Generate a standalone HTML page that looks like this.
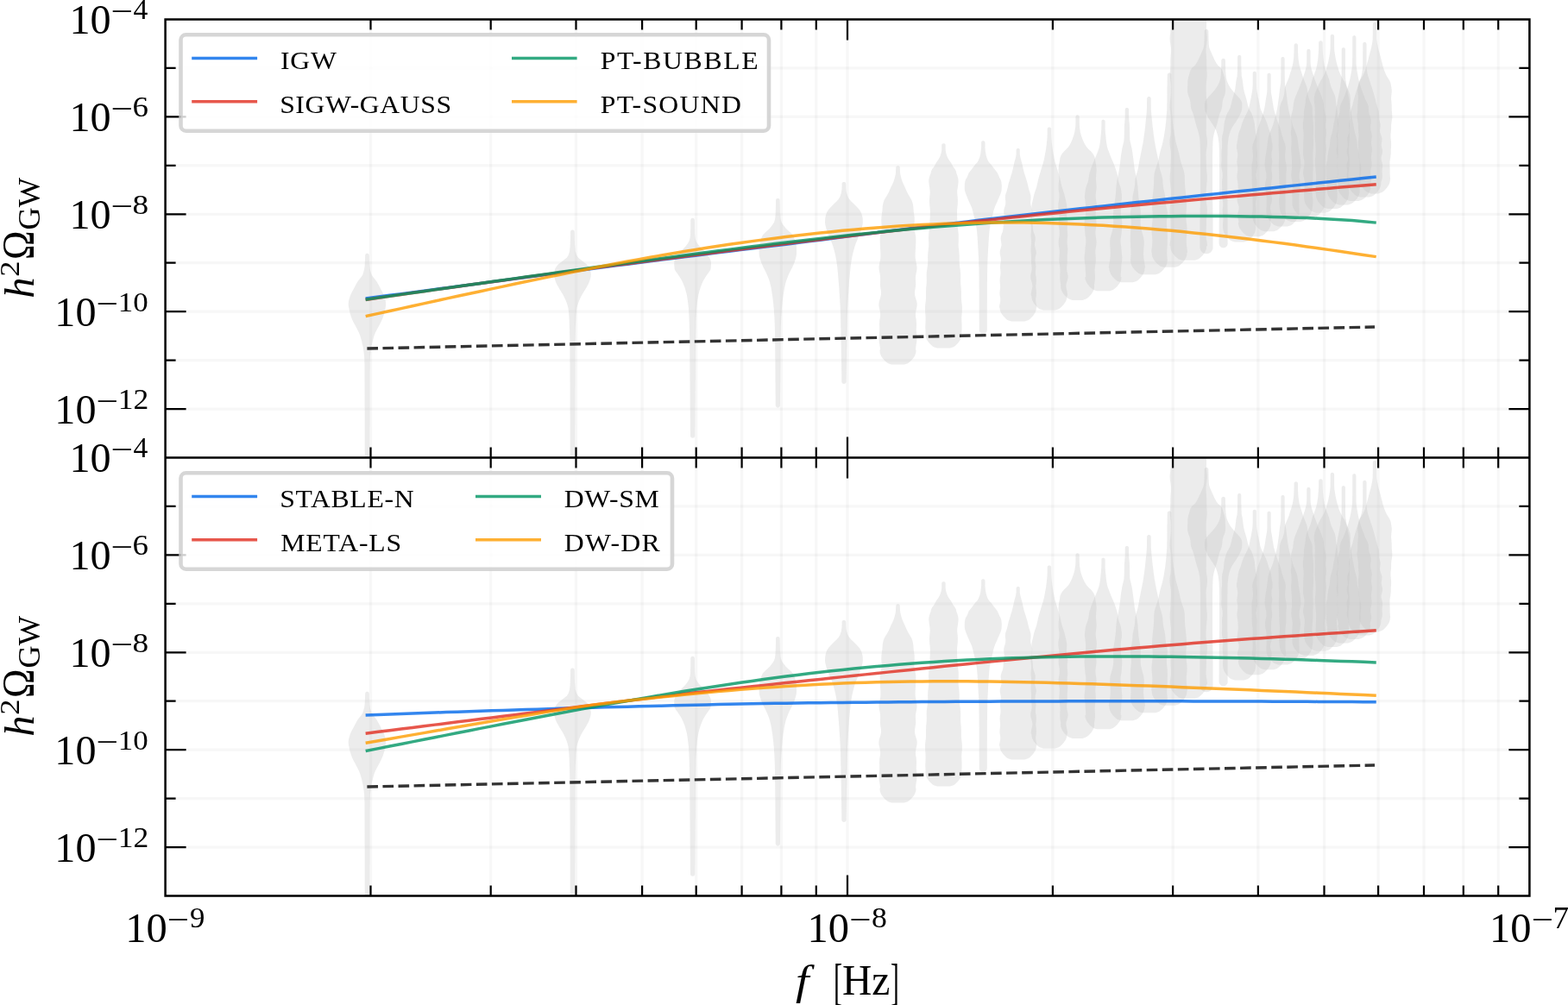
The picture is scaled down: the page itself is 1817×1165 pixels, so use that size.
<!DOCTYPE html>
<html lang="en"><head><meta charset="utf-8"><title>GWB spectra</title>
<style>html,body{margin:0;padding:0;background:#fff;overflow:hidden}svg{display:block}text{font-family:"Liberation Serif","DejaVu Serif",serif;fill:#000}</style></head><body>
<svg width="1817" height="1165" viewBox="0 0 1817 1165">
<rect width="1817" height="1165" fill="#fff"/>
<defs>
<clipPath id="clip0"><rect x="191.6" y="22.5" width="1580.8" height="508.0"/></clipPath>
<clipPath id="clip1"><rect x="191.6" y="530.5" width="1580.8" height="507.9"/></clipPath>
</defs>
<g id="panel0">
<path d="M429.5 22.5V530.5M568.7 22.5V530.5M667.5 22.5V530.5M744.1 22.5V530.5M806.7 22.5V530.5M859.6 22.5V530.5M905.4 22.5V530.5M945.8 22.5V530.5M982.0 22.5V530.5M1219.9 22.5V530.5M1359.1 22.5V530.5M1457.9 22.5V530.5M1534.5 22.5V530.5M1597.1 22.5V530.5M1650.0 22.5V530.5M1695.8 22.5V530.5M1736.2 22.5V530.5" stroke="#000" stroke-opacity="0.03" stroke-width="3.3" fill="none"/>
<path d="M191.6 78.9H1772.4M191.6 135.4H1772.4M191.6 191.8H1772.4M191.6 248.3H1772.4M191.6 304.7H1772.4M191.6 361.2H1772.4M191.6 417.6H1772.4M191.6 474.1H1772.4" stroke="#000" stroke-opacity="0.03" stroke-width="3.3" fill="none"/>
<g clip-path="url(#clip0)" fill="#c6c6c6" fill-opacity="0.33">
<path d="M425.5 293.7L424.9 293.8L424.3 294.0L423.9 294.4L423.5 294.8L423.3 295.4L423.2 296.0L423.1 298.5L423.0 301.0L422.9 303.5L422.8 306.0L422.6 308.5L422.3 311.0L421.8 313.5L421.1 316.0L420.2 318.5L418.7 321.0L416.6 323.5L414.7 326.0L413.2 328.5L411.9 331.0L410.6 333.5L409.3 336.0L407.9 338.5L406.6 341.0L405.6 343.5L404.9 346.0L404.2 348.5L403.8 351.0L403.8 353.5L404.1 356.0L404.6 358.5L405.1 361.0L405.7 363.5L406.5 366.0L407.4 368.5L408.4 371.0L409.6 373.5L411.0 376.0L412.3 378.5L413.6 381.0L414.9 383.5L416.1 386.0L417.1 388.5L417.9 391.0L418.6 393.5L419.3 396.0L419.8 398.5L420.4 401.0L420.9 403.5L421.2 406.0L421.6 408.5L421.9 411.0L422.1 413.5L422.2 416.0L422.3 418.5L422.4 421.0L422.5 423.5L422.5 426.0L422.5 428.5L422.5 431.0L422.5 433.5L422.5 436.0L422.5 438.5L422.5 441.0L422.6 443.5L422.6 446.0L422.6 448.5L422.6 451.0L422.6 453.5L422.6 456.0L422.6 458.5L422.6 461.0L422.6 463.5L422.6 466.0L422.6 468.5L422.6 471.0L422.7 473.5L422.7 476.0L422.7 478.5L422.7 481.0L422.7 483.5L422.7 486.0L422.7 488.5L422.7 491.0L422.7 493.5L422.7 496.0L422.7 498.5L422.7 501.0L422.7 503.5L422.7 506.0L422.7 508.5L422.7 511.0L422.7 513.5L422.7 516.0L422.7 518.5L422.7 521.0L422.7 523.5L422.8 526.0L422.8 528.5L422.8 531.0L422.8 533.5L422.8 536.0L422.8 538.5L422.8 541.0L422.8 543.5L422.8 546.0L422.8 548.5L422.8 551.0L422.8 553.5L422.8 556.0L422.8 558.5L422.8 561.0L422.8 563.5L422.8 566.0L422.8 568.5L422.8 571.0L422.8 573.5L422.8 576.0L422.8 578.5L422.8 581.0L422.8 583.5L422.8 586.0L422.8 588.5L422.8 591.0L422.8 593.5L422.8 596.0L422.8 598.5L422.8 601.0L422.8 603.5L422.8 606.0L422.8 608.5L422.8 611.0L422.8 613.5L422.8 616.0L422.8 618.5L422.8 621.0L422.9 623.5L422.9 626.0L422.9 628.5L422.9 631.0L422.9 633.5L422.9 636.0L422.9 638.5L422.9 640.5L422.9 640.7L422.9 640.9L423.0 641.1L423.0 641.3L423.1 641.6L423.2 641.8L423.4 642.0L423.5 642.2L423.8 642.4L424.0 642.6L424.4 642.9L425.5 643.1L425.5 643.1L426.5 642.9L426.9 642.6L427.2 642.4L427.4 642.2L427.6 642.0L427.7 641.8L427.8 641.6L427.9 641.3L428.0 641.1L428.0 640.9L428.1 640.7L428.1 640.5L428.1 638.5L428.1 636.0L428.1 633.5L428.1 631.0L428.1 628.5L428.1 626.0L428.1 623.5L428.1 621.0L428.1 618.5L428.1 616.0L428.1 613.5L428.1 611.0L428.1 608.5L428.1 606.0L428.1 603.5L428.1 601.0L428.1 598.5L428.1 596.0L428.1 593.5L428.1 591.0L428.1 588.5L428.1 586.0L428.1 583.5L428.2 581.0L428.2 578.5L428.2 576.0L428.2 573.5L428.2 571.0L428.2 568.5L428.2 566.0L428.2 563.5L428.2 561.0L428.2 558.5L428.2 556.0L428.2 553.5L428.2 551.0L428.2 548.5L428.2 546.0L428.2 543.5L428.2 541.0L428.2 538.5L428.2 536.0L428.2 533.5L428.2 531.0L428.2 528.5L428.2 526.0L428.2 523.5L428.2 521.0L428.2 518.5L428.2 516.0L428.2 513.5L428.2 511.0L428.2 508.5L428.2 506.0L428.2 503.5L428.2 501.0L428.2 498.5L428.2 496.0L428.3 493.5L428.3 491.0L428.3 488.5L428.3 486.0L428.3 483.5L428.3 481.0L428.3 478.5L428.3 476.0L428.3 473.5L428.3 471.0L428.3 468.5L428.3 466.0L428.3 463.5L428.3 461.0L428.3 458.5L428.4 456.0L428.4 453.5L428.4 451.0L428.4 448.5L428.4 446.0L428.4 443.5L428.4 441.0L428.4 438.5L428.4 436.0L428.4 433.5L428.4 431.0L428.5 428.5L428.5 426.0L428.5 423.5L428.5 421.0L428.6 418.5L428.8 416.0L428.9 413.5L429.1 411.0L429.4 408.5L429.7 406.0L430.1 403.5L430.6 401.0L431.1 398.5L431.7 396.0L432.3 393.5L433.0 391.0L433.8 388.5L434.8 386.0L436.0 383.5L437.4 381.0L438.7 378.5L440.0 376.0L441.3 373.5L442.5 371.0L443.5 368.5L444.4 366.0L445.2 363.5L445.9 361.0L446.4 358.5L446.8 356.0L447.1 353.5L447.1 351.0L446.7 348.5L446.1 346.0L445.3 343.5L444.4 341.0L443.1 338.5L441.7 336.0L440.4 333.5L439.1 331.0L437.7 328.5L436.3 326.0L434.4 323.5L432.3 321.0L430.7 318.5L429.8 316.0L429.1 313.5L428.7 311.0L428.4 308.5L428.2 306.0L428.1 303.5L427.9 301.0L427.9 298.5L427.8 296.0L427.7 295.4L427.5 294.8L427.1 294.4L426.6 294.0L426.1 293.8L425.5 293.7Z"/>
<path d="M663.4 266.4L662.8 266.5L662.3 266.7L661.8 267.1L661.4 267.5L661.2 268.1L661.1 268.7L661.1 271.2L661.0 273.7L661.0 276.2L660.9 278.7L660.8 281.2L660.7 283.7L660.6 286.2L660.3 288.7L660.0 291.2L659.4 293.7L658.4 296.2L656.8 298.7L653.6 301.2L650.4 303.7L647.2 306.2L644.9 308.7L643.4 311.2L642.6 313.7L642.2 316.2L642.0 318.7L642.3 321.2L643.0 323.7L643.8 326.2L644.8 328.7L646.2 331.2L647.6 333.7L649.0 336.2L650.6 338.7L652.2 341.2L653.5 343.7L654.7 346.2L655.8 348.7L656.8 351.2L657.5 353.7L658.2 356.2L658.7 358.7L659.0 361.2L659.2 363.7L659.4 366.2L659.5 368.7L659.7 371.2L659.8 373.7L659.8 376.2L659.9 378.7L660.0 381.2L660.1 383.7L660.1 386.2L660.2 388.7L660.2 391.2L660.3 393.7L660.3 396.2L660.3 398.7L660.3 401.2L660.4 403.7L660.4 406.2L660.4 408.7L660.4 411.2L660.4 413.7L660.4 416.2L660.4 418.7L660.5 421.2L660.5 423.7L660.5 426.2L660.5 428.7L660.5 431.2L660.5 433.7L660.5 436.2L660.5 438.7L660.5 441.2L660.6 443.7L660.6 446.2L660.6 448.7L660.6 451.2L660.6 453.7L660.6 456.2L660.6 458.7L660.6 461.2L660.6 463.7L660.6 466.2L660.6 468.7L660.6 471.2L660.6 473.7L660.6 476.2L660.6 478.7L660.7 481.2L660.7 483.7L660.7 486.2L660.7 488.7L660.7 491.2L660.7 493.7L660.7 496.2L660.7 498.7L660.7 501.2L660.7 503.7L660.7 506.2L660.7 508.7L660.7 511.2L660.7 513.7L660.7 516.2L660.7 518.7L660.7 521.2L660.7 523.7L660.7 526.2L660.7 528.7L660.8 531.2L660.8 533.7L660.8 536.2L660.8 538.7L660.8 541.2L660.8 543.7L660.8 546.2L660.8 548.7L660.8 551.2L660.8 553.7L660.8 555.1L660.8 555.4L660.8 555.6L660.9 555.8L661.0 556.0L661.0 556.2L661.2 556.4L661.3 556.7L661.5 556.9L661.7 557.1L662.0 557.3L662.4 557.5L663.4 557.7L663.4 557.7L664.5 557.5L664.8 557.3L665.1 557.1L665.3 556.9L665.5 556.7L665.7 556.4L665.8 556.2L665.9 556.0L665.9 555.8L666.0 555.6L666.0 555.4L666.0 555.1L666.0 553.7L666.0 551.2L666.0 548.7L666.0 546.2L666.0 543.7L666.0 541.2L666.1 538.7L666.1 536.2L666.1 533.7L666.1 531.2L666.1 528.7L666.1 526.2L666.1 523.7L666.1 521.2L666.1 518.7L666.1 516.2L666.1 513.7L666.1 511.2L666.1 508.7L666.1 506.2L666.1 503.7L666.1 501.2L666.1 498.7L666.1 496.2L666.1 493.7L666.2 491.2L666.2 488.7L666.2 486.2L666.2 483.7L666.2 481.2L666.2 478.7L666.2 476.2L666.2 473.7L666.2 471.2L666.2 468.7L666.2 466.2L666.2 463.7L666.2 461.2L666.2 458.7L666.2 456.2L666.2 453.7L666.2 451.2L666.3 448.7L666.3 446.2L666.3 443.7L666.3 441.2L666.3 438.7L666.3 436.2L666.3 433.7L666.3 431.2L666.3 428.7L666.3 426.2L666.4 423.7L666.4 421.2L666.4 418.7L666.4 416.2L666.4 413.7L666.4 411.2L666.4 408.7L666.4 406.2L666.5 403.7L666.5 401.2L666.5 398.7L666.5 396.2L666.5 393.7L666.6 391.2L666.6 388.7L666.7 386.2L666.8 383.7L666.8 381.2L666.9 378.7L667.0 376.2L667.1 373.7L667.2 371.2L667.3 368.7L667.4 366.2L667.6 363.7L667.8 361.2L668.1 358.7L668.6 356.2L669.3 353.7L670.1 351.2L671.0 348.7L672.1 346.2L673.3 343.7L674.7 341.2L676.2 338.7L677.8 336.2L679.3 333.7L680.7 331.2L682.0 328.7L683.0 326.2L683.8 323.7L684.5 321.2L684.8 318.7L684.6 316.2L684.2 313.7L683.4 311.2L681.9 308.7L679.7 306.2L676.4 303.7L673.2 301.2L670.1 298.7L668.5 296.2L667.5 293.7L666.8 291.2L666.5 288.7L666.3 286.2L666.1 283.7L666.0 281.2L665.9 278.7L665.9 276.2L665.8 273.7L665.8 271.2L665.7 268.7L665.6 268.1L665.4 267.5L665.0 267.1L664.6 266.7L664.0 266.5L663.4 266.4Z"/>
<path d="M802.6 252.8L802.0 252.9L801.4 253.1L801.0 253.5L800.6 253.9L800.4 254.5L800.3 255.1L800.3 257.6L800.2 260.1L800.2 262.6L800.2 265.1L800.1 267.6L800.1 270.1L800.0 272.6L799.7 275.1L799.2 277.6L798.3 280.1L796.8 282.6L795.0 285.1L792.7 287.6L790.1 290.1L787.7 292.6L785.5 295.1L783.8 297.6L782.5 300.1L781.5 302.6L781.2 305.1L781.3 307.6L781.5 310.1L781.8 312.6L783.3 315.1L785.2 317.6L786.9 320.1L788.5 322.6L790.0 325.1L791.2 327.6L792.2 330.1L793.2 332.6L794.0 335.1L794.7 337.6L795.4 340.1L796.0 342.6L796.4 345.1L796.8 347.6L797.1 350.1L797.4 352.6L797.7 355.1L798.0 357.6L798.1 360.1L798.3 362.6L798.4 365.1L798.5 367.6L798.6 370.1L798.7 372.6L798.8 375.1L798.9 377.6L798.9 380.1L799.0 382.6L799.0 385.1L799.0 387.6L799.1 390.1L799.1 392.6L799.1 395.1L799.1 397.6L799.2 400.1L799.2 402.6L799.2 405.1L799.2 407.6L799.3 410.1L799.3 412.6L799.3 415.1L799.3 417.6L799.4 420.1L799.4 422.6L799.4 425.1L799.4 427.6L799.4 430.1L799.5 432.6L799.5 435.1L799.5 437.6L799.5 440.1L799.5 442.6L799.6 445.1L799.6 447.6L799.6 450.1L799.6 452.6L799.6 455.1L799.7 457.6L799.7 460.1L799.7 462.6L799.7 465.1L799.7 467.6L799.7 470.1L799.8 472.6L799.8 475.1L799.8 477.6L799.8 480.1L799.8 482.6L799.9 485.1L799.9 487.6L799.9 490.1L799.9 492.6L799.9 495.1L799.9 497.6L800.0 500.1L800.0 502.6L800.0 505.1L800.0 505.2L800.0 505.5L800.0 505.7L800.1 505.9L800.1 506.1L800.2 506.3L800.3 506.5L800.5 506.8L800.7 507.0L800.9 507.2L801.2 507.4L801.6 507.6L802.6 507.8L802.6 507.8L803.6 507.6L804.0 507.4L804.3 507.2L804.5 507.0L804.7 506.8L804.8 506.5L805.0 506.3L805.0 506.1L805.1 505.9L805.2 505.7L805.2 505.5L805.2 505.2L805.2 505.1L805.2 502.6L805.2 500.1L805.2 497.6L805.3 495.1L805.3 492.6L805.3 490.1L805.3 487.6L805.3 485.1L805.3 482.6L805.4 480.1L805.4 477.6L805.4 475.1L805.4 472.6L805.4 470.1L805.5 467.6L805.5 465.1L805.5 462.6L805.5 460.1L805.5 457.6L805.5 455.1L805.6 452.6L805.6 450.1L805.6 447.6L805.6 445.1L805.6 442.6L805.7 440.1L805.7 437.6L805.7 435.1L805.7 432.6L805.7 430.1L805.8 427.6L805.8 425.1L805.8 422.6L805.8 420.1L805.9 417.6L805.9 415.1L805.9 412.6L805.9 410.1L805.9 407.6L806.0 405.1L806.0 402.6L806.0 400.1L806.0 397.6L806.1 395.1L806.1 392.6L806.1 390.1L806.1 387.6L806.2 385.1L806.2 382.6L806.3 380.1L806.3 377.6L806.4 375.1L806.4 372.6L806.5 370.1L806.6 367.6L806.8 365.1L806.9 362.6L807.0 360.1L807.2 357.6L807.5 355.1L807.7 352.6L808.1 350.1L808.4 347.6L808.8 345.1L809.2 342.6L809.8 340.1L810.4 337.6L811.2 335.1L812.0 332.6L813.0 330.1L814.0 327.6L815.2 325.1L816.7 322.6L818.3 320.1L820.0 317.6L821.9 315.1L823.4 312.6L823.7 310.1L823.9 307.6L824.0 305.1L823.7 302.6L822.7 300.1L821.3 297.6L819.7 295.1L817.4 292.6L815.1 290.1L812.5 287.6L810.2 285.1L808.4 282.6L806.8 280.1L806.0 277.6L805.5 275.1L805.2 272.6L805.1 270.1L805.1 267.6L805.0 265.1L805.0 262.6L805.0 260.1L804.9 257.6L804.9 255.1L804.8 254.5L804.6 253.9L804.2 253.5L803.7 253.1L803.2 252.9L802.6 252.8Z"/>
<path d="M901.3 229.9L900.7 230.0L900.2 230.2L899.7 230.6L899.4 231.0L899.1 231.6L899.0 232.2L899.0 234.7L899.0 237.2L898.9 239.7L898.9 242.2L898.8 244.7L898.7 247.2L898.5 249.7L898.3 252.2L897.9 254.7L897.2 257.2L895.8 259.7L893.9 262.2L892.0 264.7L889.3 267.2L886.5 269.7L884.1 272.2L882.8 274.7L881.8 277.2L881.1 279.7L880.4 282.2L879.8 284.7L879.6 287.2L879.6 289.7L879.6 292.2L879.7 294.7L880.0 297.2L880.7 299.7L881.4 302.2L882.3 304.7L883.4 307.2L884.5 309.7L885.8 312.2L887.1 314.7L888.3 317.2L889.4 319.7L890.4 322.2L891.3 324.7L892.1 327.2L892.7 329.7L893.3 332.2L893.8 334.7L894.2 337.2L894.6 339.7L895.0 342.2L895.3 344.7L895.6 347.2L895.9 349.7L896.2 352.2L896.4 354.7L896.7 357.2L896.9 359.7L897.0 362.2L897.2 364.7L897.4 367.2L897.5 369.7L897.6 372.2L897.7 374.7L897.8 377.2L897.9 379.7L897.9 382.2L898.0 384.7L898.0 387.2L898.0 389.7L898.1 392.2L898.1 394.7L898.1 397.2L898.2 399.7L898.2 402.2L898.2 404.7L898.3 407.2L898.3 409.7L898.3 412.2L898.3 414.7L898.4 417.2L898.4 419.7L898.4 422.2L898.4 424.7L898.4 427.2L898.5 429.7L898.5 432.2L898.5 434.7L898.5 437.2L898.5 439.7L898.5 442.2L898.6 444.7L898.6 447.2L898.6 449.7L898.6 452.2L898.6 454.7L898.6 457.2L898.7 459.7L898.7 462.2L898.7 464.7L898.7 467.2L898.7 469.7L898.7 469.8L898.8 470.0L898.8 470.3L898.8 470.5L898.9 470.7L899.0 470.9L899.1 471.1L899.2 471.3L899.4 471.6L899.6 471.8L899.9 472.0L900.3 472.2L901.3 472.4L901.3 472.4L902.4 472.2L902.8 472.0L903.1 471.8L903.3 471.6L903.5 471.3L903.6 471.1L903.7 470.9L903.8 470.7L903.9 470.5L903.9 470.3L903.9 470.0L903.9 469.8L903.9 469.7L904.0 467.2L904.0 464.7L904.0 462.2L904.0 459.7L904.0 457.2L904.1 454.7L904.1 452.2L904.1 449.7L904.1 447.2L904.1 444.7L904.2 442.2L904.2 439.7L904.2 437.2L904.2 434.7L904.2 432.2L904.2 429.7L904.3 427.2L904.3 424.7L904.3 422.2L904.3 419.7L904.3 417.2L904.4 414.7L904.4 412.2L904.4 409.7L904.4 407.2L904.5 404.7L904.5 402.2L904.5 399.7L904.5 397.2L904.6 394.7L904.6 392.2L904.6 389.7L904.7 387.2L904.7 384.7L904.8 382.2L904.8 379.7L904.9 377.2L905.0 374.7L905.1 372.2L905.2 369.7L905.3 367.2L905.5 364.7L905.7 362.2L905.8 359.7L906.0 357.2L906.3 354.7L906.5 352.2L906.8 349.7L907.1 347.2L907.4 344.7L907.7 342.2L908.1 339.7L908.5 337.2L908.9 334.7L909.4 332.2L910.0 329.7L910.6 327.2L911.4 324.7L912.3 322.2L913.3 319.7L914.4 317.2L915.6 314.7L916.9 312.2L918.2 309.7L919.3 307.2L920.4 304.7L921.3 302.2L922.0 299.7L922.6 297.2L923.0 294.7L923.0 292.2L923.0 289.7L923.0 287.2L922.9 284.7L922.3 282.2L921.6 279.7L920.9 277.2L919.9 274.7L918.6 272.2L916.2 269.7L913.3 267.2L910.7 264.7L908.8 262.2L906.9 259.7L905.5 257.2L904.8 254.7L904.4 252.2L904.2 249.7L904.0 247.2L903.9 244.7L903.8 242.2L903.8 239.7L903.7 237.2L903.7 234.7L903.6 232.2L903.6 231.6L903.3 231.0L903.0 230.6L902.5 230.2L901.9 230.0L901.3 229.9Z"/>
<path d="M977.9 210.9L977.3 211.0L976.8 211.2L976.3 211.6L976.0 212.0L975.7 212.6L975.6 213.2L975.6 215.7L975.5 218.2L975.3 220.7L974.9 223.2L974.2 225.7L973.3 228.2L971.8 230.7L969.7 233.2L967.0 235.7L964.5 238.2L962.1 240.7L959.9 243.2L958.3 245.7L957.4 248.2L956.7 250.7L956.2 253.2L956.1 255.7L956.0 258.2L956.4 260.7L957.0 263.2L957.7 265.7L958.5 268.2L959.4 270.7L960.3 273.2L961.4 275.7L962.5 278.2L963.6 280.7L964.5 283.2L965.4 285.7L966.1 288.2L966.8 290.7L967.5 293.2L968.0 295.7L968.5 298.2L969.0 300.7L969.4 303.2L969.7 305.7L970.1 308.2L970.4 310.7L970.6 313.2L970.9 315.7L971.1 318.2L971.3 320.7L971.5 323.2L971.7 325.7L971.9 328.2L972.1 330.7L972.3 333.2L972.5 335.7L972.6 338.2L972.8 340.7L972.9 343.2L973.1 345.7L973.3 348.2L973.4 350.7L973.6 353.2L973.7 355.7L973.8 358.2L973.9 360.7L974.0 363.2L974.1 365.7L974.1 368.2L974.2 370.7L974.2 373.2L974.3 375.7L974.3 378.2L974.4 380.7L974.4 383.2L974.5 385.7L974.5 388.2L974.5 390.7L974.6 393.2L974.6 395.7L974.7 398.2L974.7 400.7L974.8 403.2L974.8 405.7L974.8 408.2L974.9 410.7L974.9 413.2L975.0 415.7L975.0 418.2L975.0 420.7L975.1 423.2L975.1 425.7L975.1 428.2L975.2 430.7L975.2 433.2L975.3 435.7L975.3 438.2L975.3 440.7L975.3 442.4L975.4 442.6L975.4 442.8L975.4 443.0L975.5 443.2L975.6 443.4L975.7 443.7L975.8 443.9L976.0 444.1L976.2 444.3L976.5 444.5L976.9 444.7L977.9 445.0L977.9 445.0L979.0 444.7L979.4 444.5L979.7 444.3L979.9 444.1L980.1 443.9L980.2 443.7L980.3 443.4L980.4 443.2L980.5 443.0L980.5 442.8L980.5 442.6L980.5 442.4L980.5 440.7L980.6 438.2L980.6 435.7L980.7 433.2L980.7 430.7L980.7 428.2L980.8 425.7L980.8 423.2L980.9 420.7L980.9 418.2L980.9 415.7L981.0 413.2L981.0 410.7L981.0 408.2L981.1 405.7L981.1 403.2L981.2 400.7L981.2 398.2L981.3 395.7L981.3 393.2L981.3 390.7L981.4 388.2L981.4 385.7L981.5 383.2L981.5 380.7L981.6 378.2L981.6 375.7L981.7 373.2L981.7 370.7L981.8 368.2L981.8 365.7L981.9 363.2L982.0 360.7L982.0 358.2L982.2 355.7L982.3 353.2L982.5 350.7L982.6 348.2L982.8 345.7L982.9 343.2L983.1 340.7L983.3 338.2L983.4 335.7L983.6 333.2L983.8 330.7L983.9 328.2L984.1 325.7L984.3 323.2L984.6 320.7L984.8 318.2L985.0 315.7L985.3 313.2L985.5 310.7L985.8 308.2L986.1 305.7L986.5 303.2L986.9 300.7L987.3 298.2L987.9 295.7L988.4 293.2L989.1 290.7L989.8 288.2L990.5 285.7L991.4 283.2L992.3 280.7L993.4 278.2L994.5 275.7L995.6 273.2L996.5 270.7L997.4 268.2L998.2 265.7L998.8 263.2L999.5 260.7L999.8 258.2L999.8 255.7L999.7 253.2L999.2 250.7L998.5 248.2L997.5 245.7L996.0 243.2L993.8 240.7L991.4 238.2L988.8 235.7L986.2 233.2L984.1 230.7L982.5 228.2L981.7 225.7L981.0 223.2L980.5 220.7L980.3 218.2L980.3 215.7L980.2 213.2L980.2 212.6L979.9 212.0L979.6 211.6L979.1 211.2L978.5 211.0L977.9 210.9Z"/>
<path d="M1040.5 192.2L1039.9 192.3L1039.4 192.5L1038.9 192.9L1038.5 193.3L1038.3 193.9L1038.2 194.5L1038.1 197.0L1038.0 199.5L1037.8 202.0L1037.2 204.5L1036.6 207.0L1035.8 209.5L1034.8 212.0L1033.7 214.5L1032.4 217.0L1031.3 219.5L1030.3 222.0L1029.0 224.5L1027.6 227.0L1026.0 229.5L1024.6 232.0L1023.7 234.5L1023.1 237.0L1022.7 239.5L1022.6 242.0L1022.4 244.5L1022.0 247.0L1021.7 249.5L1021.4 252.0L1021.3 254.5L1021.3 257.0L1021.5 259.5L1021.7 262.0L1021.5 264.5L1021.2 267.0L1020.7 269.5L1020.2 272.0L1019.9 274.5L1019.7 277.0L1019.7 279.5L1019.8 282.0L1019.9 284.5L1020.0 287.0L1020.2 289.5L1020.3 292.0L1020.4 294.5L1020.4 297.0L1020.3 299.5L1019.9 302.0L1019.3 304.5L1018.8 307.0L1018.5 309.5L1018.6 312.0L1019.0 314.5L1019.5 317.0L1019.9 319.5L1020.1 322.0L1020.1 324.5L1020.0 327.0L1019.9 329.5L1020.1 332.0L1020.4 334.5L1020.9 337.0L1021.1 339.5L1020.9 342.0L1020.3 344.5L1019.5 347.0L1018.8 349.5L1018.4 352.0L1018.4 354.5L1018.9 357.0L1019.5 359.5L1020.0 362.0L1020.1 364.5L1020.0 367.0L1019.6 369.5L1019.2 372.0L1019.1 374.5L1019.1 377.0L1019.2 379.5L1019.2 382.0L1019.1 384.5L1018.9 387.0L1018.7 389.5L1018.5 392.0L1018.6 394.5L1018.9 397.0L1019.3 399.5L1019.7 402.0L1020.0 404.5L1019.5 406.5L1019.6 407.8L1019.8 409.2L1020.2 410.5L1020.7 411.8L1021.4 413.2L1022.3 414.5L1023.3 415.8L1024.4 417.2L1025.7 418.5L1027.2 419.8L1029.1 421.2L1033.1 422.5L1047.9 422.5L1052.0 421.2L1053.9 419.8L1055.3 418.5L1056.6 417.2L1057.8 415.8L1058.8 414.5L1059.6 413.2L1060.3 411.8L1060.8 410.5L1061.2 409.2L1061.5 407.8L1061.5 406.5L1061.1 404.5L1061.3 402.0L1061.7 399.5L1062.1 397.0L1062.4 394.5L1062.5 392.0L1062.4 389.5L1062.2 387.0L1061.9 384.5L1061.8 382.0L1061.9 379.5L1062.0 377.0L1062.0 374.5L1061.8 372.0L1061.5 369.5L1061.1 367.0L1060.9 364.5L1061.1 362.0L1061.6 359.5L1062.2 357.0L1062.6 354.5L1062.7 352.0L1062.3 349.5L1061.5 347.0L1060.7 344.5L1060.1 342.0L1060.0 339.5L1060.2 337.0L1060.6 334.5L1061.0 332.0L1061.2 329.5L1061.1 327.0L1061.0 324.5L1060.9 322.0L1061.1 319.5L1061.6 317.0L1062.1 314.5L1062.5 312.0L1062.5 309.5L1062.2 307.0L1061.7 304.5L1061.2 302.0L1060.8 299.5L1060.6 297.0L1060.6 294.5L1060.7 292.0L1060.9 289.5L1061.0 287.0L1061.1 284.5L1061.3 282.0L1061.3 279.5L1061.3 277.0L1061.2 274.5L1060.8 272.0L1060.3 269.5L1059.9 267.0L1059.5 264.5L1059.4 262.0L1059.5 259.5L1059.7 257.0L1059.8 254.5L1059.7 252.0L1059.4 249.5L1059.0 247.0L1058.7 244.5L1058.5 242.0L1058.3 239.5L1057.9 237.0L1057.3 234.5L1056.4 232.0L1055.0 229.5L1053.5 227.0L1052.0 224.5L1050.8 222.0L1049.7 219.5L1048.6 217.0L1047.4 214.5L1046.3 212.0L1045.3 209.5L1044.5 207.0L1043.9 204.5L1043.3 202.0L1043.0 199.5L1042.9 197.0L1042.8 194.5L1042.7 193.9L1042.5 193.3L1042.2 192.9L1041.7 192.5L1041.1 192.3L1040.5 192.2Z"/>
<path d="M1093.4 166.2L1092.9 166.3L1092.3 166.5L1091.9 166.8L1091.5 167.3L1091.3 167.8L1091.2 168.4L1091.2 170.9L1091.2 173.4L1090.9 175.9L1090.3 178.4L1089.5 180.9L1088.3 183.4L1086.7 185.9L1084.9 188.4L1083.6 190.9L1082.2 193.4L1080.2 195.9L1079.0 198.4L1078.5 200.9L1077.6 203.4L1076.8 205.9L1076.3 208.4L1076.3 210.9L1076.6 213.4L1076.9 215.9L1077.3 218.4L1077.6 220.9L1077.7 223.4L1077.5 225.9L1077.2 228.4L1077.0 230.9L1076.9 233.4L1077.1 235.9L1077.3 238.4L1077.6 240.9L1077.8 243.4L1077.9 245.9L1077.8 248.4L1077.8 250.9L1077.6 253.4L1077.5 255.9L1077.4 258.4L1077.3 260.9L1077.1 263.4L1076.8 265.9L1076.5 268.4L1076.2 270.9L1076.1 273.4L1076.0 275.9L1076.1 278.4L1076.2 280.9L1076.3 283.4L1076.2 285.9L1075.9 288.4L1075.6 290.9L1075.3 293.4L1075.2 295.9L1075.1 298.4L1075.2 300.9L1075.2 303.4L1075.1 305.9L1074.8 308.4L1074.5 310.9L1074.1 313.4L1073.8 315.9L1073.7 318.4L1073.7 320.9L1073.8 323.4L1073.8 325.9L1073.7 328.4L1073.5 330.9L1073.2 333.4L1073.1 335.9L1073.0 338.4L1073.0 340.9L1073.0 343.4L1073.0 345.9L1072.8 348.4L1072.5 350.9L1072.2 353.4L1072.0 355.9L1072.0 358.4L1072.1 360.9L1072.3 363.4L1072.5 365.9L1072.6 368.4L1072.6 370.9L1072.5 373.4L1072.4 375.9L1072.3 378.4L1072.3 380.9L1072.5 383.4L1072.6 385.9L1072.4 387.5L1072.5 388.9L1072.7 390.2L1073.1 391.5L1073.7 392.9L1074.4 394.2L1075.2 395.5L1076.2 396.9L1077.3 398.2L1078.6 399.5L1080.1 400.9L1082.0 402.2L1086.0 403.5L1100.8 403.5L1104.9 402.2L1106.8 400.9L1108.3 399.5L1109.6 398.2L1110.7 396.9L1111.7 395.5L1112.5 394.2L1113.2 392.9L1113.8 391.5L1114.1 390.2L1114.4 388.9L1114.4 387.5L1114.3 385.9L1114.4 383.4L1114.6 380.9L1114.6 378.4L1114.5 375.9L1114.4 373.4L1114.3 370.9L1114.2 368.4L1114.4 365.9L1114.6 363.4L1114.8 360.9L1114.9 358.4L1114.9 355.9L1114.7 353.4L1114.4 350.9L1114.1 348.4L1113.9 345.9L1113.9 343.4L1113.9 340.9L1113.9 338.4L1113.8 335.9L1113.6 333.4L1113.4 330.9L1113.2 328.4L1113.1 325.9L1113.1 323.4L1113.2 320.9L1113.2 318.4L1113.0 315.9L1112.8 313.4L1112.4 310.9L1112.1 308.4L1111.8 305.9L1111.7 303.4L1111.7 300.9L1111.7 298.4L1111.7 295.9L1111.5 293.4L1111.3 290.9L1111.0 288.4L1110.7 285.9L1110.6 283.4L1110.7 280.9L1110.8 278.4L1110.8 275.9L1110.8 273.4L1110.7 270.9L1110.4 268.4L1110.1 265.9L1109.8 263.4L1109.6 260.9L1109.5 258.4L1109.4 255.9L1109.2 253.4L1109.1 250.9L1109.1 248.4L1109.0 245.9L1109.1 243.4L1109.3 240.9L1109.6 238.4L1109.8 235.9L1109.9 233.4L1109.9 230.9L1109.7 228.4L1109.4 225.9L1109.2 223.4L1109.2 220.9L1109.6 218.4L1110.0 215.9L1110.3 213.4L1110.6 210.9L1110.5 208.4L1110.1 205.9L1109.3 203.4L1108.4 200.9L1107.9 198.4L1106.6 195.9L1104.7 193.4L1103.3 190.9L1102.0 188.4L1100.1 185.9L1098.5 183.4L1097.4 180.9L1096.6 178.4L1096.0 175.9L1095.7 173.4L1095.6 170.9L1095.6 168.4L1095.6 167.8L1095.3 167.3L1095.0 166.8L1094.5 166.5L1094.0 166.3L1093.4 166.2Z"/>
<path d="M1139.3 163.2L1138.7 163.3L1138.2 163.5L1137.7 163.8L1137.4 164.3L1137.2 164.8L1137.1 165.4L1137.1 167.9L1137.1 170.4L1136.9 172.9L1136.6 175.4L1136.3 177.9L1135.8 180.4L1135.0 182.9L1134.0 185.4L1132.7 187.9L1130.3 190.4L1128.4 192.9L1126.6 195.4L1124.6 197.9L1122.6 200.4L1121.6 202.9L1120.6 205.4L1119.1 207.9L1118.3 210.4L1117.9 212.9L1117.8 215.4L1117.8 217.9L1117.9 220.4L1118.6 222.9L1119.5 225.4L1120.5 227.9L1121.5 230.4L1122.6 232.9L1123.7 235.4L1124.9 237.9L1126.0 240.4L1126.8 242.9L1127.4 245.4L1128.0 247.9L1128.6 250.4L1129.2 252.9L1129.8 255.4L1130.4 257.9L1130.9 260.4L1131.3 262.9L1131.8 265.4L1132.1 267.9L1132.3 270.4L1132.5 272.9L1132.7 275.4L1132.8 277.9L1133.0 280.4L1133.1 282.9L1133.3 285.4L1133.4 287.9L1133.6 290.4L1133.7 292.9L1133.8 295.4L1134.0 297.9L1134.1 300.4L1134.2 302.9L1134.2 305.4L1134.3 307.9L1134.4 310.4L1134.5 312.9L1134.5 315.4L1134.5 317.9L1134.6 320.4L1134.6 322.9L1134.6 325.4L1134.6 327.9L1134.6 330.4L1134.6 332.9L1134.7 335.4L1134.7 337.9L1134.7 340.4L1134.7 342.9L1134.7 345.4L1134.7 347.9L1134.7 350.4L1134.7 352.9L1134.7 355.4L1134.7 357.9L1134.7 360.4L1134.7 362.9L1134.7 365.4L1134.7 367.9L1134.7 370.4L1134.8 372.9L1134.8 375.4L1134.8 377.9L1134.8 380.4L1134.8 382.6L1134.8 383.0L1134.8 383.4L1134.9 383.7L1135.0 384.1L1135.2 384.5L1135.4 384.9L1135.6 385.2L1135.9 385.6L1136.3 386.0L1136.8 386.4L1137.5 386.7L1139.3 387.1L1139.3 387.1L1141.1 386.7L1141.8 386.4L1142.3 386.0L1142.6 385.6L1142.9 385.2L1143.2 384.9L1143.4 384.5L1143.5 384.1L1143.6 383.7L1143.7 383.4L1143.8 383.0L1143.8 382.6L1143.8 380.4L1143.8 377.9L1143.8 375.4L1143.8 372.9L1143.8 370.4L1143.8 367.9L1143.8 365.4L1143.8 362.9L1143.8 360.4L1143.8 357.9L1143.8 355.4L1143.8 352.9L1143.9 350.4L1143.9 347.9L1143.9 345.4L1143.9 342.9L1143.9 340.4L1143.9 337.9L1143.9 335.4L1143.9 332.9L1143.9 330.4L1143.9 327.9L1144.0 325.4L1144.0 322.9L1144.0 320.4L1144.0 317.9L1144.1 315.4L1144.1 312.9L1144.2 310.4L1144.2 307.9L1144.3 305.4L1144.4 302.9L1144.5 300.4L1144.6 297.9L1144.7 295.4L1144.9 292.9L1145.0 290.4L1145.1 287.9L1145.3 285.4L1145.4 282.9L1145.6 280.4L1145.7 277.9L1145.9 275.4L1146.1 272.9L1146.3 270.4L1146.5 267.9L1146.8 265.4L1147.2 262.9L1147.7 260.4L1148.2 257.9L1148.7 255.4L1149.4 252.9L1150.0 250.4L1150.6 247.9L1151.1 245.4L1151.8 242.9L1152.6 240.4L1153.6 237.9L1154.8 235.4L1155.9 232.9L1157.0 230.4L1158.1 227.9L1159.1 225.4L1160.0 222.9L1160.6 220.4L1160.7 217.9L1160.8 215.4L1160.6 212.9L1160.3 210.4L1159.4 207.9L1158.0 205.4L1157.0 202.9L1155.9 200.4L1154.0 197.9L1152.0 195.4L1150.2 192.9L1148.3 190.4L1145.9 187.9L1144.5 185.4L1143.6 182.9L1142.8 180.4L1142.3 177.9L1141.9 175.4L1141.6 172.9L1141.5 170.4L1141.5 167.9L1141.5 165.4L1141.4 164.8L1141.2 164.3L1140.8 163.8L1140.4 163.5L1139.8 163.3L1139.3 163.2Z"/>
<path d="M1179.7 172.0L1179.2 172.1L1178.7 172.3L1178.2 172.6L1177.9 173.1L1177.7 173.6L1177.6 174.1L1177.6 176.6L1177.6 179.1L1177.2 181.6L1176.6 184.1L1175.9 186.6L1175.2 189.1L1174.7 191.6L1174.1 194.1L1173.6 196.6L1172.9 199.1L1172.2 201.6L1171.4 204.1L1170.7 206.6L1169.9 209.1L1169.1 211.6L1168.4 214.1L1167.9 216.6L1167.3 219.1L1166.6 221.6L1165.7 224.1L1165.0 226.6L1164.8 229.1L1165.0 231.6L1165.3 234.1L1165.2 236.6L1164.6 239.1L1163.8 241.6L1163.2 244.1L1163.2 246.6L1163.5 249.1L1163.7 251.6L1163.7 254.1L1163.3 256.6L1162.9 259.1L1162.7 261.6L1162.6 264.1L1162.3 266.6L1161.7 269.1L1160.7 271.6L1159.9 274.1L1159.6 276.6L1159.9 279.1L1160.3 281.6L1160.5 284.1L1160.0 286.6L1159.3 289.1L1158.7 291.6L1158.7 294.1L1159.2 296.6L1159.7 299.1L1159.9 301.6L1159.6 304.1L1159.2 306.6L1158.9 309.1L1159.1 311.6L1159.4 314.1L1159.5 316.6L1159.3 319.1L1158.9 321.6L1158.6 324.1L1158.6 326.6L1158.9 329.1L1159.1 331.6L1159.1 334.1L1158.7 336.6L1158.5 339.1L1158.5 341.6L1158.9 344.1L1159.2 346.6L1159.2 349.1L1158.8 351.6L1158.2 354.1L1157.9 356.6L1158.5 356.6L1158.6 357.9L1158.8 359.3L1159.2 360.6L1159.7 361.9L1160.4 363.3L1161.3 364.6L1162.3 365.9L1163.4 367.3L1164.7 368.6L1166.1 369.9L1168.1 371.3L1172.1 372.6L1187.3 372.6L1191.3 371.3L1193.3 369.9L1194.7 368.6L1196.0 367.3L1197.2 365.9L1198.2 364.6L1199.0 363.3L1199.7 361.9L1200.2 360.6L1200.6 359.3L1200.8 357.9L1200.9 356.6L1201.6 356.6L1201.2 354.1L1200.6 351.6L1200.2 349.1L1200.2 346.6L1200.5 344.1L1200.9 341.6L1200.9 339.1L1200.7 336.6L1200.4 334.1L1200.3 331.6L1200.5 329.1L1200.8 326.6L1200.8 324.1L1200.6 321.6L1200.1 319.1L1199.9 316.6L1200.0 314.1L1200.3 311.6L1200.5 309.1L1200.2 306.6L1199.8 304.1L1199.5 301.6L1199.7 299.1L1200.2 296.6L1200.7 294.1L1200.7 291.6L1200.1 289.1L1199.4 286.6L1199.0 284.1L1199.1 281.6L1199.5 279.1L1199.8 276.6L1199.5 274.1L1198.7 271.6L1197.7 269.1L1197.1 266.6L1196.9 264.1L1196.7 261.6L1196.5 259.1L1196.1 256.6L1195.7 254.1L1195.7 251.6L1195.9 249.1L1196.2 246.6L1196.2 244.1L1195.6 241.6L1194.8 239.1L1194.2 236.6L1194.1 234.1L1194.4 231.6L1194.6 229.1L1194.4 226.6L1193.7 224.1L1192.9 221.6L1192.1 219.1L1191.5 216.6L1191.0 214.1L1190.3 211.6L1189.6 209.1L1188.8 206.6L1188.0 204.1L1187.2 201.6L1186.5 199.1L1185.9 196.6L1185.3 194.1L1184.8 191.6L1184.2 189.1L1183.5 186.6L1182.8 184.1L1182.2 181.6L1181.8 179.1L1181.8 176.6L1181.8 174.1L1181.7 173.6L1181.5 173.1L1181.2 172.6L1180.8 172.3L1180.3 172.1L1179.7 172.0Z"/>
<path d="M1215.9 147.4L1215.3 147.5L1214.8 147.7L1214.3 148.0L1214.0 148.5L1213.8 149.0L1213.7 149.6L1213.7 152.1L1213.7 154.6L1213.6 157.1L1213.5 159.6L1213.3 162.1L1213.0 164.6L1212.8 167.1L1212.5 169.6L1212.2 172.1L1211.8 174.6L1211.3 177.1L1210.9 179.6L1210.4 182.1L1209.9 184.6L1209.3 187.1L1208.7 189.6L1207.9 192.1L1207.1 194.6L1206.3 197.1L1205.6 199.6L1204.8 202.1L1204.1 204.6L1203.4 207.1L1202.8 209.6L1202.3 212.1L1201.7 214.6L1201.1 217.1L1200.3 219.6L1199.4 222.1L1198.6 224.6L1197.9 227.1L1197.4 229.6L1196.8 232.1L1196.2 234.6L1195.7 237.1L1195.4 239.6L1195.5 242.1L1195.8 244.6L1195.9 247.1L1195.6 249.6L1195.1 252.1L1194.6 254.6L1194.5 257.1L1194.6 259.6L1194.9 262.1L1195.1 264.6L1195.0 267.1L1194.8 269.6L1194.6 272.1L1194.7 274.6L1194.9 277.1L1195.1 279.6L1195.1 282.1L1194.9 284.6L1194.6 287.1L1194.5 289.6L1194.6 292.1L1194.9 294.6L1195.0 297.1L1195.0 299.6L1194.9 302.1L1195.0 304.6L1195.3 307.1L1195.5 309.6L1195.6 312.1L1195.3 314.6L1194.7 317.1L1194.2 319.6L1194.2 322.1L1194.8 324.6L1195.6 327.1L1196.2 329.6L1196.4 332.1L1196.0 334.6L1195.4 337.1L1194.9 339.6L1194.7 342.1L1195.4 343.6L1195.5 345.0L1195.7 346.3L1196.1 347.6L1196.6 349.0L1197.3 350.3L1198.1 351.6L1199.1 353.0L1200.3 354.3L1201.6 355.6L1203.0 357.0L1204.9 358.3L1209.0 359.6L1222.8 359.6L1226.8 358.3L1228.7 357.0L1230.2 355.6L1231.5 354.3L1232.6 353.0L1233.6 351.6L1234.5 350.3L1235.2 349.0L1235.7 347.6L1236.1 346.3L1236.3 345.0L1236.4 343.6L1237.1 342.1L1236.8 339.6L1236.3 337.1L1235.7 334.6L1235.4 332.1L1235.5 329.6L1236.2 327.1L1237.0 324.6L1237.5 322.1L1237.5 319.6L1237.1 317.1L1236.5 314.6L1236.2 312.1L1236.2 309.6L1236.5 307.1L1236.7 304.6L1236.8 302.1L1236.8 299.6L1236.7 297.1L1236.9 294.6L1237.1 292.1L1237.3 289.6L1237.2 287.1L1236.9 284.6L1236.6 282.1L1236.6 279.6L1236.8 277.1L1237.1 274.6L1237.2 272.1L1237.0 269.6L1236.8 267.1L1236.7 264.6L1236.8 262.1L1237.1 259.6L1237.3 257.1L1237.1 254.6L1236.6 252.1L1236.1 249.6L1235.9 247.1L1236.0 244.6L1236.2 242.1L1236.3 239.6L1236.1 237.1L1235.5 234.6L1235.0 232.1L1234.4 229.6L1233.8 227.1L1233.2 224.6L1232.3 222.1L1231.5 219.6L1230.7 217.1L1230.0 214.6L1229.4 212.1L1228.9 209.6L1228.4 207.1L1227.7 204.6L1226.9 202.1L1226.1 199.6L1225.4 197.1L1224.7 194.6L1223.8 192.1L1223.1 189.6L1222.4 187.1L1221.9 184.6L1221.3 182.1L1220.9 179.6L1220.4 177.1L1220.0 174.6L1219.6 172.1L1219.3 169.6L1219.0 167.1L1218.7 164.6L1218.5 162.1L1218.3 159.6L1218.2 157.1L1218.1 154.6L1218.1 152.1L1218.1 149.6L1218.0 149.0L1217.8 148.5L1217.4 148.0L1217.0 147.7L1216.4 147.5L1215.9 147.4Z"/>
<path d="M1248.6 133.3L1248.0 133.4L1247.5 133.6L1247.0 133.9L1246.7 134.4L1246.5 134.9L1246.4 135.5L1246.4 138.0L1246.4 140.5L1246.4 143.0L1246.3 145.5L1246.1 148.0L1245.7 150.5L1245.3 153.0L1244.7 155.5L1243.9 158.0L1243.0 160.5L1242.1 163.0L1240.9 165.5L1239.6 168.0L1238.0 170.5L1235.6 173.0L1233.0 175.5L1230.9 178.0L1229.4 180.5L1228.4 183.0L1228.1 185.5L1227.7 188.0L1227.2 190.5L1226.8 193.0L1226.6 195.5L1226.5 198.0L1226.7 200.5L1227.0 203.0L1227.2 205.5L1227.2 208.0L1227.0 210.5L1226.7 213.0L1226.6 215.5L1226.6 218.0L1226.8 220.5L1227.2 223.0L1227.5 225.5L1227.5 228.0L1227.3 230.5L1226.9 233.0L1226.5 235.5L1226.3 238.0L1226.4 240.5L1226.7 243.0L1227.2 245.5L1227.5 248.0L1227.5 250.5L1227.3 253.0L1226.9 255.5L1226.7 258.0L1226.7 260.5L1226.9 263.0L1227.4 265.5L1227.7 268.0L1227.8 270.5L1227.6 273.0L1227.2 275.5L1226.8 278.0L1226.6 280.5L1226.7 283.0L1227.1 285.5L1227.5 288.0L1227.8 290.5L1227.9 293.0L1227.7 295.5L1227.5 298.0L1227.3 300.5L1227.4 303.0L1227.7 305.5L1228.1 308.0L1228.4 310.5L1228.5 313.0L1228.5 315.5L1228.3 318.0L1228.2 320.5L1228.3 323.0L1228.5 325.5L1228.9 328.0L1229.2 330.5L1229.1 331.9L1229.2 333.2L1229.4 334.6L1229.8 335.9L1230.3 337.2L1231.0 338.6L1231.8 339.9L1232.8 341.2L1234.0 342.6L1235.3 343.9L1236.7 345.2L1238.7 346.6L1242.7 347.9L1254.5 347.9L1258.5 346.6L1260.5 345.2L1261.9 343.9L1263.2 342.6L1264.4 341.2L1265.3 339.9L1266.2 338.6L1266.9 337.2L1267.4 335.9L1267.8 334.6L1268.0 333.2L1268.1 331.9L1268.0 330.5L1268.3 328.0L1268.7 325.5L1268.9 323.0L1269.0 320.5L1268.8 318.0L1268.7 315.5L1268.6 313.0L1268.8 310.5L1269.1 308.0L1269.5 305.5L1269.8 303.0L1269.8 300.5L1269.7 298.0L1269.5 295.5L1269.3 293.0L1269.4 290.5L1269.7 288.0L1270.1 285.5L1270.5 283.0L1270.6 280.5L1270.4 278.0L1270.0 275.5L1269.6 273.0L1269.4 270.5L1269.5 268.0L1269.8 265.5L1270.2 263.0L1270.5 260.5L1270.5 258.0L1270.3 255.5L1269.9 253.0L1269.7 250.5L1269.7 248.0L1270.0 245.5L1270.5 243.0L1270.8 240.5L1270.9 238.0L1270.7 235.5L1270.3 233.0L1269.9 230.5L1269.7 228.0L1269.7 225.5L1270.0 223.0L1270.4 220.5L1270.6 218.0L1270.6 215.5L1270.4 213.0L1270.2 210.5L1270.0 208.0L1270.0 205.5L1270.2 203.0L1270.4 200.5L1270.6 198.0L1270.6 195.5L1270.4 193.0L1270.0 190.5L1269.5 188.0L1269.1 185.5L1268.8 183.0L1267.8 180.5L1266.3 178.0L1264.2 175.5L1261.5 173.0L1259.2 170.5L1257.6 168.0L1256.3 165.5L1255.1 163.0L1254.1 160.5L1253.2 158.0L1252.5 155.5L1251.8 153.0L1251.5 150.5L1251.1 148.0L1250.9 145.5L1250.8 143.0L1250.8 140.5L1250.8 138.0L1250.8 135.5L1250.7 134.9L1250.5 134.4L1250.1 133.9L1249.7 133.6L1249.2 133.4L1248.6 133.3Z"/>
<path d="M1278.5 138.6L1277.9 138.7L1277.4 138.9L1277.0 139.2L1276.6 139.7L1276.4 140.2L1276.4 140.7L1276.4 143.2L1276.4 145.7L1276.3 148.2L1276.2 150.7L1276.0 153.2L1275.8 155.7L1275.5 158.2L1275.3 160.7L1275.0 163.2L1274.7 165.7L1274.3 168.2L1273.8 170.7L1273.0 173.2L1272.1 175.7L1271.1 178.2L1270.1 180.7L1269.1 183.2L1268.0 185.7L1266.9 188.2L1265.9 190.7L1265.0 193.2L1264.1 195.7L1263.3 198.2L1262.5 200.7L1262.0 203.2L1261.7 205.7L1261.3 208.2L1260.7 210.7L1259.8 213.2L1258.9 215.7L1258.1 218.2L1257.7 220.7L1257.4 223.2L1257.1 225.7L1256.9 228.2L1257.1 230.7L1257.5 233.2L1257.9 235.7L1258.1 238.2L1258.1 240.7L1258.1 243.2L1258.0 245.7L1258.0 248.2L1257.8 250.7L1257.3 253.2L1256.8 255.7L1256.6 258.2L1256.6 260.7L1256.8 263.2L1257.0 265.7L1257.2 268.2L1257.4 270.7L1257.7 273.2L1258.2 275.7L1258.4 278.2L1258.4 280.7L1258.1 283.2L1257.7 285.7L1257.5 288.2L1257.4 290.7L1257.1 293.2L1256.8 295.7L1256.6 298.2L1256.6 300.7L1256.9 303.2L1257.3 305.7L1257.6 308.2L1257.7 310.7L1257.8 313.2L1258.0 315.7L1258.2 318.2L1258.2 320.7L1257.5 321.2L1257.5 322.5L1257.8 323.9L1258.1 325.2L1258.7 326.5L1259.4 327.9L1260.2 329.2L1261.2 330.5L1262.4 331.9L1263.6 333.2L1265.1 334.5L1267.0 335.9L1271.1 337.2L1285.9 337.2L1289.9 335.9L1291.8 334.5L1293.3 333.2L1294.6 331.9L1295.7 330.5L1296.7 329.2L1297.6 327.9L1298.2 326.5L1298.8 325.2L1299.2 323.9L1299.4 322.5L1299.5 321.2L1298.7 320.7L1298.7 318.2L1298.9 315.7L1299.1 313.2L1299.2 310.7L1299.3 308.2L1299.6 305.7L1300.0 303.2L1300.3 300.7L1300.4 298.2L1300.1 295.7L1299.8 293.2L1299.6 290.7L1299.4 288.2L1299.2 285.7L1298.8 283.2L1298.5 280.7L1298.5 278.2L1298.8 275.7L1299.2 273.2L1299.6 270.7L1299.8 268.2L1299.9 265.7L1300.1 263.2L1300.3 260.7L1300.3 258.2L1300.1 255.7L1299.6 253.2L1299.2 250.7L1298.9 248.2L1298.9 245.7L1298.9 243.2L1298.8 240.7L1298.8 238.2L1299.0 235.7L1299.4 233.2L1299.9 230.7L1300.0 228.2L1299.9 225.7L1299.5 223.2L1299.2 220.7L1298.8 218.2L1298.0 215.7L1297.1 213.2L1296.3 210.7L1295.6 208.2L1295.3 205.7L1294.9 203.2L1294.4 200.7L1293.6 198.2L1292.8 195.7L1291.9 193.2L1291.0 190.7L1290.0 188.2L1288.9 185.7L1287.8 183.2L1286.8 180.7L1285.8 178.2L1284.9 175.7L1283.9 173.2L1283.1 170.7L1282.6 168.2L1282.2 165.7L1281.9 163.2L1281.6 160.7L1281.4 158.2L1281.1 155.7L1280.9 153.2L1280.7 150.7L1280.6 148.2L1280.6 145.7L1280.6 143.2L1280.6 140.7L1280.5 140.2L1280.3 139.7L1279.9 139.2L1279.5 138.9L1279.0 138.7L1278.5 138.6Z"/>
<path d="M1305.9 125.0L1305.4 125.1L1304.8 125.3L1304.4 125.6L1304.0 126.1L1303.8 126.6L1303.7 127.2L1303.7 129.7L1303.7 132.2L1303.7 134.7L1303.6 137.2L1303.4 139.7L1303.2 142.2L1303.0 144.7L1302.9 147.2L1302.9 149.7L1302.8 152.2L1302.8 154.7L1302.7 157.2L1302.7 159.7L1302.5 162.2L1302.1 164.7L1301.5 167.2L1300.9 169.7L1300.3 172.2L1299.9 174.7L1299.5 177.2L1299.1 179.7L1298.8 182.2L1298.5 184.7L1298.2 187.2L1297.9 189.7L1297.6 192.2L1297.2 194.7L1296.8 197.2L1296.4 199.7L1295.9 202.2L1295.3 204.7L1294.8 207.2L1294.4 209.7L1294.0 212.2L1293.7 214.7L1293.4 217.2L1293.2 219.7L1293.1 222.2L1292.9 224.7L1292.7 227.2L1292.4 229.7L1292.0 232.2L1291.6 234.7L1291.2 237.2L1290.8 239.7L1290.4 242.2L1290.2 244.7L1290.1 247.2L1290.1 249.7L1290.1 252.2L1290.2 254.7L1290.3 257.2L1290.2 259.7L1290.0 262.2L1289.6 264.7L1289.0 267.2L1288.3 269.7L1287.6 272.2L1286.9 274.7L1286.4 277.2L1286.2 279.7L1286.2 282.2L1286.3 284.7L1286.5 287.2L1286.7 289.7L1286.8 292.2L1286.8 294.7L1286.7 297.2L1286.4 299.7L1286.1 302.2L1285.6 304.7L1285.2 307.2L1284.8 309.7L1285.4 311.3L1285.5 312.7L1285.7 314.0L1286.1 315.3L1286.7 316.7L1287.3 318.0L1288.2 319.3L1289.2 320.7L1290.3 322.0L1291.6 323.3L1293.1 324.7L1295.0 326.0L1299.0 327.3L1312.8 327.3L1316.9 326.0L1318.8 324.7L1320.3 323.3L1321.5 322.0L1322.7 320.7L1323.7 319.3L1324.5 318.0L1325.2 316.7L1325.8 315.3L1326.1 314.0L1326.4 312.7L1326.4 311.3L1327.0 309.7L1326.7 307.2L1326.3 304.7L1325.8 302.2L1325.4 299.7L1325.2 297.2L1325.0 294.7L1325.1 292.2L1325.2 289.7L1325.4 287.2L1325.6 284.7L1325.7 282.2L1325.7 279.7L1325.4 277.2L1325.0 274.7L1324.3 272.2L1323.6 269.7L1322.9 267.2L1322.3 264.7L1321.9 262.2L1321.7 259.7L1321.6 257.2L1321.7 254.7L1321.7 252.2L1321.8 249.7L1321.8 247.2L1321.7 244.7L1321.5 242.2L1321.1 239.7L1320.7 237.2L1320.2 234.7L1319.8 232.2L1319.5 229.7L1319.2 227.2L1319.0 224.7L1318.8 222.2L1318.6 219.7L1318.5 217.2L1318.2 214.7L1317.9 212.2L1317.5 209.7L1317.0 207.2L1316.5 204.7L1316.0 202.2L1315.5 199.7L1315.0 197.2L1314.6 194.7L1314.3 192.2L1314.0 189.7L1313.7 187.2L1313.4 184.7L1313.0 182.2L1312.7 179.7L1312.4 177.2L1312.0 174.7L1311.6 172.2L1311.0 169.7L1310.4 167.2L1309.8 164.7L1309.3 162.2L1309.2 159.7L1309.1 157.2L1309.1 154.7L1309.1 152.2L1309.0 149.7L1309.0 147.2L1308.9 144.7L1308.7 142.2L1308.4 139.7L1308.2 137.2L1308.1 134.7L1308.1 132.2L1308.1 129.7L1308.1 127.2L1308.1 126.6L1307.8 126.1L1307.5 125.6L1307.0 125.3L1306.5 125.1L1305.9 125.0Z"/>
<path d="M1331.4 112.0L1330.8 112.1L1330.2 112.3L1329.8 112.7L1329.4 113.2L1329.2 113.7L1329.1 114.3L1329.1 116.8L1329.0 119.3L1329.0 121.8L1329.0 124.3L1328.9 126.8L1328.8 129.3L1328.6 131.8L1328.4 134.3L1328.1 136.8L1327.8 139.3L1327.6 141.8L1327.3 144.3L1327.1 146.8L1326.8 149.3L1326.5 151.8L1326.2 154.3L1325.8 156.8L1325.5 159.3L1325.1 161.8L1324.7 164.3L1324.3 166.8L1323.8 169.3L1323.3 171.8L1322.8 174.3L1322.3 176.8L1321.8 179.3L1321.3 181.8L1320.8 184.3L1320.3 186.8L1319.9 189.3L1319.5 191.8L1319.0 194.3L1318.5 196.8L1317.8 199.3L1317.0 201.8L1316.3 204.3L1315.7 206.8L1315.4 209.3L1315.2 211.8L1315.0 214.3L1314.8 216.8L1314.3 219.3L1313.8 221.8L1313.2 224.3L1312.7 226.8L1312.5 229.3L1312.3 231.8L1312.1 234.3L1311.7 236.8L1311.2 239.3L1310.7 241.8L1310.2 244.3L1309.9 246.8L1309.9 249.3L1310.2 251.8L1310.6 254.3L1310.8 256.8L1310.9 259.3L1310.7 261.8L1310.5 264.3L1310.2 266.8L1310.0 269.3L1309.9 271.8L1309.9 274.3L1309.9 276.8L1309.9 279.3L1310.0 281.8L1310.1 284.3L1310.2 286.8L1310.4 289.3L1310.5 291.8L1310.5 294.3L1310.4 296.8L1310.2 299.3L1309.9 301.8L1310.1 302.2L1310.2 303.5L1310.4 304.9L1310.8 306.2L1311.3 307.5L1312.0 308.9L1312.8 310.2L1313.8 311.5L1315.0 312.9L1316.3 314.2L1317.7 315.5L1319.6 316.9L1323.7 318.2L1339.1 318.2L1343.1 316.9L1345.0 315.5L1346.5 314.2L1347.8 312.9L1348.9 311.5L1349.9 310.2L1350.8 308.9L1351.5 307.5L1352.0 306.2L1352.4 304.9L1352.6 303.5L1352.7 302.2L1352.8 301.8L1352.6 299.3L1352.4 296.8L1352.2 294.3L1352.2 291.8L1352.4 289.3L1352.5 286.8L1352.7 284.3L1352.8 281.8L1352.8 279.3L1352.9 276.8L1352.9 274.3L1352.9 271.8L1352.8 269.3L1352.6 266.8L1352.3 264.3L1352.0 261.8L1351.9 259.3L1351.9 256.8L1352.2 254.3L1352.5 251.8L1352.8 249.3L1352.9 246.8L1352.6 244.3L1352.1 241.8L1351.5 239.3L1351.0 236.8L1350.7 234.3L1350.5 231.8L1350.3 229.3L1350.0 226.8L1349.6 224.3L1349.0 221.8L1348.4 219.3L1348.0 216.8L1347.7 214.3L1347.5 211.8L1347.4 209.3L1347.0 206.8L1346.5 204.3L1345.8 201.8L1345.0 199.3L1344.3 196.8L1343.7 194.3L1343.3 191.8L1342.8 189.3L1342.4 186.8L1342.0 184.3L1341.5 181.8L1341.0 179.3L1340.4 176.8L1339.9 174.3L1339.4 171.8L1338.9 169.3L1338.5 166.8L1338.0 164.3L1337.6 161.8L1337.3 159.3L1336.9 156.8L1336.6 154.3L1336.3 151.8L1336.0 149.3L1335.7 146.8L1335.4 144.3L1335.2 141.8L1334.9 139.3L1334.7 136.8L1334.4 134.3L1334.2 131.8L1334.0 129.3L1333.8 126.8L1333.8 124.3L1333.7 121.8L1333.7 119.3L1333.7 116.8L1333.7 114.3L1333.6 113.7L1333.4 113.2L1333.0 112.7L1332.5 112.3L1332.0 112.1L1331.4 112.0Z"/>
<path d="M1355.1 84.5L1354.5 84.6L1353.9 84.8L1353.4 85.2L1353.1 85.7L1352.8 86.2L1352.8 86.8L1352.7 89.3L1352.7 91.8L1352.6 94.3L1352.6 96.8L1352.6 99.3L1352.5 101.8L1352.5 104.3L1352.5 106.8L1352.5 109.3L1352.4 111.8L1352.4 114.3L1352.4 116.8L1352.4 119.3L1352.3 121.8L1352.3 124.3L1352.2 126.8L1352.1 129.3L1351.9 131.8L1351.7 134.3L1351.5 136.8L1351.3 139.3L1351.1 141.8L1350.8 144.3L1350.5 146.8L1350.2 149.3L1349.8 151.8L1349.4 154.3L1349.0 156.8L1348.6 159.3L1348.1 161.8L1347.6 164.3L1347.0 166.8L1346.3 169.3L1345.6 171.8L1344.9 174.3L1344.2 176.8L1343.7 179.3L1343.1 181.8L1342.6 184.3L1342.0 186.8L1341.3 189.3L1340.4 191.8L1339.6 194.3L1338.8 196.8L1338.1 199.3L1337.6 201.8L1337.3 204.3L1337.2 206.8L1337.2 209.3L1337.1 211.8L1337.0 214.3L1336.8 216.8L1336.6 219.3L1336.3 221.8L1336.0 224.3L1335.8 226.8L1335.5 229.3L1335.3 231.8L1335.2 234.3L1335.1 236.8L1335.1 239.3L1335.2 241.8L1335.4 244.3L1335.6 246.8L1335.7 249.3L1335.7 251.8L1335.6 254.3L1335.4 256.8L1335.1 259.3L1334.8 261.8L1334.6 264.3L1334.5 266.8L1334.6 269.3L1334.8 271.8L1335.1 274.3L1335.3 276.8L1335.4 279.3L1335.3 281.8L1335.1 284.3L1334.8 286.8L1334.5 289.3L1334.3 291.8L1334.8 293.7L1334.8 295.1L1335.1 296.4L1335.4 297.7L1336.0 299.1L1336.7 300.4L1337.5 301.7L1338.5 303.1L1339.6 304.4L1340.9 305.7L1342.4 307.1L1344.3 308.4L1348.4 309.7L1361.8 309.7L1365.8 308.4L1367.7 307.1L1369.2 305.7L1370.5 304.4L1371.6 303.1L1372.6 301.7L1373.4 300.4L1374.1 299.1L1374.7 297.7L1375.1 296.4L1375.3 295.1L1375.4 293.7L1375.9 291.8L1375.7 289.3L1375.3 286.8L1375.0 284.3L1374.8 281.8L1374.7 279.3L1374.8 276.8L1375.0 274.3L1375.3 271.8L1375.5 269.3L1375.6 266.8L1375.5 264.3L1375.3 261.8L1375.0 259.3L1374.7 256.8L1374.5 254.3L1374.4 251.8L1374.4 249.3L1374.5 246.8L1374.7 244.3L1374.9 241.8L1375.0 239.3L1375.0 236.8L1374.9 234.3L1374.8 231.8L1374.6 229.3L1374.3 226.8L1374.1 224.3L1373.8 221.8L1373.5 219.3L1373.3 216.8L1373.1 214.3L1373.0 211.8L1372.9 209.3L1372.9 206.8L1372.8 204.3L1372.5 201.8L1372.0 199.3L1371.4 196.8L1370.5 194.3L1369.7 191.8L1368.8 189.3L1368.1 186.8L1367.5 184.3L1367.0 181.8L1366.5 179.3L1365.9 176.8L1365.2 174.3L1364.5 171.8L1363.8 169.3L1363.1 166.8L1362.5 164.3L1362.0 161.8L1361.6 159.3L1361.1 156.8L1360.7 154.3L1360.3 151.8L1359.9 149.3L1359.6 146.8L1359.3 144.3L1359.0 141.8L1358.8 139.3L1358.6 136.8L1358.4 134.3L1358.2 131.8L1358.0 129.3L1357.9 126.8L1357.8 124.3L1357.8 121.8L1357.8 119.3L1357.7 116.8L1357.7 114.3L1357.7 111.8L1357.7 109.3L1357.6 106.8L1357.6 104.3L1357.6 101.8L1357.5 99.3L1357.5 96.8L1357.5 94.3L1357.4 91.8L1357.4 89.3L1357.4 86.8L1357.3 86.2L1357.1 85.7L1356.7 85.2L1356.2 84.8L1355.7 84.6L1355.1 84.5Z"/>
<path d="M1377.2 -40.3L1376.6 -40.2L1376.1 -40.0L1375.6 -39.6L1375.2 -39.1L1375.0 -38.6L1374.9 -38.0L1367.8 -35.5L1360.3 -33.0L1356.2 -30.5L1356.3 -28.0L1356.5 -25.5L1356.6 -23.0L1356.7 -20.5L1356.7 -18.0L1356.6 -15.5L1356.5 -13.0L1356.3 -10.5L1356.2 -8.0L1356.2 -5.5L1356.1 -3.0L1356.0 -0.5L1355.9 2.0L1355.9 4.5L1356.1 7.0L1356.3 9.5L1356.5 12.0L1356.6 14.5L1356.7 17.0L1356.6 19.5L1356.5 22.0L1356.4 24.5L1356.4 27.0L1356.5 29.5L1356.5 32.0L1356.4 34.5L1356.3 37.0L1356.0 39.5L1355.7 42.0L1355.6 44.5L1355.7 47.0L1356.0 49.5L1356.4 52.0L1356.7 54.5L1356.9 57.0L1356.9 59.5L1356.8 62.0L1356.6 64.5L1356.4 67.0L1356.3 69.5L1356.3 72.0L1356.3 74.5L1356.2 77.0L1356.1 79.5L1355.9 82.0L1355.8 84.5L1355.8 87.0L1355.9 89.5L1356.1 92.0L1356.4 94.5L1356.7 97.0L1356.8 99.5L1356.9 102.0L1356.8 104.5L1356.8 107.0L1356.7 109.5L1356.5 112.0L1356.3 114.5L1356.0 117.0L1355.8 119.5L1355.6 122.0L1355.6 124.5L1355.8 127.0L1356.1 129.5L1356.3 132.0L1356.6 134.5L1356.7 137.0L1356.7 139.5L1356.6 142.0L1356.6 144.5L1356.7 147.0L1356.7 149.5L1356.7 152.0L1356.6 154.5L1356.3 157.0L1355.9 159.5L1355.6 162.0L1355.4 164.5L1355.5 167.0L1355.8 169.5L1356.2 172.0L1356.6 174.5L1356.8 177.0L1356.9 179.5L1356.9 182.0L1356.7 184.5L1356.6 187.0L1356.6 189.5L1356.5 192.0L1356.5 194.5L1356.3 197.0L1356.1 199.5L1355.8 202.0L1355.7 204.5L1355.6 207.0L1355.8 209.5L1356.0 212.0L1356.2 214.5L1356.5 217.0L1356.7 219.5L1356.8 222.0L1356.9 224.5L1356.9 227.0L1356.9 229.5L1356.8 232.0L1356.5 234.5L1356.2 237.0L1355.8 239.5L1355.6 242.0L1355.6 244.5L1355.7 247.0L1355.9 249.5L1356.2 252.0L1356.4 254.5L1356.5 257.0L1356.5 259.5L1356.5 262.0L1356.6 264.5L1356.7 267.0L1356.9 269.5L1356.9 272.0L1356.8 274.5L1356.5 277.0L1356.1 279.5L1355.7 282.0L1355.5 284.5L1356.3 285.8L1356.4 287.1L1356.6 288.4L1357.0 289.8L1357.5 291.1L1358.2 292.4L1359.1 293.8L1360.1 295.1L1361.2 296.4L1362.5 297.8L1364.0 299.1L1365.9 300.4L1369.9 301.8L1384.5 301.8L1388.5 300.4L1390.5 299.1L1391.9 297.8L1393.2 296.4L1394.4 295.1L1395.4 293.8L1396.2 292.4L1396.9 291.1L1397.4 289.8L1397.8 288.4L1398.0 287.1L1398.1 285.8L1399.0 284.5L1398.7 282.0L1398.4 279.5L1397.9 277.0L1397.6 274.5L1397.5 272.0L1397.6 269.5L1397.7 267.0L1397.8 264.5L1397.9 262.0L1397.9 259.5L1397.9 257.0L1398.0 254.5L1398.2 252.0L1398.5 249.5L1398.7 247.0L1398.9 244.5L1398.8 242.0L1398.6 239.5L1398.3 237.0L1397.9 234.5L1397.7 232.0L1397.5 229.5L1397.5 227.0L1397.5 224.5L1397.6 222.0L1397.8 219.5L1397.9 217.0L1398.2 214.5L1398.4 212.0L1398.7 209.5L1398.8 207.0L1398.8 204.5L1398.6 202.0L1398.4 199.5L1398.1 197.0L1398.0 194.5L1397.9 192.0L1397.8 189.5L1397.8 187.0L1397.7 184.5L1397.6 182.0L1397.5 179.5L1397.6 177.0L1397.9 174.5L1398.3 172.0L1398.7 169.5L1398.9 167.0L1399.0 164.5L1398.8 162.0L1398.5 159.5L1398.1 157.0L1397.8 154.5L1397.7 152.0L1397.7 149.5L1397.8 147.0L1397.8 144.5L1397.8 142.0L1397.8 139.5L1397.8 137.0L1397.9 134.5L1398.1 132.0L1398.4 129.5L1398.6 127.0L1398.8 124.5L1398.8 122.0L1398.6 119.5L1398.4 117.0L1398.1 114.5L1397.9 112.0L1397.8 109.5L1397.7 107.0L1397.6 104.5L1397.6 102.0L1397.6 99.5L1397.8 97.0L1398.0 94.5L1398.3 92.0L1398.5 89.5L1398.7 87.0L1398.6 84.5L1398.5 82.0L1398.3 79.5L1398.2 77.0L1398.1 74.5L1398.1 72.0L1398.1 69.5L1398.0 67.0L1397.8 64.5L1397.6 62.0L1397.5 59.5L1397.5 57.0L1397.7 54.5L1398.1 52.0L1398.4 49.5L1398.7 47.0L1398.8 44.5L1398.7 42.0L1398.4 39.5L1398.2 37.0L1398.0 34.5L1397.9 32.0L1398.0 29.5L1398.0 27.0L1398.0 24.5L1397.9 22.0L1397.8 19.5L1397.7 17.0L1397.8 14.5L1397.9 12.0L1398.2 9.5L1398.4 7.0L1398.5 4.5L1398.5 2.0L1398.5 -0.5L1398.4 -3.0L1398.3 -5.5L1398.2 -8.0L1398.1 -10.5L1398.0 -13.0L1397.8 -15.5L1397.7 -18.0L1397.7 -20.5L1397.8 -23.0L1398.0 -25.5L1398.2 -28.0L1398.2 -30.5L1394.1 -33.0L1386.6 -35.5L1379.5 -38.0L1379.4 -38.6L1379.2 -39.1L1378.8 -39.6L1378.4 -40.0L1377.8 -40.2L1377.2 -40.3Z"/>
<path d="M1398.0 34.0L1397.4 34.1L1396.9 34.3L1396.4 34.7L1396.0 35.1L1395.8 35.7L1395.7 36.3L1395.7 38.8L1395.6 41.3L1395.6 43.8L1395.5 46.3L1395.4 48.8L1395.3 51.3L1395.0 53.8L1394.4 56.3L1393.4 58.8L1392.3 61.3L1391.1 63.8L1390.0 66.3L1388.9 68.8L1387.6 71.3L1386.2 73.8L1384.3 76.3L1381.3 78.8L1379.7 81.3L1378.8 83.8L1378.1 86.3L1377.3 88.8L1376.7 91.3L1376.4 93.8L1376.2 96.3L1376.2 98.8L1376.1 101.3L1376.0 103.8L1376.1 106.3L1376.5 108.8L1377.3 111.3L1378.2 113.8L1379.0 116.3L1379.5 118.8L1379.7 121.3L1379.9 123.8L1380.4 126.3L1381.3 128.8L1382.3 131.3L1383.2 133.8L1384.0 136.3L1384.5 138.8L1385.1 141.3L1385.8 143.8L1386.5 146.3L1387.3 148.8L1388.1 151.3L1388.8 153.8L1389.4 156.3L1390.0 158.8L1390.4 161.3L1390.5 163.8L1390.6 166.3L1390.7 168.8L1390.8 171.3L1390.9 173.8L1390.9 176.3L1391.0 178.8L1391.0 181.3L1391.0 183.8L1391.0 186.3L1391.0 188.8L1391.0 191.3L1391.0 193.8L1391.0 196.3L1391.0 198.8L1391.0 201.3L1391.0 203.8L1391.0 206.3L1391.0 208.8L1391.0 211.3L1391.0 213.8L1391.0 216.3L1391.0 218.8L1391.0 221.3L1391.0 223.8L1391.0 226.3L1391.0 228.8L1390.9 231.3L1390.9 233.8L1390.8 236.3L1390.8 238.8L1390.7 241.3L1390.7 243.8L1390.7 246.3L1390.6 248.8L1390.6 251.3L1390.6 253.8L1390.5 256.3L1390.5 258.8L1390.5 261.3L1390.5 263.8L1390.5 266.3L1390.5 268.8L1390.5 271.3L1390.5 273.8L1390.5 276.3L1390.5 278.8L1390.5 281.3L1390.5 283.8L1390.5 286.3L1390.5 286.8L1390.5 287.4L1390.6 288.1L1390.8 288.7L1391.0 289.3L1391.2 289.9L1391.5 290.6L1391.9 291.2L1392.4 291.8L1393.1 292.4L1393.9 293.1L1395.0 293.7L1398.0 294.3L1398.0 294.3L1401.0 293.7L1402.2 293.1L1403.0 292.4L1403.6 291.8L1404.1 291.2L1404.5 290.6L1404.8 289.9L1405.1 289.3L1405.3 288.7L1405.4 288.1L1405.5 287.4L1405.5 286.8L1405.5 286.3L1405.5 283.8L1405.5 281.3L1405.5 278.8L1405.5 276.3L1405.5 273.8L1405.5 271.3L1405.5 268.8L1405.5 266.3L1405.5 263.8L1405.5 261.3L1405.5 258.8L1405.5 256.3L1405.5 253.8L1405.5 251.3L1405.4 248.8L1405.4 246.3L1405.3 243.8L1405.3 241.3L1405.3 238.8L1405.2 236.3L1405.2 233.8L1405.1 231.3L1405.1 228.8L1405.1 226.3L1405.0 223.8L1405.0 221.3L1405.0 218.8L1405.0 216.3L1405.0 213.8L1405.0 211.3L1405.0 208.8L1405.0 206.3L1405.0 203.8L1405.0 201.3L1405.0 198.8L1405.0 196.3L1405.0 193.8L1405.0 191.3L1405.0 188.8L1405.0 186.3L1405.0 183.8L1405.0 181.3L1405.1 178.8L1405.1 176.3L1405.2 173.8L1405.2 171.3L1405.3 168.8L1405.4 166.3L1405.5 163.8L1405.7 161.3L1406.0 158.8L1406.6 156.3L1407.2 153.8L1407.9 151.3L1408.7 148.8L1409.5 146.3L1410.3 143.8L1411.0 141.3L1411.5 138.8L1412.1 136.3L1412.8 133.8L1413.7 131.3L1414.7 128.8L1415.6 126.3L1416.1 123.8L1416.4 121.3L1416.5 118.8L1417.0 116.3L1417.8 113.8L1418.8 111.3L1419.6 108.8L1420.0 106.3L1420.1 103.8L1420.0 101.3L1419.9 98.8L1419.8 96.3L1419.7 93.8L1419.3 91.3L1418.7 88.8L1418.0 86.3L1417.2 83.8L1416.4 81.3L1414.8 78.8L1411.8 76.3L1409.8 73.8L1408.4 71.3L1407.1 68.8L1406.0 66.3L1404.9 63.8L1403.8 61.3L1402.6 58.8L1401.6 56.3L1401.0 53.8L1400.8 51.3L1400.7 48.8L1400.6 46.3L1400.5 43.8L1400.4 41.3L1400.4 38.8L1400.3 36.3L1400.2 35.7L1400.0 35.1L1399.7 34.7L1399.2 34.3L1398.6 34.1L1398.0 34.0Z"/>
<path d="M1417.6 67.8L1417.0 67.9L1416.5 68.1L1416.0 68.5L1415.7 69.0L1415.4 69.5L1415.3 70.1L1415.3 72.6L1415.3 75.1L1415.2 77.6L1415.1 80.1L1415.0 82.6L1414.9 85.1L1414.7 87.6L1414.4 90.1L1413.9 92.6L1413.0 95.1L1411.9 97.6L1410.6 100.1L1409.0 102.6L1407.0 105.1L1404.9 107.6L1402.6 110.1L1400.2 112.6L1398.2 115.1L1396.6 117.6L1396.1 120.1L1396.0 122.6L1396.0 125.1L1396.2 127.6L1397.1 130.1L1398.2 132.6L1399.4 135.1L1400.8 137.6L1402.4 140.1L1404.0 142.6L1405.7 145.1L1407.4 147.6L1408.7 150.1L1409.7 152.6L1410.5 155.1L1411.2 157.6L1411.7 160.1L1412.0 162.6L1412.3 165.1L1412.6 167.6L1412.7 170.1L1412.8 172.6L1412.9 175.1L1412.9 177.6L1412.9 180.1L1413.0 182.6L1413.0 185.1L1413.0 187.6L1413.0 190.1L1413.0 192.6L1413.0 195.1L1413.0 197.6L1413.0 200.1L1413.0 202.6L1413.0 205.1L1413.0 207.6L1413.0 210.1L1413.0 212.6L1413.0 215.1L1413.0 217.6L1413.0 220.1L1413.0 222.6L1412.9 225.1L1412.9 227.6L1412.9 230.1L1412.9 232.6L1412.9 235.1L1412.9 237.6L1412.8 240.1L1412.8 242.6L1412.8 245.1L1412.8 247.6L1412.8 250.1L1412.8 252.6L1412.8 255.1L1412.7 257.6L1412.7 260.1L1412.7 262.6L1412.7 265.1L1412.7 267.6L1412.7 270.1L1412.7 272.6L1412.6 275.1L1412.6 277.6L1412.6 280.1L1412.6 282.3L1412.7 282.7L1412.7 283.1L1412.8 283.5L1412.9 283.9L1413.1 284.4L1413.3 284.8L1413.6 285.2L1413.9 285.6L1414.3 286.0L1414.9 286.4L1415.6 286.9L1417.6 287.3L1417.6 287.3L1419.6 286.9L1420.4 286.4L1421.0 286.0L1421.4 285.6L1421.7 285.2L1422.0 284.8L1422.2 284.4L1422.4 283.9L1422.5 283.5L1422.6 283.1L1422.6 282.7L1422.6 282.3L1422.6 280.1L1422.6 277.6L1422.6 275.1L1422.6 272.6L1422.6 270.1L1422.6 267.6L1422.6 265.1L1422.6 262.6L1422.6 260.1L1422.6 257.6L1422.5 255.1L1422.5 252.6L1422.5 250.1L1422.5 247.6L1422.5 245.1L1422.5 242.6L1422.4 240.1L1422.4 237.6L1422.4 235.1L1422.4 232.6L1422.4 230.1L1422.4 227.6L1422.4 225.1L1422.3 222.6L1422.3 220.1L1422.3 217.6L1422.3 215.1L1422.3 212.6L1422.3 210.1L1422.3 207.6L1422.3 205.1L1422.2 202.6L1422.2 200.1L1422.2 197.6L1422.3 195.1L1422.3 192.6L1422.3 190.1L1422.3 187.6L1422.3 185.1L1422.3 182.6L1422.4 180.1L1422.4 177.6L1422.4 175.1L1422.5 172.6L1422.6 170.1L1422.7 167.6L1423.0 165.1L1423.3 162.6L1423.6 160.1L1424.1 157.6L1424.8 155.1L1425.6 152.6L1426.6 150.1L1427.9 147.6L1429.6 145.1L1431.3 142.6L1432.9 140.1L1434.5 137.6L1435.9 135.1L1437.1 132.6L1438.2 130.1L1439.0 127.6L1439.3 125.1L1439.3 122.6L1439.2 120.1L1438.7 117.6L1437.1 115.1L1435.1 112.6L1432.7 110.1L1430.4 107.6L1428.2 105.1L1426.3 102.6L1424.7 100.1L1423.4 97.6L1422.3 95.1L1421.4 92.6L1420.9 90.1L1420.6 87.6L1420.4 85.1L1420.2 82.6L1420.1 80.1L1420.1 77.6L1420.0 75.1L1420.0 72.6L1419.9 70.1L1419.9 69.5L1419.6 69.0L1419.3 68.5L1418.8 68.1L1418.2 67.9L1417.6 67.8Z"/>
<path d="M1436.2 63.8L1435.7 63.9L1435.2 64.1L1434.7 64.4L1434.4 64.8L1434.2 65.4L1434.1 65.9L1434.1 68.4L1434.1 70.9L1434.1 73.4L1434.1 75.9L1434.0 78.4L1434.0 80.9L1433.9 83.4L1433.7 85.9L1433.6 88.4L1433.0 90.9L1432.5 93.4L1432.2 95.9L1431.9 98.4L1431.6 100.9L1431.3 103.4L1430.7 105.9L1430.0 108.4L1429.3 110.9L1428.5 113.4L1427.8 115.9L1427.2 118.4L1426.7 120.9L1426.0 123.4L1425.2 125.9L1423.8 128.4L1422.2 130.9L1421.2 133.4L1420.4 135.9L1419.7 138.4L1419.0 140.9L1418.6 143.4L1418.3 145.9L1418.1 148.4L1417.9 150.9L1417.4 153.4L1416.7 155.9L1416.2 158.4L1416.0 160.9L1416.0 163.4L1416.1 165.9L1416.1 168.4L1416.0 170.9L1415.7 173.4L1415.5 175.9L1415.4 178.4L1415.4 180.9L1415.5 183.4L1415.5 185.9L1415.3 188.4L1415.2 190.9L1415.3 193.4L1415.7 195.9L1416.3 198.4L1416.7 200.9L1416.8 203.4L1416.6 205.9L1416.2 208.4L1416.0 210.9L1416.0 213.4L1416.1 215.9L1416.2 218.4L1416.1 220.9L1416.0 223.4L1415.9 225.9L1416.1 228.4L1416.6 230.9L1417.0 233.4L1417.3 235.9L1417.2 238.4L1416.9 240.9L1416.7 243.4L1416.8 245.9L1417.0 248.4L1417.3 250.9L1417.5 253.4L1417.4 255.9L1417.1 258.4L1417.0 260.9L1417.1 263.4L1417.3 264.6L1417.4 266.0L1417.6 267.3L1418.0 268.6L1418.5 270.0L1419.2 271.3L1420.1 272.6L1421.0 274.0L1422.2 275.3L1423.5 276.6L1424.9 278.0L1426.9 279.3L1430.9 280.6L1441.5 280.6L1445.5 279.3L1447.5 278.0L1448.9 276.6L1450.2 275.3L1451.4 274.0L1452.4 272.6L1453.2 271.3L1453.9 270.0L1454.4 268.6L1454.8 267.3L1455.0 266.0L1455.1 264.6L1455.3 263.4L1455.4 260.9L1455.3 258.4L1455.0 255.9L1454.9 253.4L1455.1 250.9L1455.4 248.4L1455.6 245.9L1455.7 243.4L1455.5 240.9L1455.2 238.4L1455.1 235.9L1455.4 233.4L1455.8 230.9L1456.3 228.4L1456.5 225.9L1456.4 223.4L1456.3 220.9L1456.2 218.4L1456.3 215.9L1456.4 213.4L1456.4 210.9L1456.2 208.4L1455.8 205.9L1455.6 203.4L1455.7 200.9L1456.1 198.4L1456.7 195.9L1457.1 193.4L1457.2 190.9L1457.1 188.4L1456.9 185.9L1456.9 183.4L1457.0 180.9L1457.0 178.4L1457.0 175.9L1456.7 173.4L1456.4 170.9L1456.3 168.4L1456.3 165.9L1456.5 163.4L1456.5 160.9L1456.2 158.4L1455.7 155.9L1455.0 153.4L1454.6 150.9L1454.3 148.4L1454.1 145.9L1453.9 143.4L1453.4 140.9L1452.7 138.4L1452.0 135.9L1451.2 133.4L1450.2 130.9L1448.6 128.4L1447.2 125.9L1446.4 123.4L1445.7 120.9L1445.2 118.4L1444.6 115.9L1443.9 113.4L1443.2 110.9L1442.4 108.4L1441.7 105.9L1441.2 103.4L1440.8 100.9L1440.5 98.4L1440.2 95.9L1439.9 93.4L1439.5 90.9L1438.8 88.4L1438.7 85.9L1438.6 83.4L1438.5 80.9L1438.4 78.4L1438.3 75.9L1438.3 73.4L1438.3 70.9L1438.3 68.4L1438.3 65.9L1438.2 65.4L1438.0 64.8L1437.7 64.4L1437.3 64.1L1436.7 63.9L1436.2 63.8Z"/>
<path d="M1453.8 82.7L1453.3 82.8L1452.8 83.0L1452.3 83.3L1452.0 83.8L1451.8 84.3L1451.7 84.8L1451.7 87.3L1451.7 89.8L1451.7 92.3L1451.7 94.8L1451.7 97.3L1451.6 99.8L1451.5 102.3L1451.2 104.8L1450.8 107.3L1450.3 109.8L1449.9 112.3L1449.4 114.8L1448.8 117.3L1448.3 119.8L1447.8 122.3L1447.3 124.8L1446.6 127.3L1445.4 129.8L1444.2 132.3L1443.0 134.8L1441.7 137.3L1440.5 139.8L1439.6 142.3L1438.8 144.8L1438.1 147.3L1437.2 149.8L1436.2 152.3L1435.3 154.8L1434.8 157.3L1434.5 159.8L1434.1 162.3L1433.7 164.8L1433.2 167.3L1432.9 169.8L1433.1 172.3L1433.6 174.8L1434.1 177.3L1434.3 179.8L1434.0 182.3L1433.6 184.8L1433.3 187.3L1433.5 189.8L1434.0 192.3L1434.3 194.8L1434.2 197.3L1433.9 199.8L1433.5 202.3L1433.4 204.8L1433.6 207.3L1434.1 209.8L1434.4 212.3L1434.6 214.8L1434.6 217.3L1434.7 219.8L1434.6 222.3L1434.4 224.8L1434.0 227.3L1433.7 229.8L1433.6 232.3L1434.1 234.8L1434.9 237.3L1435.6 239.8L1435.6 242.3L1435.1 244.8L1434.3 247.3L1433.9 249.8L1434.2 252.3L1435.0 254.8L1435.6 257.3L1434.9 258.3L1435.0 259.6L1435.2 261.0L1435.6 262.3L1436.1 263.6L1436.8 265.0L1437.7 266.3L1438.7 267.6L1439.8 269.0L1441.1 270.3L1442.5 271.6L1444.5 273.0L1448.5 274.3L1459.1 274.3L1463.1 273.0L1465.1 271.6L1466.5 270.3L1467.8 269.0L1469.0 267.6L1470.0 266.3L1470.8 265.0L1471.5 263.6L1472.0 262.3L1472.4 261.0L1472.6 259.6L1472.7 258.3L1472.0 257.3L1472.6 254.8L1473.4 252.3L1473.7 249.8L1473.3 247.3L1472.5 244.8L1472.0 242.3L1472.1 239.8L1472.7 237.3L1473.5 234.8L1474.0 232.3L1474.0 229.8L1473.6 227.3L1473.2 224.8L1473.0 222.3L1472.9 219.8L1473.0 217.3L1473.1 214.8L1473.2 212.3L1473.6 209.8L1474.0 207.3L1474.2 204.8L1474.1 202.3L1473.8 199.8L1473.4 197.3L1473.3 194.8L1473.6 192.3L1474.1 189.8L1474.3 187.3L1474.1 184.8L1473.6 182.3L1473.3 179.8L1473.5 177.3L1474.0 174.8L1474.6 172.3L1474.7 169.8L1474.4 167.3L1473.9 164.8L1473.5 162.3L1473.2 159.8L1472.9 157.3L1472.3 154.8L1471.4 152.3L1470.4 149.8L1469.6 147.3L1468.8 144.8L1468.0 142.3L1467.1 139.8L1465.9 137.3L1464.6 134.8L1463.4 132.3L1462.2 129.8L1461.1 127.3L1460.3 124.8L1459.9 122.3L1459.3 119.8L1458.8 117.3L1458.3 114.8L1457.7 112.3L1457.3 109.8L1456.8 107.3L1456.4 104.8L1456.1 102.3L1456.0 99.8L1456.0 97.3L1455.9 94.8L1455.9 92.3L1455.9 89.8L1455.9 87.3L1455.9 84.8L1455.8 84.3L1455.6 83.8L1455.3 83.3L1454.9 83.0L1454.4 82.8L1453.8 82.7Z"/>
<path d="M1470.6 84.7L1470.0 84.8L1469.5 85.0L1469.1 85.3L1468.7 85.8L1468.5 86.3L1468.5 86.8L1468.5 89.3L1468.5 91.8L1468.5 94.3L1468.4 96.8L1468.4 99.3L1468.4 101.8L1468.4 104.3L1468.2 106.8L1467.9 109.3L1467.5 111.8L1467.0 114.3L1466.6 116.8L1466.3 119.3L1465.9 121.8L1465.4 124.3L1464.9 126.8L1464.3 129.3L1463.5 131.8L1462.8 134.3L1462.0 136.8L1461.2 139.3L1460.2 141.8L1459.3 144.3L1458.3 146.8L1457.4 149.3L1456.7 151.8L1456.1 154.3L1455.5 156.8L1454.8 159.3L1453.9 161.8L1452.9 164.3L1452.0 166.8L1451.4 169.3L1451.2 171.8L1451.4 174.3L1451.7 176.8L1452.0 179.3L1452.0 181.8L1451.8 184.3L1451.4 186.8L1450.9 189.3L1450.5 191.8L1450.3 194.3L1450.4 196.8L1450.5 199.3L1450.6 201.8L1450.7 204.3L1450.7 206.8L1450.6 209.3L1450.7 211.8L1450.8 214.3L1451.1 216.8L1451.4 219.3L1451.6 221.8L1451.7 224.3L1451.6 226.8L1451.5 229.3L1451.4 231.8L1451.4 234.3L1451.5 236.8L1451.6 239.3L1451.7 241.8L1451.5 244.3L1451.2 246.8L1450.9 249.3L1450.7 251.8L1451.7 252.3L1451.7 253.6L1452.0 255.0L1452.3 256.3L1452.9 257.6L1453.6 259.0L1454.4 260.3L1455.4 261.6L1456.5 263.0L1457.8 264.3L1459.3 265.6L1461.2 267.0L1465.3 268.3L1475.9 268.3L1479.9 267.0L1481.8 265.6L1483.3 264.3L1484.6 263.0L1485.7 261.6L1486.7 260.3L1487.5 259.0L1488.2 257.6L1488.8 256.3L1489.2 255.0L1489.4 253.6L1489.5 252.3L1490.4 251.8L1490.2 249.3L1489.9 246.8L1489.6 244.3L1489.5 241.8L1489.5 239.3L1489.6 236.8L1489.7 234.3L1489.7 231.8L1489.6 229.3L1489.5 226.8L1489.4 224.3L1489.5 221.8L1489.7 219.3L1490.0 216.8L1490.3 214.3L1490.4 211.8L1490.5 209.3L1490.4 206.8L1490.4 204.3L1490.5 201.8L1490.6 199.3L1490.8 196.8L1490.8 194.3L1490.6 191.8L1490.2 189.3L1489.7 186.8L1489.3 184.3L1489.1 181.8L1489.1 179.3L1489.4 176.8L1489.7 174.3L1489.9 171.8L1489.7 169.3L1489.1 166.8L1488.2 164.3L1487.2 161.8L1486.4 159.3L1485.6 156.8L1485.0 154.3L1484.4 151.8L1483.7 149.3L1482.8 146.8L1481.8 144.3L1480.9 141.8L1480.0 139.3L1479.1 136.8L1478.3 134.3L1477.6 131.8L1476.9 129.3L1476.2 126.8L1475.7 124.3L1475.3 121.8L1474.9 119.3L1474.5 116.8L1474.1 114.3L1473.7 111.8L1473.2 109.3L1472.9 106.8L1472.8 104.3L1472.7 101.8L1472.7 99.3L1472.7 96.8L1472.7 94.3L1472.7 91.8L1472.7 89.3L1472.7 86.8L1472.6 86.3L1472.4 85.8L1472.0 85.3L1471.6 85.0L1471.1 84.8L1470.6 84.7Z"/>
<path d="M1486.5 66.0L1486.0 66.1L1485.5 66.3L1485.0 66.6L1484.7 67.0L1484.5 67.6L1484.4 68.1L1484.4 70.6L1484.4 73.1L1484.4 75.6L1484.4 78.1L1484.4 80.6L1484.4 83.1L1484.4 85.6L1484.3 88.1L1484.3 90.6L1484.3 93.1L1484.2 95.6L1483.9 98.1L1483.5 100.6L1483.1 103.1L1482.8 105.6L1482.5 108.1L1482.2 110.6L1481.9 113.1L1481.6 115.6L1481.2 118.1L1480.9 120.6L1480.5 123.1L1480.1 125.6L1479.6 128.1L1479.1 130.6L1478.4 133.1L1477.7 135.6L1477.0 138.1L1476.4 140.6L1475.7 143.1L1474.9 145.6L1474.0 148.1L1473.0 150.6L1471.9 153.1L1470.9 155.6L1470.1 158.1L1469.5 160.6L1469.1 163.1L1468.9 165.6L1468.6 168.1L1468.2 170.6L1467.9 173.1L1467.4 175.6L1467.0 178.1L1466.6 180.6L1466.2 183.1L1465.9 185.6L1465.7 188.1L1465.6 190.6L1465.8 193.1L1466.2 195.6L1466.7 198.1L1467.3 200.6L1467.5 203.1L1467.5 205.6L1467.1 208.1L1466.5 210.6L1466.1 213.1L1466.0 215.6L1466.1 218.1L1466.5 220.6L1467.0 223.1L1467.4 225.6L1467.6 228.1L1467.7 230.6L1467.7 233.1L1467.7 235.6L1467.6 238.1L1467.6 240.6L1467.5 243.1L1467.3 245.6L1467.6 246.6L1467.7 247.9L1467.9 249.2L1468.3 250.6L1468.8 251.9L1469.5 253.2L1470.4 254.6L1471.4 255.9L1472.5 257.2L1473.8 258.6L1475.3 259.9L1477.2 261.2L1481.2 262.6L1491.8 262.6L1495.9 261.2L1497.8 259.9L1499.2 258.6L1500.5 257.2L1501.7 255.9L1502.7 254.6L1503.5 253.2L1504.2 251.9L1504.7 250.6L1505.1 249.2L1505.4 247.9L1505.4 246.6L1505.7 245.6L1505.6 243.1L1505.5 240.6L1505.4 238.1L1505.4 235.6L1505.4 233.1L1505.4 230.6L1505.4 228.1L1505.6 225.6L1506.0 223.1L1506.5 220.6L1506.9 218.1L1507.1 215.6L1506.9 213.1L1506.5 210.6L1506.0 208.1L1505.6 205.6L1505.5 203.1L1505.8 200.6L1506.3 198.1L1506.9 195.6L1507.3 193.1L1507.4 190.6L1507.3 188.1L1507.1 185.6L1506.8 183.1L1506.5 180.6L1506.1 178.1L1505.6 175.6L1505.2 173.1L1504.8 170.6L1504.5 168.1L1504.2 165.6L1503.9 163.1L1503.5 160.6L1502.9 158.1L1502.1 155.6L1501.1 153.1L1500.0 150.6L1499.0 148.1L1498.1 145.6L1497.4 143.1L1496.7 140.6L1496.0 138.1L1495.3 135.6L1494.6 133.1L1494.0 130.6L1493.4 128.1L1493.0 125.6L1492.5 123.1L1492.2 120.6L1491.8 118.1L1491.5 115.6L1491.2 113.1L1490.9 110.6L1490.6 108.1L1490.3 105.6L1489.9 103.1L1489.5 100.6L1489.1 98.1L1488.9 95.6L1488.8 93.1L1488.8 90.6L1488.7 88.1L1488.7 85.6L1488.7 83.1L1488.6 80.6L1488.6 78.1L1488.6 75.6L1488.6 73.1L1488.6 70.6L1488.6 68.1L1488.6 67.6L1488.3 67.0L1488.0 66.6L1487.6 66.3L1487.1 66.1L1486.5 66.0Z"/>
<path d="M1501.8 50.3L1501.2 50.4L1500.7 50.6L1500.2 50.9L1499.9 51.4L1499.7 51.9L1499.6 52.5L1499.6 55.0L1499.6 57.5L1499.5 60.0L1499.4 62.5L1499.3 65.0L1499.1 67.5L1498.8 70.0L1498.4 72.5L1498.0 75.0L1497.4 77.5L1496.7 80.0L1495.9 82.5L1495.0 85.0L1494.3 87.5L1493.5 90.0L1492.6 92.5L1491.5 95.0L1490.4 97.5L1489.5 100.0L1488.8 102.5L1488.5 105.0L1488.3 107.5L1487.9 110.0L1487.3 112.5L1486.5 115.0L1485.4 117.5L1484.3 120.0L1483.4 122.5L1482.9 125.0L1482.7 127.5L1482.7 130.0L1482.6 132.5L1482.5 135.0L1482.2 137.5L1482.0 140.0L1481.7 142.5L1481.5 145.0L1481.4 147.5L1481.5 150.0L1481.5 152.5L1481.6 155.0L1481.7 157.5L1481.6 160.0L1481.6 162.5L1481.6 165.0L1481.6 167.5L1481.7 170.0L1481.8 172.5L1482.0 175.0L1482.2 177.5L1482.2 180.0L1482.2 182.5L1482.1 185.0L1482.0 187.5L1481.9 190.0L1481.9 192.5L1482.0 195.0L1482.1 197.5L1482.2 200.0L1482.2 202.5L1482.3 205.0L1482.3 207.5L1482.4 210.0L1482.5 212.5L1482.7 215.0L1482.9 217.5L1483.0 220.0L1483.0 222.5L1482.9 225.0L1482.6 227.5L1482.4 230.0L1482.2 232.5L1482.2 235.0L1482.4 237.5L1482.7 240.0L1482.9 241.1L1483.0 242.4L1483.2 243.8L1483.6 245.1L1484.1 246.4L1484.8 247.8L1485.6 249.1L1486.6 250.4L1487.8 251.8L1489.1 253.1L1490.5 254.4L1492.5 255.8L1496.5 257.1L1507.1 257.1L1511.1 255.8L1513.0 254.4L1514.5 253.1L1515.8 251.8L1516.9 250.4L1517.9 249.1L1518.8 247.8L1519.5 246.4L1520.0 245.1L1520.4 243.8L1520.6 242.4L1520.7 241.1L1520.9 240.0L1521.2 237.5L1521.4 235.0L1521.4 232.5L1521.2 230.0L1520.9 227.5L1520.7 225.0L1520.6 222.5L1520.6 220.0L1520.7 217.5L1520.9 215.0L1521.1 212.5L1521.2 210.0L1521.3 207.5L1521.3 205.0L1521.3 202.5L1521.4 200.0L1521.5 197.5L1521.6 195.0L1521.6 192.5L1521.6 190.0L1521.6 187.5L1521.5 185.0L1521.4 182.5L1521.4 180.0L1521.4 177.5L1521.6 175.0L1521.7 172.5L1521.9 170.0L1522.0 167.5L1522.0 165.0L1522.0 162.5L1521.9 160.0L1521.9 157.5L1522.0 155.0L1522.0 152.5L1522.1 150.0L1522.1 147.5L1522.0 145.0L1521.8 142.5L1521.6 140.0L1521.4 137.5L1521.1 135.0L1520.9 132.5L1520.9 130.0L1520.8 127.5L1520.7 125.0L1520.2 122.5L1519.2 120.0L1518.1 117.5L1517.1 115.0L1516.3 112.5L1515.7 110.0L1515.3 107.5L1515.1 105.0L1514.8 102.5L1514.1 100.0L1513.1 97.5L1512.1 95.0L1511.0 92.5L1510.1 90.0L1509.3 87.5L1508.5 85.0L1507.7 82.5L1506.9 80.0L1506.2 77.5L1505.6 75.0L1505.2 72.5L1504.8 70.0L1504.5 67.5L1504.3 65.0L1504.2 62.5L1504.0 60.0L1504.0 57.5L1504.0 55.0L1504.0 52.5L1503.9 51.9L1503.7 51.4L1503.3 50.9L1502.9 50.6L1502.4 50.4L1501.8 50.3Z"/>
<path d="M1516.4 56.8L1515.9 56.9L1515.3 57.1L1514.9 57.4L1514.6 57.9L1514.4 58.4L1514.3 58.9L1514.3 61.4L1514.3 63.9L1514.3 66.4L1514.3 68.9L1514.2 71.4L1514.1 73.9L1513.8 76.4L1513.3 78.9L1512.7 81.4L1511.9 83.9L1511.1 86.4L1510.3 88.9L1509.5 91.4L1508.5 93.9L1507.5 96.4L1506.6 98.9L1505.5 101.4L1504.6 103.9L1503.5 106.4L1502.5 108.9L1501.5 111.4L1500.5 113.9L1499.7 116.4L1499.1 118.9L1498.8 121.4L1498.5 123.9L1498.2 126.4L1497.7 128.9L1496.9 131.4L1496.3 133.9L1496.0 136.4L1496.0 138.9L1496.3 141.4L1496.6 143.9L1496.6 146.4L1496.3 148.9L1496.0 151.4L1495.9 153.9L1496.0 156.4L1496.3 158.9L1496.6 161.4L1496.7 163.9L1496.5 166.4L1496.3 168.9L1496.1 171.4L1496.1 173.9L1496.3 176.4L1496.6 178.9L1496.8 181.4L1496.9 183.9L1497.0 186.4L1497.0 188.9L1497.0 191.4L1497.0 193.9L1496.9 196.4L1496.6 198.9L1496.3 201.4L1496.3 203.9L1496.5 206.4L1497.0 208.9L1497.5 211.4L1497.8 213.9L1497.8 216.4L1497.6 218.9L1497.3 221.4L1497.2 223.9L1497.3 226.4L1497.5 228.9L1497.5 231.4L1497.4 233.9L1497.5 235.9L1497.6 237.2L1497.8 238.5L1498.2 239.9L1498.7 241.2L1499.4 242.5L1500.2 243.9L1501.2 245.2L1502.4 246.5L1503.7 247.9L1505.1 249.2L1507.1 250.5L1511.1 251.9L1521.7 251.9L1525.7 250.5L1527.7 249.2L1529.1 247.9L1530.4 246.5L1531.6 245.2L1532.5 243.9L1533.4 242.5L1534.1 241.2L1534.6 239.9L1535.0 238.5L1535.2 237.2L1535.3 235.9L1535.4 233.9L1535.2 231.4L1535.3 228.9L1535.5 226.4L1535.6 223.9L1535.5 221.4L1535.2 218.9L1535.0 216.4L1534.9 213.9L1535.2 211.4L1535.8 208.9L1536.2 206.4L1536.5 203.9L1536.5 201.4L1536.2 198.9L1535.9 196.4L1535.8 193.9L1535.7 191.4L1535.8 188.9L1535.8 186.4L1535.9 183.9L1536.0 181.4L1536.2 178.9L1536.5 176.4L1536.7 173.9L1536.7 171.4L1536.5 168.9L1536.3 166.4L1536.1 163.9L1536.2 161.4L1536.5 158.9L1536.8 156.4L1536.9 153.9L1536.8 151.4L1536.5 148.9L1536.2 146.4L1536.2 143.9L1536.5 141.4L1536.8 138.9L1536.8 136.4L1536.5 133.9L1535.8 131.4L1535.1 128.9L1534.6 126.4L1534.3 123.9L1534.0 121.4L1533.7 118.9L1533.0 116.4L1532.2 113.9L1531.3 111.4L1530.3 108.9L1529.3 106.4L1528.2 103.9L1527.2 101.4L1526.2 98.9L1525.2 96.4L1524.3 93.9L1523.3 91.4L1522.5 88.9L1521.7 86.4L1520.9 83.9L1520.1 81.4L1519.5 78.9L1519.0 76.4L1518.7 73.9L1518.6 71.4L1518.5 68.9L1518.5 66.4L1518.5 63.9L1518.5 61.4L1518.5 58.9L1518.4 58.4L1518.2 57.9L1517.9 57.4L1517.4 57.1L1516.9 56.9L1516.4 56.8Z"/>
<path d="M1530.4 47.2L1529.8 47.3L1529.3 47.5L1528.8 47.9L1528.4 48.4L1528.2 48.9L1528.1 49.5L1528.1 52.0L1528.1 54.5L1528.1 57.0L1527.9 59.5L1527.8 62.0L1527.6 64.5L1527.4 67.0L1527.1 69.5L1526.7 72.0L1526.3 74.5L1525.8 77.0L1525.2 79.5L1524.4 82.0L1523.5 84.5L1522.6 87.0L1521.6 89.5L1520.7 92.0L1520.1 94.5L1519.4 97.0L1518.7 99.5L1517.8 102.0L1516.7 104.5L1515.5 107.0L1514.4 109.5L1513.6 112.0L1513.1 114.5L1512.9 117.0L1512.7 119.5L1512.3 122.0L1511.8 124.5L1511.3 127.0L1511.0 129.5L1510.9 132.0L1510.9 134.5L1510.7 137.0L1510.4 139.5L1510.0 142.0L1509.8 144.5L1509.8 147.0L1510.0 149.5L1510.3 152.0L1510.6 154.5L1510.7 157.0L1510.6 159.5L1510.4 162.0L1510.3 164.5L1510.3 167.0L1510.2 169.5L1510.2 172.0L1510.0 174.5L1510.0 177.0L1510.1 179.5L1510.4 182.0L1511.0 184.5L1511.4 187.0L1511.6 189.5L1511.4 192.0L1510.8 194.5L1510.3 197.0L1510.0 199.5L1510.1 202.0L1510.6 204.5L1511.2 207.0L1511.7 209.5L1511.9 212.0L1511.8 214.5L1511.6 217.0L1511.3 219.5L1511.2 222.0L1511.1 224.5L1511.1 227.0L1511.1 229.5L1511.5 230.8L1511.6 232.2L1511.8 233.5L1512.2 234.8L1512.7 236.2L1513.4 237.5L1514.3 238.8L1515.3 240.2L1516.4 241.5L1517.7 242.8L1519.1 244.2L1521.1 245.5L1525.1 246.8L1535.7 246.8L1539.7 245.5L1541.7 244.2L1543.1 242.8L1544.4 241.5L1545.6 240.2L1546.6 238.8L1547.4 237.5L1548.1 236.2L1548.6 234.8L1549.0 233.5L1549.2 232.2L1549.3 230.8L1549.7 229.5L1549.7 227.0L1549.7 224.5L1549.6 222.0L1549.5 219.5L1549.2 217.0L1549.0 214.5L1548.9 212.0L1549.1 209.5L1549.6 207.0L1550.2 204.5L1550.7 202.0L1550.8 199.5L1550.5 197.0L1550.0 194.5L1549.5 192.0L1549.2 189.5L1549.4 187.0L1549.9 184.5L1550.4 182.0L1550.7 179.5L1550.8 177.0L1550.8 174.5L1550.7 172.0L1550.6 169.5L1550.6 167.0L1550.5 164.5L1550.4 162.0L1550.2 159.5L1550.1 157.0L1550.2 154.5L1550.5 152.0L1550.8 149.5L1551.0 147.0L1551.0 144.5L1550.8 142.0L1550.4 139.5L1550.1 137.0L1550.0 134.5L1549.9 132.0L1549.8 129.5L1549.5 127.0L1549.1 124.5L1548.5 122.0L1548.1 119.5L1547.9 117.0L1547.7 114.5L1547.2 112.0L1546.4 109.5L1545.3 107.0L1544.1 104.5L1543.0 102.0L1542.1 99.5L1541.4 97.0L1540.7 94.5L1540.1 92.0L1539.2 89.5L1538.2 87.0L1537.3 84.5L1536.4 82.0L1535.6 79.5L1535.0 77.0L1534.5 74.5L1534.1 72.0L1533.7 69.5L1533.4 67.0L1533.2 64.5L1533.0 62.0L1532.9 59.5L1532.8 57.0L1532.7 54.5L1532.7 52.0L1532.7 49.5L1532.6 48.9L1532.4 48.4L1532.0 47.9L1531.6 47.5L1531.0 47.3L1530.4 47.2Z"/>
<path d="M1543.9 39.8L1543.3 39.9L1542.8 40.1L1542.3 40.4L1542.0 40.9L1541.7 41.4L1541.7 42.0L1541.7 44.5L1541.7 47.0L1541.7 49.5L1541.6 52.0L1541.6 54.5L1541.6 57.0L1541.3 59.5L1541.0 62.0L1540.6 64.5L1540.1 67.0L1539.6 69.5L1539.1 72.0L1538.4 74.5L1537.7 77.0L1537.0 79.5L1536.2 82.0L1535.3 84.5L1534.2 87.0L1532.9 89.5L1531.4 92.0L1529.8 94.5L1528.6 97.0L1527.5 99.5L1526.4 102.0L1525.3 104.5L1524.3 107.0L1523.5 109.5L1523.1 112.0L1522.8 114.5L1522.8 117.0L1523.1 119.5L1523.4 122.0L1523.7 124.5L1523.8 127.0L1523.9 129.5L1523.9 132.0L1523.8 134.5L1523.7 137.0L1523.7 139.5L1523.6 142.0L1523.6 144.5L1523.6 147.0L1523.6 149.5L1523.6 152.0L1523.6 154.5L1523.6 157.0L1523.7 159.5L1523.9 162.0L1524.1 164.5L1524.4 167.0L1524.6 169.5L1524.7 172.0L1524.7 174.5L1524.6 177.0L1524.4 179.5L1524.2 182.0L1524.0 184.5L1523.9 187.0L1523.9 189.5L1524.1 192.0L1524.3 194.5L1524.6 197.0L1524.8 199.5L1525.0 202.0L1525.1 204.5L1525.1 207.0L1525.1 209.5L1525.0 212.0L1524.9 214.5L1524.8 217.0L1524.8 219.5L1524.7 222.0L1524.7 224.5L1525.0 226.0L1525.0 227.3L1525.3 228.7L1525.7 230.0L1526.2 231.3L1526.9 232.7L1527.7 234.0L1528.7 235.3L1529.9 236.7L1531.2 238.0L1532.6 239.3L1534.5 240.7L1538.6 242.0L1549.2 242.0L1553.2 240.7L1555.1 239.3L1556.6 238.0L1557.9 236.7L1559.0 235.3L1560.0 234.0L1560.9 232.7L1561.5 231.3L1562.1 230.0L1562.5 228.7L1562.7 227.3L1562.8 226.0L1563.1 224.5L1563.0 222.0L1563.0 219.5L1562.9 217.0L1562.8 214.5L1562.8 212.0L1562.7 209.5L1562.6 207.0L1562.7 204.5L1562.8 202.0L1562.9 199.5L1563.2 197.0L1563.5 194.5L1563.7 192.0L1563.8 189.5L1563.9 187.0L1563.8 184.5L1563.6 182.0L1563.4 179.5L1563.2 177.0L1563.0 174.5L1563.1 172.0L1563.2 169.5L1563.4 167.0L1563.6 164.5L1563.8 162.0L1564.0 159.5L1564.1 157.0L1564.1 154.5L1564.1 152.0L1564.1 149.5L1564.1 147.0L1564.1 144.5L1564.1 142.0L1564.1 139.5L1564.0 137.0L1563.9 134.5L1563.9 132.0L1563.9 129.5L1563.9 127.0L1564.1 124.5L1564.4 122.0L1564.7 119.5L1564.9 117.0L1564.9 114.5L1564.7 112.0L1564.2 109.5L1563.4 107.0L1562.4 104.5L1561.3 102.0L1560.2 99.5L1559.1 97.0L1558.0 94.5L1556.3 92.0L1554.9 89.5L1553.6 87.0L1552.5 84.5L1551.5 82.0L1550.8 79.5L1550.0 77.0L1549.3 74.5L1548.7 72.0L1548.1 69.5L1547.6 67.0L1547.2 64.5L1546.8 62.0L1546.4 59.5L1546.2 57.0L1546.1 54.5L1546.1 52.0L1546.1 49.5L1546.1 47.0L1546.1 44.5L1546.1 42.0L1546.0 41.4L1545.8 40.9L1545.4 40.4L1545.0 40.1L1544.4 39.9L1543.9 39.8Z"/>
<path d="M1556.8 55.1L1556.3 55.2L1555.8 55.4L1555.3 55.7L1555.0 56.1L1554.8 56.7L1554.7 57.2L1554.7 59.7L1554.7 62.2L1554.7 64.7L1554.7 67.2L1554.7 69.7L1554.7 72.2L1554.7 74.7L1554.7 77.2L1554.7 79.7L1554.6 82.2L1554.6 84.7L1554.6 87.2L1554.5 89.7L1554.3 92.2L1553.9 94.7L1553.5 97.2L1553.2 99.7L1552.8 102.2L1552.4 104.7L1551.9 107.2L1551.4 109.7L1550.9 112.2L1550.4 114.7L1549.9 117.2L1549.5 119.7L1549.1 122.2L1548.7 124.7L1548.3 127.2L1547.9 129.7L1547.5 132.2L1547.2 134.7L1546.8 137.2L1546.3 139.7L1545.8 142.2L1545.3 144.7L1544.9 147.2L1544.5 149.7L1544.0 152.2L1543.4 154.7L1542.6 157.2L1542.0 159.7L1541.5 162.2L1541.2 164.7L1541.0 167.2L1540.7 169.7L1540.1 172.2L1539.6 174.7L1539.1 177.2L1538.7 179.7L1538.5 182.2L1538.2 184.7L1537.8 187.2L1537.1 189.7L1536.6 192.2L1536.3 194.7L1536.4 197.2L1536.7 199.7L1537.0 202.2L1537.1 204.7L1537.0 207.2L1536.9 209.7L1537.1 212.2L1537.5 214.7L1537.9 217.2L1538.1 219.7L1537.9 221.4L1538.0 222.7L1538.2 224.0L1538.6 225.4L1539.1 226.7L1539.8 228.0L1540.7 229.4L1541.7 230.7L1542.8 232.0L1544.1 233.4L1545.6 234.7L1547.5 236.0L1551.5 237.4L1562.1 237.4L1566.2 236.0L1568.1 234.7L1569.5 233.4L1570.8 232.0L1572.0 230.7L1573.0 229.4L1573.8 228.0L1574.5 226.7L1575.0 225.4L1575.4 224.0L1575.7 222.7L1575.7 221.4L1575.5 219.7L1575.8 217.2L1576.2 214.7L1576.6 212.2L1576.7 209.7L1576.7 207.2L1576.6 204.7L1576.7 202.2L1577.0 199.7L1577.3 197.2L1577.4 194.7L1577.1 192.2L1576.5 189.7L1575.9 187.2L1575.4 184.7L1575.1 182.2L1574.9 179.7L1574.6 177.2L1574.1 174.7L1573.5 172.2L1573.0 169.7L1572.7 167.2L1572.5 164.7L1572.2 162.2L1571.7 159.7L1571.0 157.2L1570.3 154.7L1569.7 152.2L1569.2 149.7L1568.8 147.2L1568.3 144.7L1567.8 142.2L1567.3 139.7L1566.9 137.2L1566.5 134.7L1566.1 132.2L1565.8 129.7L1565.4 127.2L1565.0 124.7L1564.6 122.2L1564.1 119.7L1563.7 117.2L1563.3 114.7L1562.8 112.2L1562.2 109.7L1561.7 107.2L1561.3 104.7L1560.9 102.2L1560.5 99.7L1560.1 97.2L1559.8 94.7L1559.3 92.2L1559.1 89.7L1559.1 87.2L1559.0 84.7L1559.0 82.2L1559.0 79.7L1559.0 77.2L1559.0 74.7L1558.9 72.2L1558.9 69.7L1558.9 67.2L1558.9 64.7L1558.9 62.2L1558.9 59.7L1558.9 57.2L1558.9 56.7L1558.6 56.1L1558.3 55.7L1557.9 55.4L1557.4 55.2L1556.8 55.1Z"/>
<path d="M1569.3 41.1L1568.8 41.2L1568.3 41.4L1567.8 41.7L1567.5 42.1L1567.3 42.7L1567.2 43.2L1567.2 45.7L1567.2 48.2L1567.2 50.7L1567.2 53.2L1567.2 55.7L1567.2 58.2L1567.2 60.7L1567.2 63.2L1567.2 65.7L1567.1 68.2L1567.1 70.7L1567.1 73.2L1566.9 75.7L1566.7 78.2L1566.4 80.7L1565.9 83.2L1565.5 85.7L1565.0 88.2L1564.5 90.7L1563.9 93.2L1563.3 95.7L1562.6 98.2L1561.8 100.7L1560.9 103.2L1560.0 105.7L1559.1 108.2L1558.2 110.7L1557.2 113.2L1556.2 115.7L1554.9 118.2L1553.7 120.7L1552.9 123.2L1552.6 125.7L1552.5 128.2L1552.3 130.7L1551.6 133.2L1550.6 135.7L1549.9 138.2L1549.7 140.7L1550.0 143.2L1550.5 145.7L1550.6 148.2L1550.2 150.7L1549.6 153.2L1549.0 155.7L1548.9 158.2L1549.1 160.7L1549.5 163.2L1549.7 165.7L1549.4 168.2L1549.0 170.7L1548.7 173.2L1548.8 175.7L1549.2 178.2L1549.6 180.7L1549.7 183.2L1549.5 185.7L1549.1 188.2L1549.0 190.7L1549.3 193.2L1550.0 195.7L1550.4 198.2L1550.4 200.7L1550.0 203.2L1549.6 205.7L1549.5 208.2L1549.9 210.7L1550.6 213.2L1551.1 215.7L1550.4 216.9L1550.5 218.2L1550.7 219.6L1551.1 220.9L1551.6 222.2L1552.3 223.6L1553.2 224.9L1554.2 226.2L1555.3 227.6L1556.6 228.9L1558.0 230.2L1560.0 231.6L1564.0 232.9L1574.6 232.9L1578.6 231.6L1580.6 230.2L1582.0 228.9L1583.3 227.6L1584.5 226.2L1585.5 224.9L1586.3 223.6L1587.0 222.2L1587.5 220.9L1587.9 219.6L1588.1 218.2L1588.2 216.9L1587.5 215.7L1588.0 213.2L1588.7 210.7L1589.1 208.2L1589.1 205.7L1588.6 203.2L1588.2 200.7L1588.2 198.2L1588.7 195.7L1589.3 193.2L1589.6 190.7L1589.5 188.2L1589.2 185.7L1588.9 183.2L1589.0 180.7L1589.4 178.2L1589.8 175.7L1589.9 173.2L1589.7 170.7L1589.2 168.2L1588.9 165.7L1589.1 163.2L1589.5 160.7L1589.8 158.2L1589.6 155.7L1589.1 153.2L1588.4 150.7L1588.0 148.2L1588.2 145.7L1588.6 143.2L1588.9 140.7L1588.7 138.2L1588.0 135.7L1587.1 133.2L1586.3 130.7L1586.1 128.2L1586.0 125.7L1585.7 123.2L1584.9 120.7L1583.7 118.2L1582.4 115.7L1581.4 113.2L1580.5 110.7L1579.5 108.2L1578.6 105.7L1577.7 103.2L1576.8 100.7L1576.0 98.2L1575.3 95.7L1574.7 93.2L1574.1 90.7L1573.6 88.2L1573.2 85.7L1572.7 83.2L1572.3 80.7L1571.9 78.2L1571.7 75.7L1571.5 73.2L1571.5 70.7L1571.5 68.2L1571.5 65.7L1571.4 63.2L1571.4 60.7L1571.4 58.2L1571.4 55.7L1571.4 53.2L1571.4 50.7L1571.4 48.2L1571.4 45.7L1571.4 43.2L1571.3 42.7L1571.1 42.1L1570.8 41.7L1570.4 41.4L1569.9 41.2L1569.3 41.1Z"/>
<path d="M1581.4 48.8L1580.8 48.9L1580.3 49.1L1579.9 49.4L1579.5 49.9L1579.3 50.4L1579.3 50.9L1579.3 53.4L1579.3 55.9L1579.3 58.4L1579.2 60.9L1579.2 63.4L1579.2 65.9L1579.2 68.4L1579.2 70.9L1579.2 73.4L1579.1 75.9L1579.0 78.4L1578.8 80.9L1578.4 83.4L1578.0 85.9L1577.3 88.4L1576.5 90.9L1575.6 93.4L1574.8 95.9L1574.0 98.4L1573.2 100.9L1572.4 103.4L1571.6 105.9L1570.9 108.4L1570.1 110.9L1569.4 113.4L1568.7 115.9L1568.1 118.4L1567.5 120.9L1566.8 123.4L1565.9 125.9L1565.1 128.4L1564.7 130.9L1564.6 133.4L1564.6 135.9L1564.4 138.4L1563.8 140.9L1563.2 143.4L1563.0 145.9L1563.3 148.4L1563.7 150.9L1563.5 153.4L1562.6 155.9L1561.7 158.4L1561.2 160.9L1561.4 163.4L1561.8 165.9L1561.9 168.4L1561.5 170.9L1560.8 173.4L1560.6 175.9L1561.1 178.4L1561.8 180.9L1562.2 183.4L1561.8 185.9L1561.1 188.4L1560.6 190.9L1560.6 193.4L1561.0 195.9L1561.2 198.4L1561.0 200.9L1560.8 203.4L1560.9 205.9L1561.6 208.4L1562.4 210.9L1562.5 212.6L1562.5 213.9L1562.8 215.2L1563.1 216.6L1563.7 217.9L1564.4 219.2L1565.2 220.6L1566.2 221.9L1567.3 223.2L1568.6 224.6L1570.1 225.9L1572.0 227.2L1576.1 228.6L1586.7 228.6L1590.7 227.2L1592.6 225.9L1594.1 224.6L1595.4 223.2L1596.5 221.9L1597.5 220.6L1598.3 219.2L1599.0 217.9L1599.6 216.6L1600.0 215.2L1600.2 213.9L1600.3 212.6L1600.4 210.9L1601.2 208.4L1601.8 205.9L1601.9 203.4L1601.7 200.9L1601.5 198.4L1601.7 195.9L1602.1 193.4L1602.1 190.9L1601.6 188.4L1600.9 185.9L1600.5 183.4L1600.9 180.9L1601.6 178.4L1602.1 175.9L1601.9 173.4L1601.2 170.9L1600.8 168.4L1600.9 165.9L1601.3 163.4L1601.5 160.9L1601.0 158.4L1600.1 155.9L1599.3 153.4L1599.0 150.9L1599.4 148.4L1599.7 145.9L1599.5 143.4L1598.9 140.9L1598.3 138.4L1598.1 135.9L1598.1 133.4L1598.0 130.9L1597.6 128.4L1596.8 125.9L1595.9 123.4L1595.2 120.9L1594.6 118.4L1594.0 115.9L1593.3 113.4L1592.6 110.9L1591.9 108.4L1591.1 105.9L1590.4 103.4L1589.6 100.9L1588.7 98.4L1587.9 95.9L1587.1 93.4L1586.3 90.9L1585.4 88.4L1584.8 85.9L1584.3 83.4L1583.9 80.9L1583.7 78.4L1583.6 75.9L1583.5 73.4L1583.5 70.9L1583.5 68.4L1583.5 65.9L1583.5 63.4L1583.5 60.9L1583.5 58.4L1583.5 55.9L1583.5 53.4L1583.5 50.9L1583.4 50.4L1583.2 49.9L1582.8 49.4L1582.4 49.1L1581.9 48.9L1581.4 48.8Z"/>
<path d="M1593.0 25.8L1592.4 25.9L1591.9 26.1L1591.4 26.4L1591.1 26.9L1590.9 27.4L1590.8 28.0L1590.8 30.5L1590.8 33.0L1590.8 35.5L1590.8 38.0L1590.8 40.5L1590.7 43.0L1590.7 45.5L1590.4 48.0L1590.0 50.5L1589.5 53.0L1589.0 55.5L1588.4 58.0L1587.7 60.5L1587.0 63.0L1586.3 65.5L1585.7 68.0L1585.1 70.5L1584.4 73.0L1583.8 75.5L1583.1 78.0L1582.3 80.5L1581.4 83.0L1580.3 85.5L1579.0 88.0L1577.6 90.5L1576.0 93.0L1574.8 95.5L1574.2 98.0L1573.8 100.5L1573.4 103.0L1573.2 105.5L1573.4 108.0L1573.7 110.5L1573.9 113.0L1573.9 115.5L1573.6 118.0L1573.4 120.5L1573.3 123.0L1573.2 125.5L1573.2 128.0L1573.0 130.5L1572.7 133.0L1572.7 135.5L1572.9 138.0L1573.3 140.5L1573.7 143.0L1573.9 145.5L1573.9 148.0L1574.0 150.5L1574.2 153.0L1574.5 155.5L1574.5 158.0L1574.3 160.5L1574.0 163.0L1573.8 165.5L1573.8 168.0L1574.0 170.5L1574.2 173.0L1574.2 175.5L1574.3 178.0L1574.4 180.5L1574.8 183.0L1575.3 185.5L1575.6 188.0L1575.6 190.5L1575.5 193.0L1575.4 195.5L1575.4 198.0L1575.4 200.5L1575.3 203.0L1575.0 205.5L1574.8 208.0L1575.2 208.4L1575.3 209.7L1575.5 211.1L1575.9 212.4L1576.4 213.7L1577.1 215.1L1577.9 216.4L1578.9 217.7L1580.1 219.1L1581.4 220.4L1582.8 221.7L1584.8 223.1L1588.8 224.4L1597.2 224.4L1601.2 223.1L1603.2 221.7L1604.6 220.4L1605.9 219.1L1607.1 217.7L1608.0 216.4L1608.9 215.1L1609.6 213.7L1610.1 212.4L1610.5 211.1L1610.7 209.7L1610.8 208.4L1611.2 208.0L1610.9 205.5L1610.7 203.0L1610.6 200.5L1610.6 198.0L1610.6 195.5L1610.5 193.0L1610.4 190.5L1610.4 188.0L1610.7 185.5L1611.2 183.0L1611.5 180.5L1611.7 178.0L1611.8 175.5L1611.8 173.0L1612.0 170.5L1612.1 168.0L1612.1 165.5L1611.9 163.0L1611.6 160.5L1611.5 158.0L1611.5 155.5L1611.8 153.0L1612.0 150.5L1612.1 148.0L1612.1 145.5L1612.3 143.0L1612.7 140.5L1613.1 138.0L1613.3 135.5L1613.2 133.0L1613.0 130.5L1612.8 128.0L1612.7 125.5L1612.7 123.0L1612.6 120.5L1612.4 118.0L1612.1 115.5L1612.1 113.0L1612.3 110.5L1612.6 108.0L1612.8 105.5L1612.6 103.0L1612.2 100.5L1611.8 98.0L1611.2 95.5L1610.0 93.0L1608.4 90.5L1606.9 88.0L1605.7 85.5L1604.6 83.0L1603.7 80.5L1602.9 78.0L1602.2 75.5L1601.6 73.0L1600.9 70.5L1600.3 68.0L1599.7 65.5L1599.0 63.0L1598.3 60.5L1597.6 58.0L1597.0 55.5L1596.5 53.0L1596.0 50.5L1595.6 48.0L1595.3 45.5L1595.3 43.0L1595.2 40.5L1595.2 38.0L1595.2 35.5L1595.2 33.0L1595.2 30.5L1595.2 28.0L1595.1 27.4L1594.9 26.9L1594.5 26.4L1594.1 26.1L1593.6 25.9L1593.0 25.8Z"/>
</g>
<g clip-path="url(#clip0)" fill="none" stroke-width="3.5" stroke-linecap="square" stroke-linejoin="round" stroke-opacity="0.8">
<path d="M425.4 345.83L438.5 344.09L451.6 342.35L464.8 340.61L477.9 338.87L491.0 337.13L504.1 335.39L517.2 333.66L530.4 331.92L543.5 330.19L556.6 328.46L569.7 326.73L582.8 325.00L596.0 323.28L609.1 321.55L622.2 319.83L635.3 318.11L648.4 316.40L661.6 314.69L674.7 312.98L687.8 311.27L700.9 309.57L714.0 307.87L727.2 306.18L740.3 304.49L753.4 302.81L766.5 301.13L779.6 299.46L792.8 297.80L805.9 296.14L819.0 294.49L832.1 292.85L845.2 291.22L858.3 289.59L871.5 287.98L884.6 286.37L897.7 284.76L910.8 283.14L923.9 281.51L937.1 279.86L950.2 278.18L963.3 276.48L976.4 274.79L989.5 273.10L1002.7 271.42L1015.8 269.76L1028.9 268.11L1042.0 266.47L1055.1 264.84L1068.3 263.23L1081.4 261.62L1094.5 260.04L1107.6 258.46L1120.7 256.90L1133.9 255.34L1147.0 253.80L1160.1 252.27L1173.2 250.75L1186.3 249.24L1199.5 247.74L1212.6 246.25L1225.7 244.77L1238.8 243.30L1251.9 241.83L1265.1 240.37L1278.2 238.92L1291.3 237.47L1304.4 236.03L1317.5 234.59L1330.7 233.16L1343.8 231.74L1356.9 230.31L1370.0 228.90L1383.1 227.48L1396.3 226.07L1409.4 224.66L1422.5 223.26L1435.6 221.86L1448.7 220.46L1461.9 219.06L1475.0 217.66L1488.1 216.27L1501.2 214.88L1514.3 213.49L1527.5 212.10L1540.6 210.71L1553.7 209.32L1566.8 207.94L1579.9 206.55L1593.0 205.17" stroke="#0068ea"/>
<path d="M425.4 347.20L438.5 345.28L451.6 343.37L464.8 341.48L477.9 339.59L491.0 337.72L504.1 335.86L517.2 334.00L530.4 332.16L543.5 330.33L556.6 328.51L569.7 326.70L582.8 324.90L596.0 323.11L609.1 321.32L622.2 319.55L635.3 317.79L648.4 316.03L661.6 314.28L674.7 312.54L687.8 310.81L700.9 309.09L714.0 307.38L727.2 305.67L740.3 303.97L753.4 302.27L766.5 300.59L779.6 298.91L792.8 297.24L805.9 295.57L819.0 293.91L832.1 292.25L845.2 290.61L858.3 288.97L871.5 287.33L884.6 285.70L897.7 284.08L910.8 282.47L923.9 280.86L937.1 279.26L950.2 277.66L963.3 276.07L976.4 274.49L989.5 272.92L1002.7 271.36L1015.8 269.81L1028.9 268.26L1042.0 266.73L1055.1 265.21L1068.3 263.69L1081.4 262.20L1094.5 260.71L1107.6 259.23L1120.7 257.78L1133.9 256.33L1147.0 254.90L1160.1 253.49L1173.2 252.09L1186.3 250.70L1199.5 249.34L1212.6 247.99L1225.7 246.66L1238.8 245.34L1251.9 244.04L1265.1 242.75L1278.2 241.49L1291.3 240.23L1304.4 238.99L1317.5 237.76L1330.7 236.55L1343.8 235.34L1356.9 234.15L1370.0 232.97L1383.1 231.79L1396.3 230.63L1409.4 229.47L1422.5 228.32L1435.6 227.18L1448.7 226.04L1461.9 224.91L1475.0 223.78L1488.1 222.66L1501.2 221.54L1514.3 220.43L1527.5 219.31L1540.6 218.20L1553.7 217.10L1566.8 215.99L1579.9 214.89L1593.0 213.79" stroke="#e12d1f"/>
<path d="M425.4 346.99L438.5 345.12L451.6 343.26L464.8 341.39L477.9 339.53L491.0 337.67L504.1 335.81L517.2 333.96L530.4 332.10L543.5 330.25L556.6 328.40L569.7 326.55L582.8 324.71L596.0 322.87L609.1 321.03L622.2 319.20L635.3 317.37L648.4 315.55L661.6 313.73L674.7 311.91L687.8 310.10L700.9 308.30L714.0 306.51L727.2 304.72L740.3 302.95L753.4 301.18L766.5 299.42L779.6 297.67L792.8 295.93L805.9 294.21L819.0 292.50L832.1 290.80L845.2 289.12L858.3 287.46L871.5 285.82L884.6 284.19L897.7 282.59L910.8 281.01L923.9 279.45L937.1 277.92L950.2 276.42L963.3 274.95L976.4 273.50L989.5 272.09L1002.7 270.72L1015.8 269.38L1028.9 268.08L1042.0 266.82L1055.1 265.60L1068.3 264.42L1081.4 263.29L1094.5 262.20L1107.6 261.16L1120.7 260.16L1133.9 259.22L1147.0 258.32L1160.1 257.48L1173.2 256.69L1186.3 255.94L1199.5 255.25L1212.6 254.60L1225.7 254.01L1238.8 253.47L1251.9 252.97L1265.1 252.52L1278.2 252.12L1291.3 251.77L1304.4 251.46L1317.5 251.19L1330.7 250.97L1343.8 250.79L1356.9 250.66L1370.0 250.56L1383.1 250.51L1396.3 250.50L1409.4 250.53L1422.5 250.60L1435.6 250.72L1448.7 250.89L1461.9 251.11L1475.0 251.39L1488.1 251.73L1501.2 252.14L1514.3 252.62L1527.5 253.20L1540.6 253.88L1553.7 254.68L1566.8 255.61L1579.9 256.69L1593.0 257.95" stroke="#009563"/>
<path d="M425.4 366.26L438.5 363.37L451.6 360.48L464.8 357.60L477.9 354.73L491.0 351.86L504.1 349.00L517.2 346.15L530.4 343.32L543.5 340.49L556.6 337.67L569.7 334.87L582.8 332.09L596.0 329.32L609.1 326.57L622.2 323.84L635.3 321.13L648.4 318.45L661.6 315.80L674.7 313.18L687.8 310.59L700.9 308.04L714.0 305.53L727.2 303.07L740.3 300.66L753.4 298.29L766.5 295.99L779.6 293.73L792.8 291.54L805.9 289.40L819.0 287.32L832.1 285.31L845.2 283.35L858.3 281.46L871.5 279.63L884.6 277.87L897.7 276.16L910.8 274.52L923.9 272.95L937.1 271.45L950.2 270.01L963.3 268.65L976.4 267.36L989.5 266.14L1002.7 265.00L1015.8 263.94L1028.9 262.97L1042.0 262.07L1055.1 261.26L1068.3 260.54L1081.4 259.90L1094.5 259.36L1107.6 258.90L1120.7 258.54L1133.9 258.27L1147.0 258.09L1160.1 258.01L1173.2 258.02L1186.3 258.12L1199.5 258.32L1212.6 258.61L1225.7 258.98L1238.8 259.45L1251.9 260.00L1265.1 260.64L1278.2 261.37L1291.3 262.18L1304.4 263.06L1317.5 264.02L1330.7 265.06L1343.8 266.17L1356.9 267.35L1370.0 268.59L1383.1 269.90L1396.3 271.27L1409.4 272.70L1422.5 274.18L1435.6 275.72L1448.7 277.31L1461.9 278.94L1475.0 280.62L1488.1 282.34L1501.2 284.10L1514.3 285.90L1527.5 287.74L1540.6 289.61L1553.7 291.51L1566.8 293.44L1579.9 295.40L1593.0 297.38" stroke="#fe9c00"/>
</g>
<path d="M425.4 404.0L1593.05 379.0" stroke="#333" stroke-width="3.4" stroke-dasharray="12.65 5.42" stroke-dashoffset="0" fill="none"/>
<path d="M982.0 22.5v24M982.0 530.5v-24M191.6 135.4h24M1772.4 135.4h-24M191.6 248.3h24M1772.4 248.3h-24M191.6 361.2h24M1772.4 361.2h-24M191.6 474.1h24M1772.4 474.1h-24" stroke="#000" stroke-width="2.2" fill="none"/>
<path d="M429.5 22.5v12M429.5 530.5v-12M568.7 22.5v12M568.7 530.5v-12M667.5 22.5v12M667.5 530.5v-12M744.1 22.5v12M744.1 530.5v-12M806.7 22.5v12M806.7 530.5v-12M859.6 22.5v12M859.6 530.5v-12M905.4 22.5v12M905.4 530.5v-12M945.8 22.5v12M945.8 530.5v-12M1219.9 22.5v12M1219.9 530.5v-12M1359.1 22.5v12M1359.1 530.5v-12M1457.9 22.5v12M1457.9 530.5v-12M1534.5 22.5v12M1534.5 530.5v-12M1597.1 22.5v12M1597.1 530.5v-12M1650.0 22.5v12M1650.0 530.5v-12M1695.8 22.5v12M1695.8 530.5v-12M1736.2 22.5v12M1736.2 530.5v-12M191.6 78.9h12M1772.4 78.9h-12M191.6 191.8h12M1772.4 191.8h-12M191.6 304.7h12M1772.4 304.7h-12M191.6 417.6h12M1772.4 417.6h-12" stroke="#000" stroke-width="2.2" fill="none"/>
<rect x="209.5" y="40.3" width="681.5" height="111.4" rx="6" fill="#fff" fill-opacity="0.8" stroke="#cccccc" stroke-opacity="0.8" stroke-width="4.6"/>
<path d="M222.2 67.5H298.1" stroke="#0068ea" stroke-opacity="0.8" stroke-width="3.5" fill="none"/>
<path d="M222.2 117.8H298.1" stroke="#e12d1f" stroke-opacity="0.8" stroke-width="3.5" fill="none"/>
<path d="M593.0 67.5H668.6" stroke="#009563" stroke-opacity="0.8" stroke-width="3.5" fill="none"/>
<path d="M593.0 117.8H668.6" stroke="#fe9c00" stroke-opacity="0.8" stroke-width="3.5" fill="none"/>
<text transform="matrix(0.3174 0 0 0.2939 325.09 80.15)" font-size="100" letter-spacing="2.19">IGW</text>
<text transform="matrix(0.3174 0 0 0.2939 324.14 130.50)" font-size="100" letter-spacing="1.76">SIGW-GAUSS</text>
<text transform="matrix(0.3174 0 0 0.2939 695.75 80.15)" font-size="100" letter-spacing="5.11">PT-BUBBLE</text>
<text transform="matrix(0.3174 0 0 0.2939 695.75 130.50)" font-size="100" letter-spacing="4.15">PT-SOUND</text>
</g>
<g id="panel1">
<path d="M429.5 530.5V1038.4M568.7 530.5V1038.4M667.5 530.5V1038.4M744.1 530.5V1038.4M806.7 530.5V1038.4M859.6 530.5V1038.4M905.4 530.5V1038.4M945.8 530.5V1038.4M982.0 530.5V1038.4M1219.9 530.5V1038.4M1359.1 530.5V1038.4M1457.9 530.5V1038.4M1534.5 530.5V1038.4M1597.1 530.5V1038.4M1650.0 530.5V1038.4M1695.8 530.5V1038.4M1736.2 530.5V1038.4" stroke="#000" stroke-opacity="0.03" stroke-width="3.3" fill="none"/>
<path d="M191.6 586.9H1772.4M191.6 643.4H1772.4M191.6 699.8H1772.4M191.6 756.3H1772.4M191.6 812.7H1772.4M191.6 869.2H1772.4M191.6 925.6H1772.4M191.6 982.1H1772.4" stroke="#000" stroke-opacity="0.03" stroke-width="3.3" fill="none"/>
<g clip-path="url(#clip1)" fill="#c6c6c6" fill-opacity="0.33">
<path d="M425.5 801.7L424.9 801.8L424.3 802.0L423.9 802.4L423.5 802.8L423.3 803.4L423.2 804.0L423.1 806.5L423.0 809.0L422.9 811.5L422.8 814.0L422.6 816.5L422.3 819.0L421.8 821.5L421.1 824.0L420.2 826.5L418.7 829.0L416.6 831.5L414.7 834.0L413.2 836.5L411.9 839.0L410.6 841.5L409.3 844.0L407.9 846.5L406.6 849.0L405.6 851.5L404.9 854.0L404.2 856.5L403.8 859.0L403.8 861.5L404.1 864.0L404.6 866.5L405.1 869.0L405.7 871.5L406.5 874.0L407.4 876.5L408.4 879.0L409.6 881.5L411.0 884.0L412.3 886.5L413.6 889.0L414.9 891.5L416.1 894.0L417.1 896.5L417.9 899.0L418.6 901.5L419.3 904.0L419.8 906.5L420.4 909.0L420.9 911.5L421.2 914.0L421.6 916.5L421.9 919.0L422.1 921.5L422.2 924.0L422.3 926.5L422.4 929.0L422.5 931.5L422.5 934.0L422.5 936.5L422.5 939.0L422.5 941.5L422.5 944.0L422.5 946.5L422.5 949.0L422.6 951.5L422.6 954.0L422.6 956.5L422.6 959.0L422.6 961.5L422.6 964.0L422.6 966.5L422.6 969.0L422.6 971.5L422.6 974.0L422.6 976.5L422.6 979.0L422.7 981.5L422.7 984.0L422.7 986.5L422.7 989.0L422.7 991.5L422.7 994.0L422.7 996.5L422.7 999.0L422.7 1001.5L422.7 1004.0L422.7 1006.5L422.7 1009.0L422.7 1011.5L422.7 1014.0L422.7 1016.5L422.7 1019.0L422.7 1021.5L422.7 1024.0L422.7 1026.5L422.7 1029.0L422.7 1031.5L422.8 1034.0L422.8 1036.5L422.8 1039.0L422.8 1041.5L422.8 1044.0L422.8 1046.5L422.8 1049.0L422.8 1051.5L422.8 1054.0L422.8 1056.5L422.8 1059.0L422.8 1061.5L422.8 1064.0L422.8 1066.5L422.8 1069.0L422.8 1071.5L422.8 1074.0L422.8 1076.5L422.8 1079.0L422.8 1081.5L422.8 1084.0L422.8 1086.5L422.8 1089.0L422.8 1091.5L422.8 1094.0L422.8 1096.5L422.8 1099.0L422.8 1101.5L422.8 1104.0L422.8 1106.5L422.8 1109.0L422.8 1111.5L422.8 1114.0L422.8 1116.5L422.8 1119.0L422.8 1121.5L422.8 1124.0L422.8 1126.5L422.8 1129.0L422.9 1131.5L422.9 1134.0L422.9 1136.5L422.9 1139.0L422.9 1141.5L422.9 1144.0L422.9 1146.5L422.9 1148.5L422.9 1148.7L422.9 1148.9L423.0 1149.1L423.0 1149.3L423.1 1149.6L423.2 1149.8L423.4 1150.0L423.5 1150.2L423.8 1150.4L424.0 1150.6L424.4 1150.9L425.5 1151.1L425.5 1151.1L426.5 1150.9L426.9 1150.6L427.2 1150.4L427.4 1150.2L427.6 1150.0L427.7 1149.8L427.8 1149.6L427.9 1149.3L428.0 1149.1L428.0 1148.9L428.1 1148.7L428.1 1148.5L428.1 1146.5L428.1 1144.0L428.1 1141.5L428.1 1139.0L428.1 1136.5L428.1 1134.0L428.1 1131.5L428.1 1129.0L428.1 1126.5L428.1 1124.0L428.1 1121.5L428.1 1119.0L428.1 1116.5L428.1 1114.0L428.1 1111.5L428.1 1109.0L428.1 1106.5L428.1 1104.0L428.1 1101.5L428.1 1099.0L428.1 1096.5L428.1 1094.0L428.1 1091.5L428.2 1089.0L428.2 1086.5L428.2 1084.0L428.2 1081.5L428.2 1079.0L428.2 1076.5L428.2 1074.0L428.2 1071.5L428.2 1069.0L428.2 1066.5L428.2 1064.0L428.2 1061.5L428.2 1059.0L428.2 1056.5L428.2 1054.0L428.2 1051.5L428.2 1049.0L428.2 1046.5L428.2 1044.0L428.2 1041.5L428.2 1039.0L428.2 1036.5L428.2 1034.0L428.2 1031.5L428.2 1029.0L428.2 1026.5L428.2 1024.0L428.2 1021.5L428.2 1019.0L428.2 1016.5L428.2 1014.0L428.2 1011.5L428.2 1009.0L428.2 1006.5L428.2 1004.0L428.3 1001.5L428.3 999.0L428.3 996.5L428.3 994.0L428.3 991.5L428.3 989.0L428.3 986.5L428.3 984.0L428.3 981.5L428.3 979.0L428.3 976.5L428.3 974.0L428.3 971.5L428.3 969.0L428.3 966.5L428.4 964.0L428.4 961.5L428.4 959.0L428.4 956.5L428.4 954.0L428.4 951.5L428.4 949.0L428.4 946.5L428.4 944.0L428.4 941.5L428.4 939.0L428.5 936.5L428.5 934.0L428.5 931.5L428.5 929.0L428.6 926.5L428.8 924.0L428.9 921.5L429.1 919.0L429.4 916.5L429.7 914.0L430.1 911.5L430.6 909.0L431.1 906.5L431.7 904.0L432.3 901.5L433.0 899.0L433.8 896.5L434.8 894.0L436.0 891.5L437.4 889.0L438.7 886.5L440.0 884.0L441.3 881.5L442.5 879.0L443.5 876.5L444.4 874.0L445.2 871.5L445.9 869.0L446.4 866.5L446.8 864.0L447.1 861.5L447.1 859.0L446.7 856.5L446.1 854.0L445.3 851.5L444.4 849.0L443.1 846.5L441.7 844.0L440.4 841.5L439.1 839.0L437.7 836.5L436.3 834.0L434.4 831.5L432.3 829.0L430.7 826.5L429.8 824.0L429.1 821.5L428.7 819.0L428.4 816.5L428.2 814.0L428.1 811.5L427.9 809.0L427.9 806.5L427.8 804.0L427.7 803.4L427.5 802.8L427.1 802.4L426.6 802.0L426.1 801.8L425.5 801.7Z"/>
<path d="M663.4 774.4L662.8 774.5L662.3 774.7L661.8 775.1L661.4 775.5L661.2 776.1L661.1 776.7L661.1 779.2L661.0 781.7L661.0 784.2L660.9 786.7L660.8 789.2L660.7 791.7L660.6 794.2L660.3 796.7L660.0 799.2L659.4 801.7L658.4 804.2L656.8 806.7L653.6 809.2L650.4 811.7L647.2 814.2L644.9 816.7L643.4 819.2L642.6 821.7L642.2 824.2L642.0 826.7L642.3 829.2L643.0 831.7L643.8 834.2L644.8 836.7L646.2 839.2L647.6 841.7L649.0 844.2L650.6 846.7L652.2 849.2L653.5 851.7L654.7 854.2L655.8 856.7L656.8 859.2L657.5 861.7L658.2 864.2L658.7 866.7L659.0 869.2L659.2 871.7L659.4 874.2L659.5 876.7L659.7 879.2L659.8 881.7L659.8 884.2L659.9 886.7L660.0 889.2L660.1 891.7L660.1 894.2L660.2 896.7L660.2 899.2L660.3 901.7L660.3 904.2L660.3 906.7L660.3 909.2L660.4 911.7L660.4 914.2L660.4 916.7L660.4 919.2L660.4 921.7L660.4 924.2L660.4 926.7L660.5 929.2L660.5 931.7L660.5 934.2L660.5 936.7L660.5 939.2L660.5 941.7L660.5 944.2L660.5 946.7L660.5 949.2L660.6 951.7L660.6 954.2L660.6 956.7L660.6 959.2L660.6 961.7L660.6 964.2L660.6 966.7L660.6 969.2L660.6 971.7L660.6 974.2L660.6 976.7L660.6 979.2L660.6 981.7L660.6 984.2L660.6 986.7L660.7 989.2L660.7 991.7L660.7 994.2L660.7 996.7L660.7 999.2L660.7 1001.7L660.7 1004.2L660.7 1006.7L660.7 1009.2L660.7 1011.7L660.7 1014.2L660.7 1016.7L660.7 1019.2L660.7 1021.7L660.7 1024.2L660.7 1026.7L660.7 1029.2L660.7 1031.7L660.7 1034.2L660.7 1036.7L660.8 1039.2L660.8 1041.7L660.8 1044.2L660.8 1046.7L660.8 1049.2L660.8 1051.7L660.8 1054.2L660.8 1056.7L660.8 1059.2L660.8 1061.7L660.8 1063.1L660.8 1063.4L660.8 1063.6L660.9 1063.8L661.0 1064.0L661.0 1064.2L661.2 1064.4L661.3 1064.7L661.5 1064.9L661.7 1065.1L662.0 1065.3L662.4 1065.5L663.4 1065.7L663.4 1065.7L664.5 1065.5L664.8 1065.3L665.1 1065.1L665.3 1064.9L665.5 1064.7L665.7 1064.4L665.8 1064.2L665.9 1064.0L665.9 1063.8L666.0 1063.6L666.0 1063.4L666.0 1063.1L666.0 1061.7L666.0 1059.2L666.0 1056.7L666.0 1054.2L666.0 1051.7L666.0 1049.2L666.1 1046.7L666.1 1044.2L666.1 1041.7L666.1 1039.2L666.1 1036.7L666.1 1034.2L666.1 1031.7L666.1 1029.2L666.1 1026.7L666.1 1024.2L666.1 1021.7L666.1 1019.2L666.1 1016.7L666.1 1014.2L666.1 1011.7L666.1 1009.2L666.1 1006.7L666.1 1004.2L666.1 1001.7L666.2 999.2L666.2 996.7L666.2 994.2L666.2 991.7L666.2 989.2L666.2 986.7L666.2 984.2L666.2 981.7L666.2 979.2L666.2 976.7L666.2 974.2L666.2 971.7L666.2 969.2L666.2 966.7L666.2 964.2L666.2 961.7L666.2 959.2L666.3 956.7L666.3 954.2L666.3 951.7L666.3 949.2L666.3 946.7L666.3 944.2L666.3 941.7L666.3 939.2L666.3 936.7L666.3 934.2L666.4 931.7L666.4 929.2L666.4 926.7L666.4 924.2L666.4 921.7L666.4 919.2L666.4 916.7L666.4 914.2L666.5 911.7L666.5 909.2L666.5 906.7L666.5 904.2L666.5 901.7L666.6 899.2L666.6 896.7L666.7 894.2L666.8 891.7L666.8 889.2L666.9 886.7L667.0 884.2L667.1 881.7L667.2 879.2L667.3 876.7L667.4 874.2L667.6 871.7L667.8 869.2L668.1 866.7L668.6 864.2L669.3 861.7L670.1 859.2L671.0 856.7L672.1 854.2L673.3 851.7L674.7 849.2L676.2 846.7L677.8 844.2L679.3 841.7L680.7 839.2L682.0 836.7L683.0 834.2L683.8 831.7L684.5 829.2L684.8 826.7L684.6 824.2L684.2 821.7L683.4 819.2L681.9 816.7L679.7 814.2L676.4 811.7L673.2 809.2L670.1 806.7L668.5 804.2L667.5 801.7L666.8 799.2L666.5 796.7L666.3 794.2L666.1 791.7L666.0 789.2L665.9 786.7L665.9 784.2L665.8 781.7L665.8 779.2L665.7 776.7L665.6 776.1L665.4 775.5L665.0 775.1L664.6 774.7L664.0 774.5L663.4 774.4Z"/>
<path d="M802.6 760.8L802.0 760.9L801.4 761.1L801.0 761.5L800.6 762.0L800.4 762.5L800.3 763.1L800.3 765.6L800.2 768.1L800.2 770.6L800.2 773.1L800.1 775.6L800.1 778.1L800.0 780.6L799.7 783.1L799.2 785.6L798.3 788.1L796.8 790.6L795.0 793.1L792.7 795.6L790.1 798.1L787.7 800.6L785.5 803.1L783.8 805.6L782.5 808.1L781.5 810.6L781.2 813.1L781.3 815.6L781.5 818.1L781.8 820.6L783.3 823.1L785.2 825.6L786.9 828.1L788.5 830.6L790.0 833.1L791.2 835.6L792.2 838.1L793.2 840.6L794.0 843.1L794.7 845.6L795.4 848.1L796.0 850.6L796.4 853.1L796.8 855.6L797.1 858.1L797.4 860.6L797.7 863.1L798.0 865.6L798.1 868.1L798.3 870.6L798.4 873.1L798.5 875.6L798.6 878.1L798.7 880.6L798.8 883.1L798.9 885.6L798.9 888.1L799.0 890.6L799.0 893.1L799.0 895.6L799.1 898.1L799.1 900.6L799.1 903.1L799.1 905.6L799.2 908.1L799.2 910.6L799.2 913.1L799.2 915.6L799.3 918.1L799.3 920.6L799.3 923.1L799.3 925.6L799.4 928.1L799.4 930.6L799.4 933.1L799.4 935.6L799.4 938.1L799.5 940.6L799.5 943.1L799.5 945.6L799.5 948.1L799.5 950.6L799.6 953.1L799.6 955.6L799.6 958.1L799.6 960.6L799.6 963.1L799.7 965.6L799.7 968.1L799.7 970.6L799.7 973.1L799.7 975.6L799.7 978.1L799.8 980.6L799.8 983.1L799.8 985.6L799.8 988.1L799.8 990.6L799.9 993.1L799.9 995.6L799.9 998.1L799.9 1000.6L799.9 1003.1L799.9 1005.6L800.0 1008.1L800.0 1010.6L800.0 1013.1L800.0 1013.2L800.0 1013.5L800.0 1013.7L800.1 1013.9L800.1 1014.1L800.2 1014.3L800.3 1014.5L800.5 1014.8L800.7 1015.0L800.9 1015.2L801.2 1015.4L801.6 1015.6L802.6 1015.8L802.6 1015.8L803.6 1015.6L804.0 1015.4L804.3 1015.2L804.5 1015.0L804.7 1014.8L804.8 1014.5L805.0 1014.3L805.0 1014.1L805.1 1013.9L805.2 1013.7L805.2 1013.5L805.2 1013.2L805.2 1013.1L805.2 1010.6L805.2 1008.1L805.2 1005.6L805.3 1003.1L805.3 1000.6L805.3 998.1L805.3 995.6L805.3 993.1L805.3 990.6L805.4 988.1L805.4 985.6L805.4 983.1L805.4 980.6L805.4 978.1L805.5 975.6L805.5 973.1L805.5 970.6L805.5 968.1L805.5 965.6L805.5 963.1L805.6 960.6L805.6 958.1L805.6 955.6L805.6 953.1L805.6 950.6L805.7 948.1L805.7 945.6L805.7 943.1L805.7 940.6L805.7 938.1L805.8 935.6L805.8 933.1L805.8 930.6L805.8 928.1L805.9 925.6L805.9 923.1L805.9 920.6L805.9 918.1L805.9 915.6L806.0 913.1L806.0 910.6L806.0 908.1L806.0 905.6L806.1 903.1L806.1 900.6L806.1 898.1L806.1 895.6L806.2 893.1L806.2 890.6L806.3 888.1L806.3 885.6L806.4 883.1L806.4 880.6L806.5 878.1L806.6 875.6L806.8 873.1L806.9 870.6L807.0 868.1L807.2 865.6L807.5 863.1L807.7 860.6L808.1 858.1L808.4 855.6L808.8 853.1L809.2 850.6L809.8 848.1L810.4 845.6L811.2 843.1L812.0 840.6L813.0 838.1L814.0 835.6L815.2 833.1L816.7 830.6L818.3 828.1L820.0 825.6L821.9 823.1L823.4 820.6L823.7 818.1L823.9 815.6L824.0 813.1L823.7 810.6L822.7 808.1L821.3 805.6L819.7 803.1L817.4 800.6L815.1 798.1L812.5 795.6L810.2 793.1L808.4 790.6L806.8 788.1L806.0 785.6L805.5 783.1L805.2 780.6L805.1 778.1L805.1 775.6L805.0 773.1L805.0 770.6L805.0 768.1L804.9 765.6L804.9 763.1L804.8 762.5L804.6 762.0L804.2 761.5L803.7 761.1L803.2 760.9L802.6 760.8Z"/>
<path d="M901.3 737.9L900.7 738.0L900.2 738.2L899.7 738.6L899.4 739.0L899.1 739.6L899.0 740.2L899.0 742.7L899.0 745.2L898.9 747.7L898.9 750.2L898.8 752.7L898.7 755.2L898.5 757.7L898.3 760.2L897.9 762.7L897.2 765.2L895.8 767.7L893.9 770.2L892.0 772.7L889.3 775.2L886.5 777.7L884.1 780.2L882.8 782.7L881.8 785.2L881.1 787.7L880.4 790.2L879.8 792.7L879.6 795.2L879.6 797.7L879.6 800.2L879.7 802.7L880.0 805.2L880.7 807.7L881.4 810.2L882.3 812.7L883.4 815.2L884.5 817.7L885.8 820.2L887.1 822.7L888.3 825.2L889.4 827.7L890.4 830.2L891.3 832.7L892.1 835.2L892.7 837.7L893.3 840.2L893.8 842.7L894.2 845.2L894.6 847.7L895.0 850.2L895.3 852.7L895.6 855.2L895.9 857.7L896.2 860.2L896.4 862.7L896.7 865.2L896.9 867.7L897.0 870.2L897.2 872.7L897.4 875.2L897.5 877.7L897.6 880.2L897.7 882.7L897.8 885.2L897.9 887.7L897.9 890.2L898.0 892.7L898.0 895.2L898.0 897.7L898.1 900.2L898.1 902.7L898.1 905.2L898.2 907.7L898.2 910.2L898.2 912.7L898.3 915.2L898.3 917.7L898.3 920.2L898.3 922.7L898.4 925.2L898.4 927.7L898.4 930.2L898.4 932.7L898.4 935.2L898.5 937.7L898.5 940.2L898.5 942.7L898.5 945.2L898.5 947.7L898.5 950.2L898.6 952.7L898.6 955.2L898.6 957.7L898.6 960.2L898.6 962.7L898.6 965.2L898.7 967.7L898.7 970.2L898.7 972.7L898.7 975.2L898.7 977.7L898.7 977.8L898.8 978.0L898.8 978.3L898.8 978.5L898.9 978.7L899.0 978.9L899.1 979.1L899.2 979.3L899.4 979.6L899.6 979.8L899.9 980.0L900.3 980.2L901.3 980.4L901.3 980.4L902.4 980.2L902.8 980.0L903.1 979.8L903.3 979.6L903.5 979.3L903.6 979.1L903.7 978.9L903.8 978.7L903.9 978.5L903.9 978.3L903.9 978.0L903.9 977.8L903.9 977.7L904.0 975.2L904.0 972.7L904.0 970.2L904.0 967.7L904.0 965.2L904.1 962.7L904.1 960.2L904.1 957.7L904.1 955.2L904.1 952.7L904.2 950.2L904.2 947.7L904.2 945.2L904.2 942.7L904.2 940.2L904.2 937.7L904.3 935.2L904.3 932.7L904.3 930.2L904.3 927.7L904.3 925.2L904.4 922.7L904.4 920.2L904.4 917.7L904.4 915.2L904.5 912.7L904.5 910.2L904.5 907.7L904.5 905.2L904.6 902.7L904.6 900.2L904.6 897.7L904.7 895.2L904.7 892.7L904.8 890.2L904.8 887.7L904.9 885.2L905.0 882.7L905.1 880.2L905.2 877.7L905.3 875.2L905.5 872.7L905.7 870.2L905.8 867.7L906.0 865.2L906.3 862.7L906.5 860.2L906.8 857.7L907.1 855.2L907.4 852.7L907.7 850.2L908.1 847.7L908.5 845.2L908.9 842.7L909.4 840.2L910.0 837.7L910.6 835.2L911.4 832.7L912.3 830.2L913.3 827.7L914.4 825.2L915.6 822.7L916.9 820.2L918.2 817.7L919.3 815.2L920.4 812.7L921.3 810.2L922.0 807.7L922.6 805.2L923.0 802.7L923.0 800.2L923.0 797.7L923.0 795.2L922.9 792.7L922.3 790.2L921.6 787.7L920.9 785.2L919.9 782.7L918.6 780.2L916.2 777.7L913.3 775.2L910.7 772.7L908.8 770.2L906.9 767.7L905.5 765.2L904.8 762.7L904.4 760.2L904.2 757.7L904.0 755.2L903.9 752.7L903.8 750.2L903.8 747.7L903.7 745.2L903.7 742.7L903.6 740.2L903.6 739.6L903.3 739.0L903.0 738.6L902.5 738.2L901.9 738.0L901.3 737.9Z"/>
<path d="M977.9 718.9L977.3 719.0L976.8 719.2L976.3 719.6L976.0 720.0L975.7 720.6L975.6 721.2L975.6 723.7L975.5 726.2L975.3 728.7L974.9 731.2L974.2 733.7L973.3 736.2L971.8 738.7L969.7 741.2L967.0 743.7L964.5 746.2L962.1 748.7L959.9 751.2L958.3 753.7L957.4 756.2L956.7 758.7L956.2 761.2L956.1 763.7L956.0 766.2L956.4 768.7L957.0 771.2L957.7 773.7L958.5 776.2L959.4 778.7L960.3 781.2L961.4 783.7L962.5 786.2L963.6 788.7L964.5 791.2L965.4 793.7L966.1 796.2L966.8 798.7L967.5 801.2L968.0 803.7L968.5 806.2L969.0 808.7L969.4 811.2L969.7 813.7L970.1 816.2L970.4 818.7L970.6 821.2L970.9 823.7L971.1 826.2L971.3 828.7L971.5 831.2L971.7 833.7L971.9 836.2L972.1 838.7L972.3 841.2L972.5 843.7L972.6 846.2L972.8 848.7L972.9 851.2L973.1 853.7L973.3 856.2L973.4 858.7L973.6 861.2L973.7 863.7L973.8 866.2L973.9 868.7L974.0 871.2L974.1 873.7L974.1 876.2L974.2 878.7L974.2 881.2L974.3 883.7L974.3 886.2L974.4 888.7L974.4 891.2L974.5 893.7L974.5 896.2L974.5 898.7L974.6 901.2L974.6 903.7L974.7 906.2L974.7 908.7L974.8 911.2L974.8 913.7L974.8 916.2L974.9 918.7L974.9 921.2L975.0 923.7L975.0 926.2L975.0 928.7L975.1 931.2L975.1 933.7L975.1 936.2L975.2 938.7L975.2 941.2L975.3 943.7L975.3 946.2L975.3 948.7L975.3 950.4L975.4 950.6L975.4 950.8L975.4 951.0L975.5 951.2L975.6 951.4L975.7 951.7L975.8 951.9L976.0 952.1L976.2 952.3L976.5 952.5L976.9 952.7L977.9 953.0L977.9 953.0L979.0 952.7L979.4 952.5L979.7 952.3L979.9 952.1L980.1 951.9L980.2 951.7L980.3 951.4L980.4 951.2L980.5 951.0L980.5 950.8L980.5 950.6L980.5 950.4L980.5 948.7L980.6 946.2L980.6 943.7L980.7 941.2L980.7 938.7L980.7 936.2L980.8 933.7L980.8 931.2L980.9 928.7L980.9 926.2L980.9 923.7L981.0 921.2L981.0 918.7L981.0 916.2L981.1 913.7L981.1 911.2L981.2 908.7L981.2 906.2L981.3 903.7L981.3 901.2L981.3 898.7L981.4 896.2L981.4 893.7L981.5 891.2L981.5 888.7L981.6 886.2L981.6 883.7L981.7 881.2L981.7 878.7L981.8 876.2L981.8 873.7L981.9 871.2L982.0 868.7L982.0 866.2L982.2 863.7L982.3 861.2L982.5 858.7L982.6 856.2L982.8 853.7L982.9 851.2L983.1 848.7L983.3 846.2L983.4 843.7L983.6 841.2L983.8 838.7L983.9 836.2L984.1 833.7L984.3 831.2L984.6 828.7L984.8 826.2L985.0 823.7L985.3 821.2L985.5 818.7L985.8 816.2L986.1 813.7L986.5 811.2L986.9 808.7L987.3 806.2L987.9 803.7L988.4 801.2L989.1 798.7L989.8 796.2L990.5 793.7L991.4 791.2L992.3 788.7L993.4 786.2L994.5 783.7L995.6 781.2L996.5 778.7L997.4 776.2L998.2 773.7L998.8 771.2L999.5 768.7L999.8 766.2L999.8 763.7L999.7 761.2L999.2 758.7L998.5 756.2L997.5 753.7L996.0 751.2L993.8 748.7L991.4 746.2L988.8 743.7L986.2 741.2L984.1 738.7L982.5 736.2L981.7 733.7L981.0 731.2L980.5 728.7L980.3 726.2L980.3 723.7L980.2 721.2L980.2 720.6L979.9 720.0L979.6 719.6L979.1 719.2L978.5 719.0L977.9 718.9Z"/>
<path d="M1040.5 700.2L1039.9 700.3L1039.4 700.5L1038.9 700.9L1038.5 701.4L1038.3 701.9L1038.2 702.5L1038.1 705.0L1038.0 707.5L1037.8 710.0L1037.2 712.5L1036.6 715.0L1035.8 717.5L1034.8 720.0L1033.7 722.5L1032.4 725.0L1031.3 727.5L1030.3 730.0L1029.0 732.5L1027.6 735.0L1026.0 737.5L1024.6 740.0L1023.7 742.5L1023.1 745.0L1022.7 747.5L1022.6 750.0L1022.4 752.5L1022.0 755.0L1021.7 757.5L1021.4 760.0L1021.3 762.5L1021.3 765.0L1021.5 767.5L1021.7 770.0L1021.5 772.5L1021.2 775.0L1020.7 777.5L1020.2 780.0L1019.9 782.5L1019.7 785.0L1019.7 787.5L1019.8 790.0L1019.9 792.5L1020.0 795.0L1020.2 797.5L1020.3 800.0L1020.4 802.5L1020.4 805.0L1020.3 807.5L1019.9 810.0L1019.3 812.5L1018.8 815.0L1018.5 817.5L1018.6 820.0L1019.0 822.5L1019.5 825.0L1019.9 827.5L1020.1 830.0L1020.1 832.5L1020.0 835.0L1019.9 837.5L1020.1 840.0L1020.4 842.5L1020.9 845.0L1021.1 847.5L1020.9 850.0L1020.3 852.5L1019.5 855.0L1018.8 857.5L1018.4 860.0L1018.4 862.5L1018.9 865.0L1019.5 867.5L1020.0 870.0L1020.1 872.5L1020.0 875.0L1019.6 877.5L1019.2 880.0L1019.1 882.5L1019.1 885.0L1019.2 887.5L1019.2 890.0L1019.1 892.5L1018.9 895.0L1018.7 897.5L1018.5 900.0L1018.6 902.5L1018.9 905.0L1019.3 907.5L1019.7 910.0L1020.0 912.5L1019.5 914.5L1019.6 915.8L1019.8 917.2L1020.2 918.5L1020.7 919.8L1021.4 921.2L1022.3 922.5L1023.3 923.8L1024.4 925.2L1025.7 926.5L1027.2 927.8L1029.1 929.2L1033.1 930.5L1047.9 930.5L1052.0 929.2L1053.9 927.8L1055.3 926.5L1056.6 925.2L1057.8 923.8L1058.8 922.5L1059.6 921.2L1060.3 919.8L1060.8 918.5L1061.2 917.2L1061.5 915.8L1061.5 914.5L1061.1 912.5L1061.3 910.0L1061.7 907.5L1062.1 905.0L1062.4 902.5L1062.5 900.0L1062.4 897.5L1062.2 895.0L1061.9 892.5L1061.8 890.0L1061.9 887.5L1062.0 885.0L1062.0 882.5L1061.8 880.0L1061.5 877.5L1061.1 875.0L1060.9 872.5L1061.1 870.0L1061.6 867.5L1062.2 865.0L1062.6 862.5L1062.7 860.0L1062.3 857.5L1061.5 855.0L1060.7 852.5L1060.1 850.0L1060.0 847.5L1060.2 845.0L1060.6 842.5L1061.0 840.0L1061.2 837.5L1061.1 835.0L1061.0 832.5L1060.9 830.0L1061.1 827.5L1061.6 825.0L1062.1 822.5L1062.5 820.0L1062.5 817.5L1062.2 815.0L1061.7 812.5L1061.2 810.0L1060.8 807.5L1060.6 805.0L1060.6 802.5L1060.7 800.0L1060.9 797.5L1061.0 795.0L1061.1 792.5L1061.3 790.0L1061.3 787.5L1061.3 785.0L1061.2 782.5L1060.8 780.0L1060.3 777.5L1059.9 775.0L1059.5 772.5L1059.4 770.0L1059.5 767.5L1059.7 765.0L1059.8 762.5L1059.7 760.0L1059.4 757.5L1059.0 755.0L1058.7 752.5L1058.5 750.0L1058.3 747.5L1057.9 745.0L1057.3 742.5L1056.4 740.0L1055.0 737.5L1053.5 735.0L1052.0 732.5L1050.8 730.0L1049.7 727.5L1048.6 725.0L1047.4 722.5L1046.3 720.0L1045.3 717.5L1044.5 715.0L1043.9 712.5L1043.3 710.0L1043.0 707.5L1042.9 705.0L1042.8 702.5L1042.7 701.9L1042.5 701.4L1042.2 700.9L1041.7 700.5L1041.1 700.3L1040.5 700.2Z"/>
<path d="M1093.4 674.2L1092.9 674.3L1092.3 674.5L1091.9 674.8L1091.5 675.3L1091.3 675.8L1091.2 676.4L1091.2 678.9L1091.2 681.4L1090.9 683.9L1090.3 686.4L1089.5 688.9L1088.3 691.4L1086.7 693.9L1084.9 696.4L1083.6 698.9L1082.2 701.4L1080.2 703.9L1079.0 706.4L1078.5 708.9L1077.6 711.4L1076.8 713.9L1076.3 716.4L1076.3 718.9L1076.6 721.4L1076.9 723.9L1077.3 726.4L1077.6 728.9L1077.7 731.4L1077.5 733.9L1077.2 736.4L1077.0 738.9L1076.9 741.4L1077.1 743.9L1077.3 746.4L1077.6 748.9L1077.8 751.4L1077.9 753.9L1077.8 756.4L1077.8 758.9L1077.6 761.4L1077.5 763.9L1077.4 766.4L1077.3 768.9L1077.1 771.4L1076.8 773.9L1076.5 776.4L1076.2 778.9L1076.1 781.4L1076.0 783.9L1076.1 786.4L1076.2 788.9L1076.3 791.4L1076.2 793.9L1075.9 796.4L1075.6 798.9L1075.3 801.4L1075.2 803.9L1075.1 806.4L1075.2 808.9L1075.2 811.4L1075.1 813.9L1074.8 816.4L1074.5 818.9L1074.1 821.4L1073.8 823.9L1073.7 826.4L1073.7 828.9L1073.8 831.4L1073.8 833.9L1073.7 836.4L1073.5 838.9L1073.2 841.4L1073.1 843.9L1073.0 846.4L1073.0 848.9L1073.0 851.4L1073.0 853.9L1072.8 856.4L1072.5 858.9L1072.2 861.4L1072.0 863.9L1072.0 866.4L1072.1 868.9L1072.3 871.4L1072.5 873.9L1072.6 876.4L1072.6 878.9L1072.5 881.4L1072.4 883.9L1072.3 886.4L1072.3 888.9L1072.5 891.4L1072.6 893.9L1072.4 895.5L1072.5 896.9L1072.7 898.2L1073.1 899.5L1073.7 900.9L1074.4 902.2L1075.2 903.5L1076.2 904.9L1077.3 906.2L1078.6 907.5L1080.1 908.9L1082.0 910.2L1086.0 911.5L1100.8 911.5L1104.9 910.2L1106.8 908.9L1108.3 907.5L1109.6 906.2L1110.7 904.9L1111.7 903.5L1112.5 902.2L1113.2 900.9L1113.8 899.5L1114.1 898.2L1114.4 896.9L1114.4 895.5L1114.3 893.9L1114.4 891.4L1114.6 888.9L1114.6 886.4L1114.5 883.9L1114.4 881.4L1114.3 878.9L1114.2 876.4L1114.4 873.9L1114.6 871.4L1114.8 868.9L1114.9 866.4L1114.9 863.9L1114.7 861.4L1114.4 858.9L1114.1 856.4L1113.9 853.9L1113.9 851.4L1113.9 848.9L1113.9 846.4L1113.8 843.9L1113.6 841.4L1113.4 838.9L1113.2 836.4L1113.1 833.9L1113.1 831.4L1113.2 828.9L1113.2 826.4L1113.0 823.9L1112.8 821.4L1112.4 818.9L1112.1 816.4L1111.8 813.9L1111.7 811.4L1111.7 808.9L1111.7 806.4L1111.7 803.9L1111.5 801.4L1111.3 798.9L1111.0 796.4L1110.7 793.9L1110.6 791.4L1110.7 788.9L1110.8 786.4L1110.8 783.9L1110.8 781.4L1110.7 778.9L1110.4 776.4L1110.1 773.9L1109.8 771.4L1109.6 768.9L1109.5 766.4L1109.4 763.9L1109.2 761.4L1109.1 758.9L1109.1 756.4L1109.0 753.9L1109.1 751.4L1109.3 748.9L1109.6 746.4L1109.8 743.9L1109.9 741.4L1109.9 738.9L1109.7 736.4L1109.4 733.9L1109.2 731.4L1109.2 728.9L1109.6 726.4L1110.0 723.9L1110.3 721.4L1110.6 718.9L1110.5 716.4L1110.1 713.9L1109.3 711.4L1108.4 708.9L1107.9 706.4L1106.6 703.9L1104.7 701.4L1103.3 698.9L1102.0 696.4L1100.1 693.9L1098.5 691.4L1097.4 688.9L1096.6 686.4L1096.0 683.9L1095.7 681.4L1095.6 678.9L1095.6 676.4L1095.6 675.8L1095.3 675.3L1095.0 674.8L1094.5 674.5L1094.0 674.3L1093.4 674.2Z"/>
<path d="M1139.3 671.2L1138.7 671.3L1138.2 671.5L1137.7 671.8L1137.4 672.3L1137.2 672.8L1137.1 673.4L1137.1 675.9L1137.1 678.4L1136.9 680.9L1136.6 683.4L1136.3 685.9L1135.8 688.4L1135.0 690.9L1134.0 693.4L1132.7 695.9L1130.3 698.4L1128.4 700.9L1126.6 703.4L1124.6 705.9L1122.6 708.4L1121.6 710.9L1120.6 713.4L1119.1 715.9L1118.3 718.4L1117.9 720.9L1117.8 723.4L1117.8 725.9L1117.9 728.4L1118.6 730.9L1119.5 733.4L1120.5 735.9L1121.5 738.4L1122.6 740.9L1123.7 743.4L1124.9 745.9L1126.0 748.4L1126.8 750.9L1127.4 753.4L1128.0 755.9L1128.6 758.4L1129.2 760.9L1129.8 763.4L1130.4 765.9L1130.9 768.4L1131.3 770.9L1131.8 773.4L1132.1 775.9L1132.3 778.4L1132.5 780.9L1132.7 783.4L1132.8 785.9L1133.0 788.4L1133.1 790.9L1133.3 793.4L1133.4 795.9L1133.6 798.4L1133.7 800.9L1133.8 803.4L1134.0 805.9L1134.1 808.4L1134.2 810.9L1134.2 813.4L1134.3 815.9L1134.4 818.4L1134.5 820.9L1134.5 823.4L1134.5 825.9L1134.6 828.4L1134.6 830.9L1134.6 833.4L1134.6 835.9L1134.6 838.4L1134.6 840.9L1134.7 843.4L1134.7 845.9L1134.7 848.4L1134.7 850.9L1134.7 853.4L1134.7 855.9L1134.7 858.4L1134.7 860.9L1134.7 863.4L1134.7 865.9L1134.7 868.4L1134.7 870.9L1134.7 873.4L1134.7 875.9L1134.7 878.4L1134.8 880.9L1134.8 883.4L1134.8 885.9L1134.8 888.4L1134.8 890.6L1134.8 891.0L1134.8 891.4L1134.9 891.7L1135.0 892.1L1135.2 892.5L1135.4 892.9L1135.6 893.2L1135.9 893.6L1136.3 894.0L1136.8 894.4L1137.5 894.7L1139.3 895.1L1139.3 895.1L1141.1 894.7L1141.8 894.4L1142.3 894.0L1142.6 893.6L1142.9 893.2L1143.2 892.9L1143.4 892.5L1143.5 892.1L1143.6 891.7L1143.7 891.4L1143.8 891.0L1143.8 890.6L1143.8 888.4L1143.8 885.9L1143.8 883.4L1143.8 880.9L1143.8 878.4L1143.8 875.9L1143.8 873.4L1143.8 870.9L1143.8 868.4L1143.8 865.9L1143.8 863.4L1143.8 860.9L1143.9 858.4L1143.9 855.9L1143.9 853.4L1143.9 850.9L1143.9 848.4L1143.9 845.9L1143.9 843.4L1143.9 840.9L1143.9 838.4L1143.9 835.9L1144.0 833.4L1144.0 830.9L1144.0 828.4L1144.0 825.9L1144.1 823.4L1144.1 820.9L1144.2 818.4L1144.2 815.9L1144.3 813.4L1144.4 810.9L1144.5 808.4L1144.6 805.9L1144.7 803.4L1144.9 800.9L1145.0 798.4L1145.1 795.9L1145.3 793.4L1145.4 790.9L1145.6 788.4L1145.7 785.9L1145.9 783.4L1146.1 780.9L1146.3 778.4L1146.5 775.9L1146.8 773.4L1147.2 770.9L1147.7 768.4L1148.2 765.9L1148.7 763.4L1149.4 760.9L1150.0 758.4L1150.6 755.9L1151.1 753.4L1151.8 750.9L1152.6 748.4L1153.6 745.9L1154.8 743.4L1155.9 740.9L1157.0 738.4L1158.1 735.9L1159.1 733.4L1160.0 730.9L1160.6 728.4L1160.7 725.9L1160.8 723.4L1160.6 720.9L1160.3 718.4L1159.4 715.9L1158.0 713.4L1157.0 710.9L1155.9 708.4L1154.0 705.9L1152.0 703.4L1150.2 700.9L1148.3 698.4L1145.9 695.9L1144.5 693.4L1143.6 690.9L1142.8 688.4L1142.3 685.9L1141.9 683.4L1141.6 680.9L1141.5 678.4L1141.5 675.9L1141.5 673.4L1141.4 672.8L1141.2 672.3L1140.8 671.8L1140.4 671.5L1139.8 671.3L1139.3 671.2Z"/>
<path d="M1179.7 680.0L1179.2 680.1L1178.7 680.3L1178.2 680.6L1177.9 681.0L1177.7 681.6L1177.6 682.1L1177.6 684.6L1177.6 687.1L1177.2 689.6L1176.6 692.1L1175.9 694.6L1175.2 697.1L1174.7 699.6L1174.1 702.1L1173.6 704.6L1172.9 707.1L1172.2 709.6L1171.4 712.1L1170.7 714.6L1169.9 717.1L1169.1 719.6L1168.4 722.1L1167.9 724.6L1167.3 727.1L1166.6 729.6L1165.7 732.1L1165.0 734.6L1164.8 737.1L1165.0 739.6L1165.3 742.1L1165.2 744.6L1164.6 747.1L1163.8 749.6L1163.2 752.1L1163.2 754.6L1163.5 757.1L1163.7 759.6L1163.7 762.1L1163.3 764.6L1162.9 767.1L1162.7 769.6L1162.6 772.1L1162.3 774.6L1161.7 777.1L1160.7 779.6L1159.9 782.1L1159.6 784.6L1159.9 787.1L1160.3 789.6L1160.5 792.1L1160.0 794.6L1159.3 797.1L1158.7 799.6L1158.7 802.1L1159.2 804.6L1159.7 807.1L1159.9 809.6L1159.6 812.1L1159.2 814.6L1158.9 817.1L1159.1 819.6L1159.4 822.1L1159.5 824.6L1159.3 827.1L1158.9 829.6L1158.6 832.1L1158.6 834.6L1158.9 837.1L1159.1 839.6L1159.1 842.1L1158.7 844.6L1158.5 847.1L1158.5 849.6L1158.9 852.1L1159.2 854.6L1159.2 857.1L1158.8 859.6L1158.2 862.1L1157.9 864.6L1158.5 864.6L1158.6 865.9L1158.8 867.3L1159.2 868.6L1159.7 869.9L1160.4 871.3L1161.3 872.6L1162.3 873.9L1163.4 875.3L1164.7 876.6L1166.1 877.9L1168.1 879.3L1172.1 880.6L1187.3 880.6L1191.3 879.3L1193.3 877.9L1194.7 876.6L1196.0 875.3L1197.2 873.9L1198.2 872.6L1199.0 871.3L1199.7 869.9L1200.2 868.6L1200.6 867.3L1200.8 865.9L1200.9 864.6L1201.6 864.6L1201.2 862.1L1200.6 859.6L1200.2 857.1L1200.2 854.6L1200.5 852.1L1200.9 849.6L1200.9 847.1L1200.7 844.6L1200.4 842.1L1200.3 839.6L1200.5 837.1L1200.8 834.6L1200.8 832.1L1200.6 829.6L1200.1 827.1L1199.9 824.6L1200.0 822.1L1200.3 819.6L1200.5 817.1L1200.2 814.6L1199.8 812.1L1199.5 809.6L1199.7 807.1L1200.2 804.6L1200.7 802.1L1200.7 799.6L1200.1 797.1L1199.4 794.6L1199.0 792.1L1199.1 789.6L1199.5 787.1L1199.8 784.6L1199.5 782.1L1198.7 779.6L1197.7 777.1L1197.1 774.6L1196.9 772.1L1196.7 769.6L1196.5 767.1L1196.1 764.6L1195.7 762.1L1195.7 759.6L1195.9 757.1L1196.2 754.6L1196.2 752.1L1195.6 749.6L1194.8 747.1L1194.2 744.6L1194.1 742.1L1194.4 739.6L1194.6 737.1L1194.4 734.6L1193.7 732.1L1192.9 729.6L1192.1 727.1L1191.5 724.6L1191.0 722.1L1190.3 719.6L1189.6 717.1L1188.8 714.6L1188.0 712.1L1187.2 709.6L1186.5 707.1L1185.9 704.6L1185.3 702.1L1184.8 699.6L1184.2 697.1L1183.5 694.6L1182.8 692.1L1182.2 689.6L1181.8 687.1L1181.8 684.6L1181.8 682.1L1181.7 681.6L1181.5 681.0L1181.2 680.6L1180.8 680.3L1180.3 680.1L1179.7 680.0Z"/>
<path d="M1215.9 655.4L1215.3 655.5L1214.8 655.7L1214.3 656.0L1214.0 656.5L1213.8 657.0L1213.7 657.6L1213.7 660.1L1213.7 662.6L1213.6 665.1L1213.5 667.6L1213.3 670.1L1213.0 672.6L1212.8 675.1L1212.5 677.6L1212.2 680.1L1211.8 682.6L1211.3 685.1L1210.9 687.6L1210.4 690.1L1209.9 692.6L1209.3 695.1L1208.7 697.6L1207.9 700.1L1207.1 702.6L1206.3 705.1L1205.6 707.6L1204.8 710.1L1204.1 712.6L1203.4 715.1L1202.8 717.6L1202.3 720.1L1201.7 722.6L1201.1 725.1L1200.3 727.6L1199.4 730.1L1198.6 732.6L1197.9 735.1L1197.4 737.6L1196.8 740.1L1196.2 742.6L1195.7 745.1L1195.4 747.6L1195.5 750.1L1195.8 752.6L1195.9 755.1L1195.6 757.6L1195.1 760.1L1194.6 762.6L1194.5 765.1L1194.6 767.6L1194.9 770.1L1195.1 772.6L1195.0 775.1L1194.8 777.6L1194.6 780.1L1194.7 782.6L1194.9 785.1L1195.1 787.6L1195.1 790.1L1194.9 792.6L1194.6 795.1L1194.5 797.6L1194.6 800.1L1194.9 802.6L1195.0 805.1L1195.0 807.6L1194.9 810.1L1195.0 812.6L1195.3 815.1L1195.5 817.6L1195.6 820.1L1195.3 822.6L1194.7 825.1L1194.2 827.6L1194.2 830.1L1194.8 832.6L1195.6 835.1L1196.2 837.6L1196.4 840.1L1196.0 842.6L1195.4 845.1L1194.9 847.6L1194.7 850.1L1195.4 851.6L1195.5 853.0L1195.7 854.3L1196.1 855.6L1196.6 857.0L1197.3 858.3L1198.1 859.6L1199.1 861.0L1200.3 862.3L1201.6 863.6L1203.0 865.0L1204.9 866.3L1209.0 867.6L1222.8 867.6L1226.8 866.3L1228.7 865.0L1230.2 863.6L1231.5 862.3L1232.6 861.0L1233.6 859.6L1234.5 858.3L1235.2 857.0L1235.7 855.6L1236.1 854.3L1236.3 853.0L1236.4 851.6L1237.1 850.1L1236.8 847.6L1236.3 845.1L1235.7 842.6L1235.4 840.1L1235.5 837.6L1236.2 835.1L1237.0 832.6L1237.5 830.1L1237.5 827.6L1237.1 825.1L1236.5 822.6L1236.2 820.1L1236.2 817.6L1236.5 815.1L1236.7 812.6L1236.8 810.1L1236.8 807.6L1236.7 805.1L1236.9 802.6L1237.1 800.1L1237.3 797.6L1237.2 795.1L1236.9 792.6L1236.6 790.1L1236.6 787.6L1236.8 785.1L1237.1 782.6L1237.2 780.1L1237.0 777.6L1236.8 775.1L1236.7 772.6L1236.8 770.1L1237.1 767.6L1237.3 765.1L1237.1 762.6L1236.6 760.1L1236.1 757.6L1235.9 755.1L1236.0 752.6L1236.2 750.1L1236.3 747.6L1236.1 745.1L1235.5 742.6L1235.0 740.1L1234.4 737.6L1233.8 735.1L1233.2 732.6L1232.3 730.1L1231.5 727.6L1230.7 725.1L1230.0 722.6L1229.4 720.1L1228.9 717.6L1228.4 715.1L1227.7 712.6L1226.9 710.1L1226.1 707.6L1225.4 705.1L1224.7 702.6L1223.8 700.1L1223.1 697.6L1222.4 695.1L1221.9 692.6L1221.3 690.1L1220.9 687.6L1220.4 685.1L1220.0 682.6L1219.6 680.1L1219.3 677.6L1219.0 675.1L1218.7 672.6L1218.5 670.1L1218.3 667.6L1218.2 665.1L1218.1 662.6L1218.1 660.1L1218.1 657.6L1218.0 657.0L1217.8 656.5L1217.4 656.0L1217.0 655.7L1216.4 655.5L1215.9 655.4Z"/>
<path d="M1248.6 641.3L1248.0 641.4L1247.5 641.6L1247.0 641.9L1246.7 642.4L1246.5 642.9L1246.4 643.5L1246.4 646.0L1246.4 648.5L1246.4 651.0L1246.3 653.5L1246.1 656.0L1245.7 658.5L1245.3 661.0L1244.7 663.5L1243.9 666.0L1243.0 668.5L1242.1 671.0L1240.9 673.5L1239.6 676.0L1238.0 678.5L1235.6 681.0L1233.0 683.5L1230.9 686.0L1229.4 688.5L1228.4 691.0L1228.1 693.5L1227.7 696.0L1227.2 698.5L1226.8 701.0L1226.6 703.5L1226.5 706.0L1226.7 708.5L1227.0 711.0L1227.2 713.5L1227.2 716.0L1227.0 718.5L1226.7 721.0L1226.6 723.5L1226.6 726.0L1226.8 728.5L1227.2 731.0L1227.5 733.5L1227.5 736.0L1227.3 738.5L1226.9 741.0L1226.5 743.5L1226.3 746.0L1226.4 748.5L1226.7 751.0L1227.2 753.5L1227.5 756.0L1227.5 758.5L1227.3 761.0L1226.9 763.5L1226.7 766.0L1226.7 768.5L1226.9 771.0L1227.4 773.5L1227.7 776.0L1227.8 778.5L1227.6 781.0L1227.2 783.5L1226.8 786.0L1226.6 788.5L1226.7 791.0L1227.1 793.5L1227.5 796.0L1227.8 798.5L1227.9 801.0L1227.7 803.5L1227.5 806.0L1227.3 808.5L1227.4 811.0L1227.7 813.5L1228.1 816.0L1228.4 818.5L1228.5 821.0L1228.5 823.5L1228.3 826.0L1228.2 828.5L1228.3 831.0L1228.5 833.5L1228.9 836.0L1229.2 838.5L1229.1 839.9L1229.2 841.2L1229.4 842.6L1229.8 843.9L1230.3 845.2L1231.0 846.6L1231.8 847.9L1232.8 849.2L1234.0 850.6L1235.3 851.9L1236.7 853.2L1238.7 854.6L1242.7 855.9L1254.5 855.9L1258.5 854.6L1260.5 853.2L1261.9 851.9L1263.2 850.6L1264.4 849.2L1265.3 847.9L1266.2 846.6L1266.9 845.2L1267.4 843.9L1267.8 842.6L1268.0 841.2L1268.1 839.9L1268.0 838.5L1268.3 836.0L1268.7 833.5L1268.9 831.0L1269.0 828.5L1268.8 826.0L1268.7 823.5L1268.6 821.0L1268.8 818.5L1269.1 816.0L1269.5 813.5L1269.8 811.0L1269.8 808.5L1269.7 806.0L1269.5 803.5L1269.3 801.0L1269.4 798.5L1269.7 796.0L1270.1 793.5L1270.5 791.0L1270.6 788.5L1270.4 786.0L1270.0 783.5L1269.6 781.0L1269.4 778.5L1269.5 776.0L1269.8 773.5L1270.2 771.0L1270.5 768.5L1270.5 766.0L1270.3 763.5L1269.9 761.0L1269.7 758.5L1269.7 756.0L1270.0 753.5L1270.5 751.0L1270.8 748.5L1270.9 746.0L1270.7 743.5L1270.3 741.0L1269.9 738.5L1269.7 736.0L1269.7 733.5L1270.0 731.0L1270.4 728.5L1270.6 726.0L1270.6 723.5L1270.4 721.0L1270.2 718.5L1270.0 716.0L1270.0 713.5L1270.2 711.0L1270.4 708.5L1270.6 706.0L1270.6 703.5L1270.4 701.0L1270.0 698.5L1269.5 696.0L1269.1 693.5L1268.8 691.0L1267.8 688.5L1266.3 686.0L1264.2 683.5L1261.5 681.0L1259.2 678.5L1257.6 676.0L1256.3 673.5L1255.1 671.0L1254.1 668.5L1253.2 666.0L1252.5 663.5L1251.8 661.0L1251.5 658.5L1251.1 656.0L1250.9 653.5L1250.8 651.0L1250.8 648.5L1250.8 646.0L1250.8 643.5L1250.7 642.9L1250.5 642.4L1250.1 641.9L1249.7 641.6L1249.2 641.4L1248.6 641.3Z"/>
<path d="M1278.5 646.6L1277.9 646.7L1277.4 646.9L1277.0 647.2L1276.6 647.6L1276.4 648.2L1276.4 648.7L1276.4 651.2L1276.4 653.7L1276.3 656.2L1276.2 658.7L1276.0 661.2L1275.8 663.7L1275.5 666.2L1275.3 668.7L1275.0 671.2L1274.7 673.7L1274.3 676.2L1273.8 678.7L1273.0 681.2L1272.1 683.7L1271.1 686.2L1270.1 688.7L1269.1 691.2L1268.0 693.7L1266.9 696.2L1265.9 698.7L1265.0 701.2L1264.1 703.7L1263.3 706.2L1262.5 708.7L1262.0 711.2L1261.7 713.7L1261.3 716.2L1260.7 718.7L1259.8 721.2L1258.9 723.7L1258.1 726.2L1257.7 728.7L1257.4 731.2L1257.1 733.7L1256.9 736.2L1257.1 738.7L1257.5 741.2L1257.9 743.7L1258.1 746.2L1258.1 748.7L1258.1 751.2L1258.0 753.7L1258.0 756.2L1257.8 758.7L1257.3 761.2L1256.8 763.7L1256.6 766.2L1256.6 768.7L1256.8 771.2L1257.0 773.7L1257.2 776.2L1257.4 778.7L1257.7 781.2L1258.2 783.7L1258.4 786.2L1258.4 788.7L1258.1 791.2L1257.7 793.7L1257.5 796.2L1257.4 798.7L1257.1 801.2L1256.8 803.7L1256.6 806.2L1256.6 808.7L1256.9 811.2L1257.3 813.7L1257.6 816.2L1257.7 818.7L1257.8 821.2L1258.0 823.7L1258.2 826.2L1258.2 828.7L1257.5 829.2L1257.5 830.5L1257.8 831.9L1258.1 833.2L1258.7 834.5L1259.4 835.9L1260.2 837.2L1261.2 838.5L1262.4 839.9L1263.6 841.2L1265.1 842.5L1267.0 843.9L1271.1 845.2L1285.9 845.2L1289.9 843.9L1291.8 842.5L1293.3 841.2L1294.6 839.9L1295.7 838.5L1296.7 837.2L1297.6 835.9L1298.2 834.5L1298.8 833.2L1299.2 831.9L1299.4 830.5L1299.5 829.2L1298.7 828.7L1298.7 826.2L1298.9 823.7L1299.1 821.2L1299.2 818.7L1299.3 816.2L1299.6 813.7L1300.0 811.2L1300.3 808.7L1300.4 806.2L1300.1 803.7L1299.8 801.2L1299.6 798.7L1299.4 796.2L1299.2 793.7L1298.8 791.2L1298.5 788.7L1298.5 786.2L1298.8 783.7L1299.2 781.2L1299.6 778.7L1299.8 776.2L1299.9 773.7L1300.1 771.2L1300.3 768.7L1300.3 766.2L1300.1 763.7L1299.6 761.2L1299.2 758.7L1298.9 756.2L1298.9 753.7L1298.9 751.2L1298.8 748.7L1298.8 746.2L1299.0 743.7L1299.4 741.2L1299.9 738.7L1300.0 736.2L1299.9 733.7L1299.5 731.2L1299.2 728.7L1298.8 726.2L1298.0 723.7L1297.1 721.2L1296.3 718.7L1295.6 716.2L1295.3 713.7L1294.9 711.2L1294.4 708.7L1293.6 706.2L1292.8 703.7L1291.9 701.2L1291.0 698.7L1290.0 696.2L1288.9 693.7L1287.8 691.2L1286.8 688.7L1285.8 686.2L1284.9 683.7L1283.9 681.2L1283.1 678.7L1282.6 676.2L1282.2 673.7L1281.9 671.2L1281.6 668.7L1281.4 666.2L1281.1 663.7L1280.9 661.2L1280.7 658.7L1280.6 656.2L1280.6 653.7L1280.6 651.2L1280.6 648.7L1280.5 648.2L1280.3 647.6L1279.9 647.2L1279.5 646.9L1279.0 646.7L1278.5 646.6Z"/>
<path d="M1305.9 633.0L1305.4 633.1L1304.8 633.3L1304.4 633.6L1304.0 634.1L1303.8 634.6L1303.7 635.2L1303.7 637.7L1303.7 640.2L1303.7 642.7L1303.6 645.2L1303.4 647.7L1303.2 650.2L1303.0 652.7L1302.9 655.2L1302.9 657.7L1302.8 660.2L1302.8 662.7L1302.7 665.2L1302.7 667.7L1302.5 670.2L1302.1 672.7L1301.5 675.2L1300.9 677.7L1300.3 680.2L1299.9 682.7L1299.5 685.2L1299.1 687.7L1298.8 690.2L1298.5 692.7L1298.2 695.2L1297.9 697.7L1297.6 700.2L1297.2 702.7L1296.8 705.2L1296.4 707.7L1295.9 710.2L1295.3 712.7L1294.8 715.2L1294.4 717.7L1294.0 720.2L1293.7 722.7L1293.4 725.2L1293.2 727.7L1293.1 730.2L1292.9 732.7L1292.7 735.2L1292.4 737.7L1292.0 740.2L1291.6 742.7L1291.2 745.2L1290.8 747.7L1290.4 750.2L1290.2 752.7L1290.1 755.2L1290.1 757.7L1290.1 760.2L1290.2 762.7L1290.3 765.2L1290.2 767.7L1290.0 770.2L1289.6 772.7L1289.0 775.2L1288.3 777.7L1287.6 780.2L1286.9 782.7L1286.4 785.2L1286.2 787.7L1286.2 790.2L1286.3 792.7L1286.5 795.2L1286.7 797.7L1286.8 800.2L1286.8 802.7L1286.7 805.2L1286.4 807.7L1286.1 810.2L1285.6 812.7L1285.2 815.2L1284.8 817.7L1285.4 819.3L1285.5 820.7L1285.7 822.0L1286.1 823.3L1286.7 824.7L1287.3 826.0L1288.2 827.3L1289.2 828.7L1290.3 830.0L1291.6 831.3L1293.1 832.7L1295.0 834.0L1299.0 835.3L1312.8 835.3L1316.9 834.0L1318.8 832.7L1320.3 831.3L1321.5 830.0L1322.7 828.7L1323.7 827.3L1324.5 826.0L1325.2 824.7L1325.8 823.3L1326.1 822.0L1326.4 820.7L1326.4 819.3L1327.0 817.7L1326.7 815.2L1326.3 812.7L1325.8 810.2L1325.4 807.7L1325.2 805.2L1325.0 802.7L1325.1 800.2L1325.2 797.7L1325.4 795.2L1325.6 792.7L1325.7 790.2L1325.7 787.7L1325.4 785.2L1325.0 782.7L1324.3 780.2L1323.6 777.7L1322.9 775.2L1322.3 772.7L1321.9 770.2L1321.7 767.7L1321.6 765.2L1321.7 762.7L1321.7 760.2L1321.8 757.7L1321.8 755.2L1321.7 752.7L1321.5 750.2L1321.1 747.7L1320.7 745.2L1320.2 742.7L1319.8 740.2L1319.5 737.7L1319.2 735.2L1319.0 732.7L1318.8 730.2L1318.6 727.7L1318.5 725.2L1318.2 722.7L1317.9 720.2L1317.5 717.7L1317.0 715.2L1316.5 712.7L1316.0 710.2L1315.5 707.7L1315.0 705.2L1314.6 702.7L1314.3 700.2L1314.0 697.7L1313.7 695.2L1313.4 692.7L1313.0 690.2L1312.7 687.7L1312.4 685.2L1312.0 682.7L1311.6 680.2L1311.0 677.7L1310.4 675.2L1309.8 672.7L1309.3 670.2L1309.2 667.7L1309.1 665.2L1309.1 662.7L1309.1 660.2L1309.0 657.7L1309.0 655.2L1308.9 652.7L1308.7 650.2L1308.4 647.7L1308.2 645.2L1308.1 642.7L1308.1 640.2L1308.1 637.7L1308.1 635.2L1308.1 634.6L1307.8 634.1L1307.5 633.6L1307.0 633.3L1306.5 633.1L1305.9 633.0Z"/>
<path d="M1331.4 620.0L1330.8 620.1L1330.2 620.3L1329.8 620.7L1329.4 621.1L1329.2 621.7L1329.1 622.3L1329.1 624.8L1329.0 627.3L1329.0 629.8L1329.0 632.3L1328.9 634.8L1328.8 637.3L1328.6 639.8L1328.4 642.3L1328.1 644.8L1327.8 647.3L1327.6 649.8L1327.3 652.3L1327.1 654.8L1326.8 657.3L1326.5 659.8L1326.2 662.3L1325.8 664.8L1325.5 667.3L1325.1 669.8L1324.7 672.3L1324.3 674.8L1323.8 677.3L1323.3 679.8L1322.8 682.3L1322.3 684.8L1321.8 687.3L1321.3 689.8L1320.8 692.3L1320.3 694.8L1319.9 697.3L1319.5 699.8L1319.0 702.3L1318.5 704.8L1317.8 707.3L1317.0 709.8L1316.3 712.3L1315.7 714.8L1315.4 717.3L1315.2 719.8L1315.0 722.3L1314.8 724.8L1314.3 727.3L1313.8 729.8L1313.2 732.3L1312.7 734.8L1312.5 737.3L1312.3 739.8L1312.1 742.3L1311.7 744.8L1311.2 747.3L1310.7 749.8L1310.2 752.3L1309.9 754.8L1309.9 757.3L1310.2 759.8L1310.6 762.3L1310.8 764.8L1310.9 767.3L1310.7 769.8L1310.5 772.3L1310.2 774.8L1310.0 777.3L1309.9 779.8L1309.9 782.3L1309.9 784.8L1309.9 787.3L1310.0 789.8L1310.1 792.3L1310.2 794.8L1310.4 797.3L1310.5 799.8L1310.5 802.3L1310.4 804.8L1310.2 807.3L1309.9 809.8L1310.1 810.2L1310.2 811.5L1310.4 812.9L1310.8 814.2L1311.3 815.5L1312.0 816.9L1312.8 818.2L1313.8 819.5L1315.0 820.9L1316.3 822.2L1317.7 823.5L1319.6 824.9L1323.7 826.2L1339.1 826.2L1343.1 824.9L1345.0 823.5L1346.5 822.2L1347.8 820.9L1348.9 819.5L1349.9 818.2L1350.8 816.9L1351.5 815.5L1352.0 814.2L1352.4 812.9L1352.6 811.5L1352.7 810.2L1352.8 809.8L1352.6 807.3L1352.4 804.8L1352.2 802.3L1352.2 799.8L1352.4 797.3L1352.5 794.8L1352.7 792.3L1352.8 789.8L1352.8 787.3L1352.9 784.8L1352.9 782.3L1352.9 779.8L1352.8 777.3L1352.6 774.8L1352.3 772.3L1352.0 769.8L1351.9 767.3L1351.9 764.8L1352.2 762.3L1352.5 759.8L1352.8 757.3L1352.9 754.8L1352.6 752.3L1352.1 749.8L1351.5 747.3L1351.0 744.8L1350.7 742.3L1350.5 739.8L1350.3 737.3L1350.0 734.8L1349.6 732.3L1349.0 729.8L1348.4 727.3L1348.0 724.8L1347.7 722.3L1347.5 719.8L1347.4 717.3L1347.0 714.8L1346.5 712.3L1345.8 709.8L1345.0 707.3L1344.3 704.8L1343.7 702.3L1343.3 699.8L1342.8 697.3L1342.4 694.8L1342.0 692.3L1341.5 689.8L1341.0 687.3L1340.4 684.8L1339.9 682.3L1339.4 679.8L1338.9 677.3L1338.5 674.8L1338.0 672.3L1337.6 669.8L1337.3 667.3L1336.9 664.8L1336.6 662.3L1336.3 659.8L1336.0 657.3L1335.7 654.8L1335.4 652.3L1335.2 649.8L1334.9 647.3L1334.7 644.8L1334.4 642.3L1334.2 639.8L1334.0 637.3L1333.8 634.8L1333.8 632.3L1333.7 629.8L1333.7 627.3L1333.7 624.8L1333.7 622.3L1333.6 621.7L1333.4 621.1L1333.0 620.7L1332.5 620.3L1332.0 620.1L1331.4 620.0Z"/>
<path d="M1355.1 592.5L1354.5 592.6L1353.9 592.8L1353.4 593.2L1353.1 593.6L1352.8 594.2L1352.8 594.8L1352.7 597.3L1352.7 599.8L1352.6 602.3L1352.6 604.8L1352.6 607.3L1352.5 609.8L1352.5 612.3L1352.5 614.8L1352.5 617.3L1352.4 619.8L1352.4 622.3L1352.4 624.8L1352.4 627.3L1352.3 629.8L1352.3 632.3L1352.2 634.8L1352.1 637.3L1351.9 639.8L1351.7 642.3L1351.5 644.8L1351.3 647.3L1351.1 649.8L1350.8 652.3L1350.5 654.8L1350.2 657.3L1349.8 659.8L1349.4 662.3L1349.0 664.8L1348.6 667.3L1348.1 669.8L1347.6 672.3L1347.0 674.8L1346.3 677.3L1345.6 679.8L1344.9 682.3L1344.2 684.8L1343.7 687.3L1343.1 689.8L1342.6 692.3L1342.0 694.8L1341.3 697.3L1340.4 699.8L1339.6 702.3L1338.8 704.8L1338.1 707.3L1337.6 709.8L1337.3 712.3L1337.2 714.8L1337.2 717.3L1337.1 719.8L1337.0 722.3L1336.8 724.8L1336.6 727.3L1336.3 729.8L1336.0 732.3L1335.8 734.8L1335.5 737.3L1335.3 739.8L1335.2 742.3L1335.1 744.8L1335.1 747.3L1335.2 749.8L1335.4 752.3L1335.6 754.8L1335.7 757.3L1335.7 759.8L1335.6 762.3L1335.4 764.8L1335.1 767.3L1334.8 769.8L1334.6 772.3L1334.5 774.8L1334.6 777.3L1334.8 779.8L1335.1 782.3L1335.3 784.8L1335.4 787.3L1335.3 789.8L1335.1 792.3L1334.8 794.8L1334.5 797.3L1334.3 799.8L1334.8 801.7L1334.8 803.1L1335.1 804.4L1335.4 805.7L1336.0 807.1L1336.7 808.4L1337.5 809.7L1338.5 811.1L1339.6 812.4L1340.9 813.7L1342.4 815.1L1344.3 816.4L1348.4 817.7L1361.8 817.7L1365.8 816.4L1367.7 815.1L1369.2 813.7L1370.5 812.4L1371.6 811.1L1372.6 809.7L1373.4 808.4L1374.1 807.1L1374.7 805.7L1375.1 804.4L1375.3 803.1L1375.4 801.7L1375.9 799.8L1375.7 797.3L1375.3 794.8L1375.0 792.3L1374.8 789.8L1374.7 787.3L1374.8 784.8L1375.0 782.3L1375.3 779.8L1375.5 777.3L1375.6 774.8L1375.5 772.3L1375.3 769.8L1375.0 767.3L1374.7 764.8L1374.5 762.3L1374.4 759.8L1374.4 757.3L1374.5 754.8L1374.7 752.3L1374.9 749.8L1375.0 747.3L1375.0 744.8L1374.9 742.3L1374.8 739.8L1374.6 737.3L1374.3 734.8L1374.1 732.3L1373.8 729.8L1373.5 727.3L1373.3 724.8L1373.1 722.3L1373.0 719.8L1372.9 717.3L1372.9 714.8L1372.8 712.3L1372.5 709.8L1372.0 707.3L1371.4 704.8L1370.5 702.3L1369.7 699.8L1368.8 697.3L1368.1 694.8L1367.5 692.3L1367.0 689.8L1366.5 687.3L1365.9 684.8L1365.2 682.3L1364.5 679.8L1363.8 677.3L1363.1 674.8L1362.5 672.3L1362.0 669.8L1361.6 667.3L1361.1 664.8L1360.7 662.3L1360.3 659.8L1359.9 657.3L1359.6 654.8L1359.3 652.3L1359.0 649.8L1358.8 647.3L1358.6 644.8L1358.4 642.3L1358.2 639.8L1358.0 637.3L1357.9 634.8L1357.8 632.3L1357.8 629.8L1357.8 627.3L1357.7 624.8L1357.7 622.3L1357.7 619.8L1357.7 617.3L1357.6 614.8L1357.6 612.3L1357.6 609.8L1357.5 607.3L1357.5 604.8L1357.5 602.3L1357.4 599.8L1357.4 597.3L1357.4 594.8L1357.3 594.2L1357.1 593.6L1356.7 593.2L1356.2 592.8L1355.7 592.6L1355.1 592.5Z"/>
<path d="M1377.2 467.7L1376.6 467.8L1376.1 468.0L1375.6 468.4L1375.2 468.9L1375.0 469.4L1374.9 470.0L1367.8 472.5L1360.3 475.0L1356.2 477.5L1356.3 480.0L1356.5 482.5L1356.6 485.0L1356.7 487.5L1356.7 490.0L1356.6 492.5L1356.5 495.0L1356.3 497.5L1356.2 500.0L1356.2 502.5L1356.1 505.0L1356.0 507.5L1355.9 510.0L1355.9 512.5L1356.1 515.0L1356.3 517.5L1356.5 520.0L1356.6 522.5L1356.7 525.0L1356.6 527.5L1356.5 530.0L1356.4 532.5L1356.4 535.0L1356.5 537.5L1356.5 540.0L1356.4 542.5L1356.3 545.0L1356.0 547.5L1355.7 550.0L1355.6 552.5L1355.7 555.0L1356.0 557.5L1356.4 560.0L1356.7 562.5L1356.9 565.0L1356.9 567.5L1356.8 570.0L1356.6 572.5L1356.4 575.0L1356.3 577.5L1356.3 580.0L1356.3 582.5L1356.2 585.0L1356.1 587.5L1355.9 590.0L1355.8 592.5L1355.8 595.0L1355.9 597.5L1356.1 600.0L1356.4 602.5L1356.7 605.0L1356.8 607.5L1356.9 610.0L1356.8 612.5L1356.8 615.0L1356.7 617.5L1356.5 620.0L1356.3 622.5L1356.0 625.0L1355.8 627.5L1355.6 630.0L1355.6 632.5L1355.8 635.0L1356.1 637.5L1356.3 640.0L1356.6 642.5L1356.7 645.0L1356.7 647.5L1356.6 650.0L1356.6 652.5L1356.7 655.0L1356.7 657.5L1356.7 660.0L1356.6 662.5L1356.3 665.0L1355.9 667.5L1355.6 670.0L1355.4 672.5L1355.5 675.0L1355.8 677.5L1356.2 680.0L1356.6 682.5L1356.8 685.0L1356.9 687.5L1356.9 690.0L1356.7 692.5L1356.6 695.0L1356.6 697.5L1356.5 700.0L1356.5 702.5L1356.3 705.0L1356.1 707.5L1355.8 710.0L1355.7 712.5L1355.6 715.0L1355.8 717.5L1356.0 720.0L1356.2 722.5L1356.5 725.0L1356.7 727.5L1356.8 730.0L1356.9 732.5L1356.9 735.0L1356.9 737.5L1356.8 740.0L1356.5 742.5L1356.2 745.0L1355.8 747.5L1355.6 750.0L1355.6 752.5L1355.7 755.0L1355.9 757.5L1356.2 760.0L1356.4 762.5L1356.5 765.0L1356.5 767.5L1356.5 770.0L1356.6 772.5L1356.7 775.0L1356.9 777.5L1356.9 780.0L1356.8 782.5L1356.5 785.0L1356.1 787.5L1355.7 790.0L1355.5 792.5L1356.3 793.8L1356.4 795.1L1356.6 796.4L1357.0 797.8L1357.5 799.1L1358.2 800.4L1359.1 801.8L1360.1 803.1L1361.2 804.4L1362.5 805.8L1364.0 807.1L1365.9 808.4L1369.9 809.8L1384.5 809.8L1388.5 808.4L1390.5 807.1L1391.9 805.8L1393.2 804.4L1394.4 803.1L1395.4 801.8L1396.2 800.4L1396.9 799.1L1397.4 797.8L1397.8 796.4L1398.0 795.1L1398.1 793.8L1399.0 792.5L1398.7 790.0L1398.4 787.5L1397.9 785.0L1397.6 782.5L1397.5 780.0L1397.6 777.5L1397.7 775.0L1397.8 772.5L1397.9 770.0L1397.9 767.5L1397.9 765.0L1398.0 762.5L1398.2 760.0L1398.5 757.5L1398.7 755.0L1398.9 752.5L1398.8 750.0L1398.6 747.5L1398.3 745.0L1397.9 742.5L1397.7 740.0L1397.5 737.5L1397.5 735.0L1397.5 732.5L1397.6 730.0L1397.8 727.5L1397.9 725.0L1398.2 722.5L1398.4 720.0L1398.7 717.5L1398.8 715.0L1398.8 712.5L1398.6 710.0L1398.4 707.5L1398.1 705.0L1398.0 702.5L1397.9 700.0L1397.8 697.5L1397.8 695.0L1397.7 692.5L1397.6 690.0L1397.5 687.5L1397.6 685.0L1397.9 682.5L1398.3 680.0L1398.7 677.5L1398.9 675.0L1399.0 672.5L1398.8 670.0L1398.5 667.5L1398.1 665.0L1397.8 662.5L1397.7 660.0L1397.7 657.5L1397.8 655.0L1397.8 652.5L1397.8 650.0L1397.8 647.5L1397.8 645.0L1397.9 642.5L1398.1 640.0L1398.4 637.5L1398.6 635.0L1398.8 632.5L1398.8 630.0L1398.6 627.5L1398.4 625.0L1398.1 622.5L1397.9 620.0L1397.8 617.5L1397.7 615.0L1397.6 612.5L1397.6 610.0L1397.6 607.5L1397.8 605.0L1398.0 602.5L1398.3 600.0L1398.5 597.5L1398.7 595.0L1398.6 592.5L1398.5 590.0L1398.3 587.5L1398.2 585.0L1398.1 582.5L1398.1 580.0L1398.1 577.5L1398.0 575.0L1397.8 572.5L1397.6 570.0L1397.5 567.5L1397.5 565.0L1397.7 562.5L1398.1 560.0L1398.4 557.5L1398.7 555.0L1398.8 552.5L1398.7 550.0L1398.4 547.5L1398.2 545.0L1398.0 542.5L1397.9 540.0L1398.0 537.5L1398.0 535.0L1398.0 532.5L1397.9 530.0L1397.8 527.5L1397.7 525.0L1397.8 522.5L1397.9 520.0L1398.2 517.5L1398.4 515.0L1398.5 512.5L1398.5 510.0L1398.5 507.5L1398.4 505.0L1398.3 502.5L1398.2 500.0L1398.1 497.5L1398.0 495.0L1397.8 492.5L1397.7 490.0L1397.7 487.5L1397.8 485.0L1398.0 482.5L1398.2 480.0L1398.2 477.5L1394.1 475.0L1386.6 472.5L1379.5 470.0L1379.4 469.4L1379.2 468.9L1378.8 468.4L1378.4 468.0L1377.8 467.8L1377.2 467.7Z"/>
<path d="M1398.0 542.0L1397.4 542.1L1396.9 542.3L1396.4 542.7L1396.0 543.1L1395.8 543.7L1395.7 544.3L1395.7 546.8L1395.6 549.3L1395.6 551.8L1395.5 554.3L1395.4 556.8L1395.3 559.3L1395.0 561.8L1394.4 564.3L1393.4 566.8L1392.3 569.3L1391.1 571.8L1390.0 574.3L1388.9 576.8L1387.6 579.3L1386.2 581.8L1384.3 584.3L1381.3 586.8L1379.7 589.3L1378.8 591.8L1378.1 594.3L1377.3 596.8L1376.7 599.3L1376.4 601.8L1376.2 604.3L1376.2 606.8L1376.1 609.3L1376.0 611.8L1376.1 614.3L1376.5 616.8L1377.3 619.3L1378.2 621.8L1379.0 624.3L1379.5 626.8L1379.7 629.3L1379.9 631.8L1380.4 634.3L1381.3 636.8L1382.3 639.3L1383.2 641.8L1384.0 644.3L1384.5 646.8L1385.1 649.3L1385.8 651.8L1386.5 654.3L1387.3 656.8L1388.1 659.3L1388.8 661.8L1389.4 664.3L1390.0 666.8L1390.4 669.3L1390.5 671.8L1390.6 674.3L1390.7 676.8L1390.8 679.3L1390.9 681.8L1390.9 684.3L1391.0 686.8L1391.0 689.3L1391.0 691.8L1391.0 694.3L1391.0 696.8L1391.0 699.3L1391.0 701.8L1391.0 704.3L1391.0 706.8L1391.0 709.3L1391.0 711.8L1391.0 714.3L1391.0 716.8L1391.0 719.3L1391.0 721.8L1391.0 724.3L1391.0 726.8L1391.0 729.3L1391.0 731.8L1391.0 734.3L1391.0 736.8L1390.9 739.3L1390.9 741.8L1390.8 744.3L1390.8 746.8L1390.7 749.3L1390.7 751.8L1390.7 754.3L1390.6 756.8L1390.6 759.3L1390.6 761.8L1390.5 764.3L1390.5 766.8L1390.5 769.3L1390.5 771.8L1390.5 774.3L1390.5 776.8L1390.5 779.3L1390.5 781.8L1390.5 784.3L1390.5 786.8L1390.5 789.3L1390.5 791.8L1390.5 794.3L1390.5 794.8L1390.5 795.4L1390.6 796.1L1390.8 796.7L1391.0 797.3L1391.2 797.9L1391.5 798.6L1391.9 799.2L1392.4 799.8L1393.1 800.4L1393.9 801.1L1395.0 801.7L1398.0 802.3L1398.0 802.3L1401.0 801.7L1402.2 801.1L1403.0 800.4L1403.6 799.8L1404.1 799.2L1404.5 798.6L1404.8 797.9L1405.1 797.3L1405.3 796.7L1405.4 796.1L1405.5 795.4L1405.5 794.8L1405.5 794.3L1405.5 791.8L1405.5 789.3L1405.5 786.8L1405.5 784.3L1405.5 781.8L1405.5 779.3L1405.5 776.8L1405.5 774.3L1405.5 771.8L1405.5 769.3L1405.5 766.8L1405.5 764.3L1405.5 761.8L1405.5 759.3L1405.4 756.8L1405.4 754.3L1405.3 751.8L1405.3 749.3L1405.3 746.8L1405.2 744.3L1405.2 741.8L1405.1 739.3L1405.1 736.8L1405.1 734.3L1405.0 731.8L1405.0 729.3L1405.0 726.8L1405.0 724.3L1405.0 721.8L1405.0 719.3L1405.0 716.8L1405.0 714.3L1405.0 711.8L1405.0 709.3L1405.0 706.8L1405.0 704.3L1405.0 701.8L1405.0 699.3L1405.0 696.8L1405.0 694.3L1405.0 691.8L1405.0 689.3L1405.1 686.8L1405.1 684.3L1405.2 681.8L1405.2 679.3L1405.3 676.8L1405.4 674.3L1405.5 671.8L1405.7 669.3L1406.0 666.8L1406.6 664.3L1407.2 661.8L1407.9 659.3L1408.7 656.8L1409.5 654.3L1410.3 651.8L1411.0 649.3L1411.5 646.8L1412.1 644.3L1412.8 641.8L1413.7 639.3L1414.7 636.8L1415.6 634.3L1416.1 631.8L1416.4 629.3L1416.5 626.8L1417.0 624.3L1417.8 621.8L1418.8 619.3L1419.6 616.8L1420.0 614.3L1420.1 611.8L1420.0 609.3L1419.9 606.8L1419.8 604.3L1419.7 601.8L1419.3 599.3L1418.7 596.8L1418.0 594.3L1417.2 591.8L1416.4 589.3L1414.8 586.8L1411.8 584.3L1409.8 581.8L1408.4 579.3L1407.1 576.8L1406.0 574.3L1404.9 571.8L1403.8 569.3L1402.6 566.8L1401.6 564.3L1401.0 561.8L1400.8 559.3L1400.7 556.8L1400.6 554.3L1400.5 551.8L1400.4 549.3L1400.4 546.8L1400.3 544.3L1400.2 543.7L1400.0 543.1L1399.7 542.7L1399.2 542.3L1398.6 542.1L1398.0 542.0Z"/>
<path d="M1417.6 575.8L1417.0 575.9L1416.5 576.1L1416.0 576.5L1415.7 577.0L1415.4 577.5L1415.3 578.1L1415.3 580.6L1415.3 583.1L1415.2 585.6L1415.1 588.1L1415.0 590.6L1414.9 593.1L1414.7 595.6L1414.4 598.1L1413.9 600.6L1413.0 603.1L1411.9 605.6L1410.6 608.1L1409.0 610.6L1407.0 613.1L1404.9 615.6L1402.6 618.1L1400.2 620.6L1398.2 623.1L1396.6 625.6L1396.1 628.1L1396.0 630.6L1396.0 633.1L1396.2 635.6L1397.1 638.1L1398.2 640.6L1399.4 643.1L1400.8 645.6L1402.4 648.1L1404.0 650.6L1405.7 653.1L1407.4 655.6L1408.7 658.1L1409.7 660.6L1410.5 663.1L1411.2 665.6L1411.7 668.1L1412.0 670.6L1412.3 673.1L1412.6 675.6L1412.7 678.1L1412.8 680.6L1412.9 683.1L1412.9 685.6L1412.9 688.1L1413.0 690.6L1413.0 693.1L1413.0 695.6L1413.0 698.1L1413.0 700.6L1413.0 703.1L1413.0 705.6L1413.0 708.1L1413.0 710.6L1413.0 713.1L1413.0 715.6L1413.0 718.1L1413.0 720.6L1413.0 723.1L1413.0 725.6L1413.0 728.1L1413.0 730.6L1412.9 733.1L1412.9 735.6L1412.9 738.1L1412.9 740.6L1412.9 743.1L1412.9 745.6L1412.8 748.1L1412.8 750.6L1412.8 753.1L1412.8 755.6L1412.8 758.1L1412.8 760.6L1412.8 763.1L1412.7 765.6L1412.7 768.1L1412.7 770.6L1412.7 773.1L1412.7 775.6L1412.7 778.1L1412.7 780.6L1412.6 783.1L1412.6 785.6L1412.6 788.1L1412.6 790.3L1412.7 790.7L1412.7 791.1L1412.8 791.5L1412.9 791.9L1413.1 792.4L1413.3 792.8L1413.6 793.2L1413.9 793.6L1414.3 794.0L1414.9 794.4L1415.6 794.9L1417.6 795.3L1417.6 795.3L1419.6 794.9L1420.4 794.4L1421.0 794.0L1421.4 793.6L1421.7 793.2L1422.0 792.8L1422.2 792.4L1422.4 791.9L1422.5 791.5L1422.6 791.1L1422.6 790.7L1422.6 790.3L1422.6 788.1L1422.6 785.6L1422.6 783.1L1422.6 780.6L1422.6 778.1L1422.6 775.6L1422.6 773.1L1422.6 770.6L1422.6 768.1L1422.6 765.6L1422.5 763.1L1422.5 760.6L1422.5 758.1L1422.5 755.6L1422.5 753.1L1422.5 750.6L1422.4 748.1L1422.4 745.6L1422.4 743.1L1422.4 740.6L1422.4 738.1L1422.4 735.6L1422.4 733.1L1422.3 730.6L1422.3 728.1L1422.3 725.6L1422.3 723.1L1422.3 720.6L1422.3 718.1L1422.3 715.6L1422.3 713.1L1422.2 710.6L1422.2 708.1L1422.2 705.6L1422.3 703.1L1422.3 700.6L1422.3 698.1L1422.3 695.6L1422.3 693.1L1422.3 690.6L1422.4 688.1L1422.4 685.6L1422.4 683.1L1422.5 680.6L1422.6 678.1L1422.7 675.6L1423.0 673.1L1423.3 670.6L1423.6 668.1L1424.1 665.6L1424.8 663.1L1425.6 660.6L1426.6 658.1L1427.9 655.6L1429.6 653.1L1431.3 650.6L1432.9 648.1L1434.5 645.6L1435.9 643.1L1437.1 640.6L1438.2 638.1L1439.0 635.6L1439.3 633.1L1439.3 630.6L1439.2 628.1L1438.7 625.6L1437.1 623.1L1435.1 620.6L1432.7 618.1L1430.4 615.6L1428.2 613.1L1426.3 610.6L1424.7 608.1L1423.4 605.6L1422.3 603.1L1421.4 600.6L1420.9 598.1L1420.6 595.6L1420.4 593.1L1420.2 590.6L1420.1 588.1L1420.1 585.6L1420.0 583.1L1420.0 580.6L1419.9 578.1L1419.9 577.5L1419.6 577.0L1419.3 576.5L1418.8 576.1L1418.2 575.9L1417.6 575.8Z"/>
<path d="M1436.2 571.8L1435.7 571.9L1435.2 572.1L1434.7 572.4L1434.4 572.9L1434.2 573.4L1434.1 573.9L1434.1 576.4L1434.1 578.9L1434.1 581.4L1434.1 583.9L1434.0 586.4L1434.0 588.9L1433.9 591.4L1433.7 593.9L1433.6 596.4L1433.0 598.9L1432.5 601.4L1432.2 603.9L1431.9 606.4L1431.6 608.9L1431.3 611.4L1430.7 613.9L1430.0 616.4L1429.3 618.9L1428.5 621.4L1427.8 623.9L1427.2 626.4L1426.7 628.9L1426.0 631.4L1425.2 633.9L1423.8 636.4L1422.2 638.9L1421.2 641.4L1420.4 643.9L1419.7 646.4L1419.0 648.9L1418.6 651.4L1418.3 653.9L1418.1 656.4L1417.9 658.9L1417.4 661.4L1416.7 663.9L1416.2 666.4L1416.0 668.9L1416.0 671.4L1416.1 673.9L1416.1 676.4L1416.0 678.9L1415.7 681.4L1415.5 683.9L1415.4 686.4L1415.4 688.9L1415.5 691.4L1415.5 693.9L1415.3 696.4L1415.2 698.9L1415.3 701.4L1415.7 703.9L1416.3 706.4L1416.7 708.9L1416.8 711.4L1416.6 713.9L1416.2 716.4L1416.0 718.9L1416.0 721.4L1416.1 723.9L1416.2 726.4L1416.1 728.9L1416.0 731.4L1415.9 733.9L1416.1 736.4L1416.6 738.9L1417.0 741.4L1417.3 743.9L1417.2 746.4L1416.9 748.9L1416.7 751.4L1416.8 753.9L1417.0 756.4L1417.3 758.9L1417.5 761.4L1417.4 763.9L1417.1 766.4L1417.0 768.9L1417.1 771.4L1417.3 772.6L1417.4 774.0L1417.6 775.3L1418.0 776.6L1418.5 778.0L1419.2 779.3L1420.1 780.6L1421.0 782.0L1422.2 783.3L1423.5 784.6L1424.9 786.0L1426.9 787.3L1430.9 788.6L1441.5 788.6L1445.5 787.3L1447.5 786.0L1448.9 784.6L1450.2 783.3L1451.4 782.0L1452.4 780.6L1453.2 779.3L1453.9 778.0L1454.4 776.6L1454.8 775.3L1455.0 774.0L1455.1 772.6L1455.3 771.4L1455.4 768.9L1455.3 766.4L1455.0 763.9L1454.9 761.4L1455.1 758.9L1455.4 756.4L1455.6 753.9L1455.7 751.4L1455.5 748.9L1455.2 746.4L1455.1 743.9L1455.4 741.4L1455.8 738.9L1456.3 736.4L1456.5 733.9L1456.4 731.4L1456.3 728.9L1456.2 726.4L1456.3 723.9L1456.4 721.4L1456.4 718.9L1456.2 716.4L1455.8 713.9L1455.6 711.4L1455.7 708.9L1456.1 706.4L1456.7 703.9L1457.1 701.4L1457.2 698.9L1457.1 696.4L1456.9 693.9L1456.9 691.4L1457.0 688.9L1457.0 686.4L1457.0 683.9L1456.7 681.4L1456.4 678.9L1456.3 676.4L1456.3 673.9L1456.5 671.4L1456.5 668.9L1456.2 666.4L1455.7 663.9L1455.0 661.4L1454.6 658.9L1454.3 656.4L1454.1 653.9L1453.9 651.4L1453.4 648.9L1452.7 646.4L1452.0 643.9L1451.2 641.4L1450.2 638.9L1448.6 636.4L1447.2 633.9L1446.4 631.4L1445.7 628.9L1445.2 626.4L1444.6 623.9L1443.9 621.4L1443.2 618.9L1442.4 616.4L1441.7 613.9L1441.2 611.4L1440.8 608.9L1440.5 606.4L1440.2 603.9L1439.9 601.4L1439.5 598.9L1438.8 596.4L1438.7 593.9L1438.6 591.4L1438.5 588.9L1438.4 586.4L1438.3 583.9L1438.3 581.4L1438.3 578.9L1438.3 576.4L1438.3 573.9L1438.2 573.4L1438.0 572.9L1437.7 572.4L1437.3 572.1L1436.7 571.9L1436.2 571.8Z"/>
<path d="M1453.8 590.7L1453.3 590.8L1452.8 591.0L1452.3 591.3L1452.0 591.8L1451.8 592.3L1451.7 592.8L1451.7 595.3L1451.7 597.8L1451.7 600.3L1451.7 602.8L1451.7 605.3L1451.6 607.8L1451.5 610.3L1451.2 612.8L1450.8 615.3L1450.3 617.8L1449.9 620.3L1449.4 622.8L1448.8 625.3L1448.3 627.8L1447.8 630.3L1447.3 632.8L1446.6 635.3L1445.4 637.8L1444.2 640.3L1443.0 642.8L1441.7 645.3L1440.5 647.8L1439.6 650.3L1438.8 652.8L1438.1 655.3L1437.2 657.8L1436.2 660.3L1435.3 662.8L1434.8 665.3L1434.5 667.8L1434.1 670.3L1433.7 672.8L1433.2 675.3L1432.9 677.8L1433.1 680.3L1433.6 682.8L1434.1 685.3L1434.3 687.8L1434.0 690.3L1433.6 692.8L1433.3 695.3L1433.5 697.8L1434.0 700.3L1434.3 702.8L1434.2 705.3L1433.9 707.8L1433.5 710.3L1433.4 712.8L1433.6 715.3L1434.1 717.8L1434.4 720.3L1434.6 722.8L1434.6 725.3L1434.7 727.8L1434.6 730.3L1434.4 732.8L1434.0 735.3L1433.7 737.8L1433.6 740.3L1434.1 742.8L1434.9 745.3L1435.6 747.8L1435.6 750.3L1435.1 752.8L1434.3 755.3L1433.9 757.8L1434.2 760.3L1435.0 762.8L1435.6 765.3L1434.9 766.3L1435.0 767.6L1435.2 769.0L1435.6 770.3L1436.1 771.6L1436.8 773.0L1437.7 774.3L1438.7 775.6L1439.8 777.0L1441.1 778.3L1442.5 779.6L1444.5 781.0L1448.5 782.3L1459.1 782.3L1463.1 781.0L1465.1 779.6L1466.5 778.3L1467.8 777.0L1469.0 775.6L1470.0 774.3L1470.8 773.0L1471.5 771.6L1472.0 770.3L1472.4 769.0L1472.6 767.6L1472.7 766.3L1472.0 765.3L1472.6 762.8L1473.4 760.3L1473.7 757.8L1473.3 755.3L1472.5 752.8L1472.0 750.3L1472.1 747.8L1472.7 745.3L1473.5 742.8L1474.0 740.3L1474.0 737.8L1473.6 735.3L1473.2 732.8L1473.0 730.3L1472.9 727.8L1473.0 725.3L1473.1 722.8L1473.2 720.3L1473.6 717.8L1474.0 715.3L1474.2 712.8L1474.1 710.3L1473.8 707.8L1473.4 705.3L1473.3 702.8L1473.6 700.3L1474.1 697.8L1474.3 695.3L1474.1 692.8L1473.6 690.3L1473.3 687.8L1473.5 685.3L1474.0 682.8L1474.6 680.3L1474.7 677.8L1474.4 675.3L1473.9 672.8L1473.5 670.3L1473.2 667.8L1472.9 665.3L1472.3 662.8L1471.4 660.3L1470.4 657.8L1469.6 655.3L1468.8 652.8L1468.0 650.3L1467.1 647.8L1465.9 645.3L1464.6 642.8L1463.4 640.3L1462.2 637.8L1461.1 635.3L1460.3 632.8L1459.9 630.3L1459.3 627.8L1458.8 625.3L1458.3 622.8L1457.7 620.3L1457.3 617.8L1456.8 615.3L1456.4 612.8L1456.1 610.3L1456.0 607.8L1456.0 605.3L1455.9 602.8L1455.9 600.3L1455.9 597.8L1455.9 595.3L1455.9 592.8L1455.8 592.3L1455.6 591.8L1455.3 591.3L1454.9 591.0L1454.4 590.8L1453.8 590.7Z"/>
<path d="M1470.6 592.7L1470.0 592.8L1469.5 593.0L1469.1 593.3L1468.7 593.8L1468.5 594.3L1468.5 594.8L1468.5 597.3L1468.5 599.8L1468.5 602.3L1468.4 604.8L1468.4 607.3L1468.4 609.8L1468.4 612.3L1468.2 614.8L1467.9 617.3L1467.5 619.8L1467.0 622.3L1466.6 624.8L1466.3 627.3L1465.9 629.8L1465.4 632.3L1464.9 634.8L1464.3 637.3L1463.5 639.8L1462.8 642.3L1462.0 644.8L1461.2 647.3L1460.2 649.8L1459.3 652.3L1458.3 654.8L1457.4 657.3L1456.7 659.8L1456.1 662.3L1455.5 664.8L1454.8 667.3L1453.9 669.8L1452.9 672.3L1452.0 674.8L1451.4 677.3L1451.2 679.8L1451.4 682.3L1451.7 684.8L1452.0 687.3L1452.0 689.8L1451.8 692.3L1451.4 694.8L1450.9 697.3L1450.5 699.8L1450.3 702.3L1450.4 704.8L1450.5 707.3L1450.6 709.8L1450.7 712.3L1450.7 714.8L1450.6 717.3L1450.7 719.8L1450.8 722.3L1451.1 724.8L1451.4 727.3L1451.6 729.8L1451.7 732.3L1451.6 734.8L1451.5 737.3L1451.4 739.8L1451.4 742.3L1451.5 744.8L1451.6 747.3L1451.7 749.8L1451.5 752.3L1451.2 754.8L1450.9 757.3L1450.7 759.8L1451.7 760.3L1451.7 761.6L1452.0 763.0L1452.3 764.3L1452.9 765.6L1453.6 767.0L1454.4 768.3L1455.4 769.6L1456.5 771.0L1457.8 772.3L1459.3 773.6L1461.2 775.0L1465.3 776.3L1475.9 776.3L1479.9 775.0L1481.8 773.6L1483.3 772.3L1484.6 771.0L1485.7 769.6L1486.7 768.3L1487.5 767.0L1488.2 765.6L1488.8 764.3L1489.2 763.0L1489.4 761.6L1489.5 760.3L1490.4 759.8L1490.2 757.3L1489.9 754.8L1489.6 752.3L1489.5 749.8L1489.5 747.3L1489.6 744.8L1489.7 742.3L1489.7 739.8L1489.6 737.3L1489.5 734.8L1489.4 732.3L1489.5 729.8L1489.7 727.3L1490.0 724.8L1490.3 722.3L1490.4 719.8L1490.5 717.3L1490.4 714.8L1490.4 712.3L1490.5 709.8L1490.6 707.3L1490.8 704.8L1490.8 702.3L1490.6 699.8L1490.2 697.3L1489.7 694.8L1489.3 692.3L1489.1 689.8L1489.1 687.3L1489.4 684.8L1489.7 682.3L1489.9 679.8L1489.7 677.3L1489.1 674.8L1488.2 672.3L1487.2 669.8L1486.4 667.3L1485.6 664.8L1485.0 662.3L1484.4 659.8L1483.7 657.3L1482.8 654.8L1481.8 652.3L1480.9 649.8L1480.0 647.3L1479.1 644.8L1478.3 642.3L1477.6 639.8L1476.9 637.3L1476.2 634.8L1475.7 632.3L1475.3 629.8L1474.9 627.3L1474.5 624.8L1474.1 622.3L1473.7 619.8L1473.2 617.3L1472.9 614.8L1472.8 612.3L1472.7 609.8L1472.7 607.3L1472.7 604.8L1472.7 602.3L1472.7 599.8L1472.7 597.3L1472.7 594.8L1472.6 594.3L1472.4 593.8L1472.0 593.3L1471.6 593.0L1471.1 592.8L1470.6 592.7Z"/>
<path d="M1486.5 574.0L1486.0 574.1L1485.5 574.3L1485.0 574.6L1484.7 575.0L1484.5 575.6L1484.4 576.1L1484.4 578.6L1484.4 581.1L1484.4 583.6L1484.4 586.1L1484.4 588.6L1484.4 591.1L1484.4 593.6L1484.3 596.1L1484.3 598.6L1484.3 601.1L1484.2 603.6L1483.9 606.1L1483.5 608.6L1483.1 611.1L1482.8 613.6L1482.5 616.1L1482.2 618.6L1481.9 621.1L1481.6 623.6L1481.2 626.1L1480.9 628.6L1480.5 631.1L1480.1 633.6L1479.6 636.1L1479.1 638.6L1478.4 641.1L1477.7 643.6L1477.0 646.1L1476.4 648.6L1475.7 651.1L1474.9 653.6L1474.0 656.1L1473.0 658.6L1471.9 661.1L1470.9 663.6L1470.1 666.1L1469.5 668.6L1469.1 671.1L1468.9 673.6L1468.6 676.1L1468.2 678.6L1467.9 681.1L1467.4 683.6L1467.0 686.1L1466.6 688.6L1466.2 691.1L1465.9 693.6L1465.7 696.1L1465.6 698.6L1465.8 701.1L1466.2 703.6L1466.7 706.1L1467.3 708.6L1467.5 711.1L1467.5 713.6L1467.1 716.1L1466.5 718.6L1466.1 721.1L1466.0 723.6L1466.1 726.1L1466.5 728.6L1467.0 731.1L1467.4 733.6L1467.6 736.1L1467.7 738.6L1467.7 741.1L1467.7 743.6L1467.6 746.1L1467.6 748.6L1467.5 751.1L1467.3 753.6L1467.6 754.6L1467.7 755.9L1467.9 757.2L1468.3 758.6L1468.8 759.9L1469.5 761.2L1470.4 762.6L1471.4 763.9L1472.5 765.2L1473.8 766.6L1475.3 767.9L1477.2 769.2L1481.2 770.6L1491.8 770.6L1495.9 769.2L1497.8 767.9L1499.2 766.6L1500.5 765.2L1501.7 763.9L1502.7 762.6L1503.5 761.2L1504.2 759.9L1504.7 758.6L1505.1 757.2L1505.4 755.9L1505.4 754.6L1505.7 753.6L1505.6 751.1L1505.5 748.6L1505.4 746.1L1505.4 743.6L1505.4 741.1L1505.4 738.6L1505.4 736.1L1505.6 733.6L1506.0 731.1L1506.5 728.6L1506.9 726.1L1507.1 723.6L1506.9 721.1L1506.5 718.6L1506.0 716.1L1505.6 713.6L1505.5 711.1L1505.8 708.6L1506.3 706.1L1506.9 703.6L1507.3 701.1L1507.4 698.6L1507.3 696.1L1507.1 693.6L1506.8 691.1L1506.5 688.6L1506.1 686.1L1505.6 683.6L1505.2 681.1L1504.8 678.6L1504.5 676.1L1504.2 673.6L1503.9 671.1L1503.5 668.6L1502.9 666.1L1502.1 663.6L1501.1 661.1L1500.0 658.6L1499.0 656.1L1498.1 653.6L1497.4 651.1L1496.7 648.6L1496.0 646.1L1495.3 643.6L1494.6 641.1L1494.0 638.6L1493.4 636.1L1493.0 633.6L1492.5 631.1L1492.2 628.6L1491.8 626.1L1491.5 623.6L1491.2 621.1L1490.9 618.6L1490.6 616.1L1490.3 613.6L1489.9 611.1L1489.5 608.6L1489.1 606.1L1488.9 603.6L1488.8 601.1L1488.8 598.6L1488.7 596.1L1488.7 593.6L1488.7 591.1L1488.6 588.6L1488.6 586.1L1488.6 583.6L1488.6 581.1L1488.6 578.6L1488.6 576.1L1488.6 575.6L1488.3 575.0L1488.0 574.6L1487.6 574.3L1487.1 574.1L1486.5 574.0Z"/>
<path d="M1501.8 558.3L1501.2 558.4L1500.7 558.6L1500.2 558.9L1499.9 559.4L1499.7 559.9L1499.6 560.5L1499.6 563.0L1499.6 565.5L1499.5 568.0L1499.4 570.5L1499.3 573.0L1499.1 575.5L1498.8 578.0L1498.4 580.5L1498.0 583.0L1497.4 585.5L1496.7 588.0L1495.9 590.5L1495.0 593.0L1494.3 595.5L1493.5 598.0L1492.6 600.5L1491.5 603.0L1490.4 605.5L1489.5 608.0L1488.8 610.5L1488.5 613.0L1488.3 615.5L1487.9 618.0L1487.3 620.5L1486.5 623.0L1485.4 625.5L1484.3 628.0L1483.4 630.5L1482.9 633.0L1482.7 635.5L1482.7 638.0L1482.6 640.5L1482.5 643.0L1482.2 645.5L1482.0 648.0L1481.7 650.5L1481.5 653.0L1481.4 655.5L1481.5 658.0L1481.5 660.5L1481.6 663.0L1481.7 665.5L1481.6 668.0L1481.6 670.5L1481.6 673.0L1481.6 675.5L1481.7 678.0L1481.8 680.5L1482.0 683.0L1482.2 685.5L1482.2 688.0L1482.2 690.5L1482.1 693.0L1482.0 695.5L1481.9 698.0L1481.9 700.5L1482.0 703.0L1482.1 705.5L1482.2 708.0L1482.2 710.5L1482.3 713.0L1482.3 715.5L1482.4 718.0L1482.5 720.5L1482.7 723.0L1482.9 725.5L1483.0 728.0L1483.0 730.5L1482.9 733.0L1482.6 735.5L1482.4 738.0L1482.2 740.5L1482.2 743.0L1482.4 745.5L1482.7 748.0L1482.9 749.1L1483.0 750.4L1483.2 751.8L1483.6 753.1L1484.1 754.4L1484.8 755.8L1485.6 757.1L1486.6 758.4L1487.8 759.8L1489.1 761.1L1490.5 762.4L1492.5 763.8L1496.5 765.1L1507.1 765.1L1511.1 763.8L1513.0 762.4L1514.5 761.1L1515.8 759.8L1516.9 758.4L1517.9 757.1L1518.8 755.8L1519.5 754.4L1520.0 753.1L1520.4 751.8L1520.6 750.4L1520.7 749.1L1520.9 748.0L1521.2 745.5L1521.4 743.0L1521.4 740.5L1521.2 738.0L1520.9 735.5L1520.7 733.0L1520.6 730.5L1520.6 728.0L1520.7 725.5L1520.9 723.0L1521.1 720.5L1521.2 718.0L1521.3 715.5L1521.3 713.0L1521.3 710.5L1521.4 708.0L1521.5 705.5L1521.6 703.0L1521.6 700.5L1521.6 698.0L1521.6 695.5L1521.5 693.0L1521.4 690.5L1521.4 688.0L1521.4 685.5L1521.6 683.0L1521.7 680.5L1521.9 678.0L1522.0 675.5L1522.0 673.0L1522.0 670.5L1521.9 668.0L1521.9 665.5L1522.0 663.0L1522.0 660.5L1522.1 658.0L1522.1 655.5L1522.0 653.0L1521.8 650.5L1521.6 648.0L1521.4 645.5L1521.1 643.0L1520.9 640.5L1520.9 638.0L1520.8 635.5L1520.7 633.0L1520.2 630.5L1519.2 628.0L1518.1 625.5L1517.1 623.0L1516.3 620.5L1515.7 618.0L1515.3 615.5L1515.1 613.0L1514.8 610.5L1514.1 608.0L1513.1 605.5L1512.1 603.0L1511.0 600.5L1510.1 598.0L1509.3 595.5L1508.5 593.0L1507.7 590.5L1506.9 588.0L1506.2 585.5L1505.6 583.0L1505.2 580.5L1504.8 578.0L1504.5 575.5L1504.3 573.0L1504.2 570.5L1504.0 568.0L1504.0 565.5L1504.0 563.0L1504.0 560.5L1503.9 559.9L1503.7 559.4L1503.3 558.9L1502.9 558.6L1502.4 558.4L1501.8 558.3Z"/>
<path d="M1516.4 564.8L1515.9 564.9L1515.3 565.1L1514.9 565.4L1514.6 565.9L1514.4 566.4L1514.3 566.9L1514.3 569.4L1514.3 571.9L1514.3 574.4L1514.3 576.9L1514.2 579.4L1514.1 581.9L1513.8 584.4L1513.3 586.9L1512.7 589.4L1511.9 591.9L1511.1 594.4L1510.3 596.9L1509.5 599.4L1508.5 601.9L1507.5 604.4L1506.6 606.9L1505.5 609.4L1504.6 611.9L1503.5 614.4L1502.5 616.9L1501.5 619.4L1500.5 621.9L1499.7 624.4L1499.1 626.9L1498.8 629.4L1498.5 631.9L1498.2 634.4L1497.7 636.9L1496.9 639.4L1496.3 641.9L1496.0 644.4L1496.0 646.9L1496.3 649.4L1496.6 651.9L1496.6 654.4L1496.3 656.9L1496.0 659.4L1495.9 661.9L1496.0 664.4L1496.3 666.9L1496.6 669.4L1496.7 671.9L1496.5 674.4L1496.3 676.9L1496.1 679.4L1496.1 681.9L1496.3 684.4L1496.6 686.9L1496.8 689.4L1496.9 691.9L1497.0 694.4L1497.0 696.9L1497.0 699.4L1497.0 701.9L1496.9 704.4L1496.6 706.9L1496.3 709.4L1496.3 711.9L1496.5 714.4L1497.0 716.9L1497.5 719.4L1497.8 721.9L1497.8 724.4L1497.6 726.9L1497.3 729.4L1497.2 731.9L1497.3 734.4L1497.5 736.9L1497.5 739.4L1497.4 741.9L1497.5 743.9L1497.6 745.2L1497.8 746.5L1498.2 747.9L1498.7 749.2L1499.4 750.5L1500.2 751.9L1501.2 753.2L1502.4 754.5L1503.7 755.9L1505.1 757.2L1507.1 758.5L1511.1 759.9L1521.7 759.9L1525.7 758.5L1527.7 757.2L1529.1 755.9L1530.4 754.5L1531.6 753.2L1532.5 751.9L1533.4 750.5L1534.1 749.2L1534.6 747.9L1535.0 746.5L1535.2 745.2L1535.3 743.9L1535.4 741.9L1535.2 739.4L1535.3 736.9L1535.5 734.4L1535.6 731.9L1535.5 729.4L1535.2 726.9L1535.0 724.4L1534.9 721.9L1535.2 719.4L1535.8 716.9L1536.2 714.4L1536.5 711.9L1536.5 709.4L1536.2 706.9L1535.9 704.4L1535.8 701.9L1535.7 699.4L1535.8 696.9L1535.8 694.4L1535.9 691.9L1536.0 689.4L1536.2 686.9L1536.5 684.4L1536.7 681.9L1536.7 679.4L1536.5 676.9L1536.3 674.4L1536.1 671.9L1536.2 669.4L1536.5 666.9L1536.8 664.4L1536.9 661.9L1536.8 659.4L1536.5 656.9L1536.2 654.4L1536.2 651.9L1536.5 649.4L1536.8 646.9L1536.8 644.4L1536.5 641.9L1535.8 639.4L1535.1 636.9L1534.6 634.4L1534.3 631.9L1534.0 629.4L1533.7 626.9L1533.0 624.4L1532.2 621.9L1531.3 619.4L1530.3 616.9L1529.3 614.4L1528.2 611.9L1527.2 609.4L1526.2 606.9L1525.2 604.4L1524.3 601.9L1523.3 599.4L1522.5 596.9L1521.7 594.4L1520.9 591.9L1520.1 589.4L1519.5 586.9L1519.0 584.4L1518.7 581.9L1518.6 579.4L1518.5 576.9L1518.5 574.4L1518.5 571.9L1518.5 569.4L1518.5 566.9L1518.4 566.4L1518.2 565.9L1517.9 565.4L1517.4 565.1L1516.9 564.9L1516.4 564.8Z"/>
<path d="M1530.4 555.2L1529.8 555.3L1529.3 555.5L1528.8 555.9L1528.4 556.4L1528.2 556.9L1528.1 557.5L1528.1 560.0L1528.1 562.5L1528.1 565.0L1527.9 567.5L1527.8 570.0L1527.6 572.5L1527.4 575.0L1527.1 577.5L1526.7 580.0L1526.3 582.5L1525.8 585.0L1525.2 587.5L1524.4 590.0L1523.5 592.5L1522.6 595.0L1521.6 597.5L1520.7 600.0L1520.1 602.5L1519.4 605.0L1518.7 607.5L1517.8 610.0L1516.7 612.5L1515.5 615.0L1514.4 617.5L1513.6 620.0L1513.1 622.5L1512.9 625.0L1512.7 627.5L1512.3 630.0L1511.8 632.5L1511.3 635.0L1511.0 637.5L1510.9 640.0L1510.9 642.5L1510.7 645.0L1510.4 647.5L1510.0 650.0L1509.8 652.5L1509.8 655.0L1510.0 657.5L1510.3 660.0L1510.6 662.5L1510.7 665.0L1510.6 667.5L1510.4 670.0L1510.3 672.5L1510.3 675.0L1510.2 677.5L1510.2 680.0L1510.0 682.5L1510.0 685.0L1510.1 687.5L1510.4 690.0L1511.0 692.5L1511.4 695.0L1511.6 697.5L1511.4 700.0L1510.8 702.5L1510.3 705.0L1510.0 707.5L1510.1 710.0L1510.6 712.5L1511.2 715.0L1511.7 717.5L1511.9 720.0L1511.8 722.5L1511.6 725.0L1511.3 727.5L1511.2 730.0L1511.1 732.5L1511.1 735.0L1511.1 737.5L1511.5 738.8L1511.6 740.2L1511.8 741.5L1512.2 742.8L1512.7 744.2L1513.4 745.5L1514.3 746.8L1515.3 748.2L1516.4 749.5L1517.7 750.8L1519.1 752.2L1521.1 753.5L1525.1 754.8L1535.7 754.8L1539.7 753.5L1541.7 752.2L1543.1 750.8L1544.4 749.5L1545.6 748.2L1546.6 746.8L1547.4 745.5L1548.1 744.2L1548.6 742.8L1549.0 741.5L1549.2 740.2L1549.3 738.8L1549.7 737.5L1549.7 735.0L1549.7 732.5L1549.6 730.0L1549.5 727.5L1549.2 725.0L1549.0 722.5L1548.9 720.0L1549.1 717.5L1549.6 715.0L1550.2 712.5L1550.7 710.0L1550.8 707.5L1550.5 705.0L1550.0 702.5L1549.5 700.0L1549.2 697.5L1549.4 695.0L1549.9 692.5L1550.4 690.0L1550.7 687.5L1550.8 685.0L1550.8 682.5L1550.7 680.0L1550.6 677.5L1550.6 675.0L1550.5 672.5L1550.4 670.0L1550.2 667.5L1550.1 665.0L1550.2 662.5L1550.5 660.0L1550.8 657.5L1551.0 655.0L1551.0 652.5L1550.8 650.0L1550.4 647.5L1550.1 645.0L1550.0 642.5L1549.9 640.0L1549.8 637.5L1549.5 635.0L1549.1 632.5L1548.5 630.0L1548.1 627.5L1547.9 625.0L1547.7 622.5L1547.2 620.0L1546.4 617.5L1545.3 615.0L1544.1 612.5L1543.0 610.0L1542.1 607.5L1541.4 605.0L1540.7 602.5L1540.1 600.0L1539.2 597.5L1538.2 595.0L1537.3 592.5L1536.4 590.0L1535.6 587.5L1535.0 585.0L1534.5 582.5L1534.1 580.0L1533.7 577.5L1533.4 575.0L1533.2 572.5L1533.0 570.0L1532.9 567.5L1532.8 565.0L1532.7 562.5L1532.7 560.0L1532.7 557.5L1532.6 556.9L1532.4 556.4L1532.0 555.9L1531.6 555.5L1531.0 555.3L1530.4 555.2Z"/>
<path d="M1543.9 547.8L1543.3 547.9L1542.8 548.1L1542.3 548.4L1542.0 548.9L1541.7 549.4L1541.7 550.0L1541.7 552.5L1541.7 555.0L1541.7 557.5L1541.6 560.0L1541.6 562.5L1541.6 565.0L1541.3 567.5L1541.0 570.0L1540.6 572.5L1540.1 575.0L1539.6 577.5L1539.1 580.0L1538.4 582.5L1537.7 585.0L1537.0 587.5L1536.2 590.0L1535.3 592.5L1534.2 595.0L1532.9 597.5L1531.4 600.0L1529.8 602.5L1528.6 605.0L1527.5 607.5L1526.4 610.0L1525.3 612.5L1524.3 615.0L1523.5 617.5L1523.1 620.0L1522.8 622.5L1522.8 625.0L1523.1 627.5L1523.4 630.0L1523.7 632.5L1523.8 635.0L1523.9 637.5L1523.9 640.0L1523.8 642.5L1523.7 645.0L1523.7 647.5L1523.6 650.0L1523.6 652.5L1523.6 655.0L1523.6 657.5L1523.6 660.0L1523.6 662.5L1523.6 665.0L1523.7 667.5L1523.9 670.0L1524.1 672.5L1524.4 675.0L1524.6 677.5L1524.7 680.0L1524.7 682.5L1524.6 685.0L1524.4 687.5L1524.2 690.0L1524.0 692.5L1523.9 695.0L1523.9 697.5L1524.1 700.0L1524.3 702.5L1524.6 705.0L1524.8 707.5L1525.0 710.0L1525.1 712.5L1525.1 715.0L1525.1 717.5L1525.0 720.0L1524.9 722.5L1524.8 725.0L1524.8 727.5L1524.7 730.0L1524.7 732.5L1525.0 734.0L1525.0 735.3L1525.3 736.7L1525.7 738.0L1526.2 739.3L1526.9 740.7L1527.7 742.0L1528.7 743.3L1529.9 744.7L1531.2 746.0L1532.6 747.3L1534.5 748.7L1538.6 750.0L1549.2 750.0L1553.2 748.7L1555.1 747.3L1556.6 746.0L1557.9 744.7L1559.0 743.3L1560.0 742.0L1560.9 740.7L1561.5 739.3L1562.1 738.0L1562.5 736.7L1562.7 735.3L1562.8 734.0L1563.1 732.5L1563.0 730.0L1563.0 727.5L1562.9 725.0L1562.8 722.5L1562.8 720.0L1562.7 717.5L1562.6 715.0L1562.7 712.5L1562.8 710.0L1562.9 707.5L1563.2 705.0L1563.5 702.5L1563.7 700.0L1563.8 697.5L1563.9 695.0L1563.8 692.5L1563.6 690.0L1563.4 687.5L1563.2 685.0L1563.0 682.5L1563.1 680.0L1563.2 677.5L1563.4 675.0L1563.6 672.5L1563.8 670.0L1564.0 667.5L1564.1 665.0L1564.1 662.5L1564.1 660.0L1564.1 657.5L1564.1 655.0L1564.1 652.5L1564.1 650.0L1564.1 647.5L1564.0 645.0L1563.9 642.5L1563.9 640.0L1563.9 637.5L1563.9 635.0L1564.1 632.5L1564.4 630.0L1564.7 627.5L1564.9 625.0L1564.9 622.5L1564.7 620.0L1564.2 617.5L1563.4 615.0L1562.4 612.5L1561.3 610.0L1560.2 607.5L1559.1 605.0L1558.0 602.5L1556.3 600.0L1554.9 597.5L1553.6 595.0L1552.5 592.5L1551.5 590.0L1550.8 587.5L1550.0 585.0L1549.3 582.5L1548.7 580.0L1548.1 577.5L1547.6 575.0L1547.2 572.5L1546.8 570.0L1546.4 567.5L1546.2 565.0L1546.1 562.5L1546.1 560.0L1546.1 557.5L1546.1 555.0L1546.1 552.5L1546.1 550.0L1546.0 549.4L1545.8 548.9L1545.4 548.4L1545.0 548.1L1544.4 547.9L1543.9 547.8Z"/>
<path d="M1556.8 563.1L1556.3 563.2L1555.8 563.4L1555.3 563.7L1555.0 564.1L1554.8 564.7L1554.7 565.2L1554.7 567.7L1554.7 570.2L1554.7 572.7L1554.7 575.2L1554.7 577.7L1554.7 580.2L1554.7 582.7L1554.7 585.2L1554.7 587.7L1554.6 590.2L1554.6 592.7L1554.6 595.2L1554.5 597.7L1554.3 600.2L1553.9 602.7L1553.5 605.2L1553.2 607.7L1552.8 610.2L1552.4 612.7L1551.9 615.2L1551.4 617.7L1550.9 620.2L1550.4 622.7L1549.9 625.2L1549.5 627.7L1549.1 630.2L1548.7 632.7L1548.3 635.2L1547.9 637.7L1547.5 640.2L1547.2 642.7L1546.8 645.2L1546.3 647.7L1545.8 650.2L1545.3 652.7L1544.9 655.2L1544.5 657.7L1544.0 660.2L1543.4 662.7L1542.6 665.2L1542.0 667.7L1541.5 670.2L1541.2 672.7L1541.0 675.2L1540.7 677.7L1540.1 680.2L1539.6 682.7L1539.1 685.2L1538.7 687.7L1538.5 690.2L1538.2 692.7L1537.8 695.2L1537.1 697.7L1536.6 700.2L1536.3 702.7L1536.4 705.2L1536.7 707.7L1537.0 710.2L1537.1 712.7L1537.0 715.2L1536.9 717.7L1537.1 720.2L1537.5 722.7L1537.9 725.2L1538.1 727.7L1537.9 729.4L1538.0 730.7L1538.2 732.0L1538.6 733.4L1539.1 734.7L1539.8 736.0L1540.7 737.4L1541.7 738.7L1542.8 740.0L1544.1 741.4L1545.6 742.7L1547.5 744.0L1551.5 745.4L1562.1 745.4L1566.2 744.0L1568.1 742.7L1569.5 741.4L1570.8 740.0L1572.0 738.7L1573.0 737.4L1573.8 736.0L1574.5 734.7L1575.0 733.4L1575.4 732.0L1575.7 730.7L1575.7 729.4L1575.5 727.7L1575.8 725.2L1576.2 722.7L1576.6 720.2L1576.7 717.7L1576.7 715.2L1576.6 712.7L1576.7 710.2L1577.0 707.7L1577.3 705.2L1577.4 702.7L1577.1 700.2L1576.5 697.7L1575.9 695.2L1575.4 692.7L1575.1 690.2L1574.9 687.7L1574.6 685.2L1574.1 682.7L1573.5 680.2L1573.0 677.7L1572.7 675.2L1572.5 672.7L1572.2 670.2L1571.7 667.7L1571.0 665.2L1570.3 662.7L1569.7 660.2L1569.2 657.7L1568.8 655.2L1568.3 652.7L1567.8 650.2L1567.3 647.7L1566.9 645.2L1566.5 642.7L1566.1 640.2L1565.8 637.7L1565.4 635.2L1565.0 632.7L1564.6 630.2L1564.1 627.7L1563.7 625.2L1563.3 622.7L1562.8 620.2L1562.2 617.7L1561.7 615.2L1561.3 612.7L1560.9 610.2L1560.5 607.7L1560.1 605.2L1559.8 602.7L1559.3 600.2L1559.1 597.7L1559.1 595.2L1559.0 592.7L1559.0 590.2L1559.0 587.7L1559.0 585.2L1559.0 582.7L1558.9 580.2L1558.9 577.7L1558.9 575.2L1558.9 572.7L1558.9 570.2L1558.9 567.7L1558.9 565.2L1558.9 564.7L1558.6 564.1L1558.3 563.7L1557.9 563.4L1557.4 563.2L1556.8 563.1Z"/>
<path d="M1569.3 549.1L1568.8 549.2L1568.3 549.4L1567.8 549.7L1567.5 550.1L1567.3 550.7L1567.2 551.2L1567.2 553.7L1567.2 556.2L1567.2 558.7L1567.2 561.2L1567.2 563.7L1567.2 566.2L1567.2 568.7L1567.2 571.2L1567.2 573.7L1567.1 576.2L1567.1 578.7L1567.1 581.2L1566.9 583.7L1566.7 586.2L1566.4 588.7L1565.9 591.2L1565.5 593.7L1565.0 596.2L1564.5 598.7L1563.9 601.2L1563.3 603.7L1562.6 606.2L1561.8 608.7L1560.9 611.2L1560.0 613.7L1559.1 616.2L1558.2 618.7L1557.2 621.2L1556.2 623.7L1554.9 626.2L1553.7 628.7L1552.9 631.2L1552.6 633.7L1552.5 636.2L1552.3 638.7L1551.6 641.2L1550.6 643.7L1549.9 646.2L1549.7 648.7L1550.0 651.2L1550.5 653.7L1550.6 656.2L1550.2 658.7L1549.6 661.2L1549.0 663.7L1548.9 666.2L1549.1 668.7L1549.5 671.2L1549.7 673.7L1549.4 676.2L1549.0 678.7L1548.7 681.2L1548.8 683.7L1549.2 686.2L1549.6 688.7L1549.7 691.2L1549.5 693.7L1549.1 696.2L1549.0 698.7L1549.3 701.2L1550.0 703.7L1550.4 706.2L1550.4 708.7L1550.0 711.2L1549.6 713.7L1549.5 716.2L1549.9 718.7L1550.6 721.2L1551.1 723.7L1550.4 724.9L1550.5 726.2L1550.7 727.6L1551.1 728.9L1551.6 730.2L1552.3 731.6L1553.2 732.9L1554.2 734.2L1555.3 735.6L1556.6 736.9L1558.0 738.2L1560.0 739.6L1564.0 740.9L1574.6 740.9L1578.6 739.6L1580.6 738.2L1582.0 736.9L1583.3 735.6L1584.5 734.2L1585.5 732.9L1586.3 731.6L1587.0 730.2L1587.5 728.9L1587.9 727.6L1588.1 726.2L1588.2 724.9L1587.5 723.7L1588.0 721.2L1588.7 718.7L1589.1 716.2L1589.1 713.7L1588.6 711.2L1588.2 708.7L1588.2 706.2L1588.7 703.7L1589.3 701.2L1589.6 698.7L1589.5 696.2L1589.2 693.7L1588.9 691.2L1589.0 688.7L1589.4 686.2L1589.8 683.7L1589.9 681.2L1589.7 678.7L1589.2 676.2L1588.9 673.7L1589.1 671.2L1589.5 668.7L1589.8 666.2L1589.6 663.7L1589.1 661.2L1588.4 658.7L1588.0 656.2L1588.2 653.7L1588.6 651.2L1588.9 648.7L1588.7 646.2L1588.0 643.7L1587.1 641.2L1586.3 638.7L1586.1 636.2L1586.0 633.7L1585.7 631.2L1584.9 628.7L1583.7 626.2L1582.4 623.7L1581.4 621.2L1580.5 618.7L1579.5 616.2L1578.6 613.7L1577.7 611.2L1576.8 608.7L1576.0 606.2L1575.3 603.7L1574.7 601.2L1574.1 598.7L1573.6 596.2L1573.2 593.7L1572.7 591.2L1572.3 588.7L1571.9 586.2L1571.7 583.7L1571.5 581.2L1571.5 578.7L1571.5 576.2L1571.5 573.7L1571.4 571.2L1571.4 568.7L1571.4 566.2L1571.4 563.7L1571.4 561.2L1571.4 558.7L1571.4 556.2L1571.4 553.7L1571.4 551.2L1571.3 550.7L1571.1 550.1L1570.8 549.7L1570.4 549.4L1569.9 549.2L1569.3 549.1Z"/>
<path d="M1581.4 556.8L1580.8 556.9L1580.3 557.1L1579.9 557.4L1579.5 557.9L1579.3 558.4L1579.3 558.9L1579.3 561.4L1579.3 563.9L1579.3 566.4L1579.2 568.9L1579.2 571.4L1579.2 573.9L1579.2 576.4L1579.2 578.9L1579.2 581.4L1579.1 583.9L1579.0 586.4L1578.8 588.9L1578.4 591.4L1578.0 593.9L1577.3 596.4L1576.5 598.9L1575.6 601.4L1574.8 603.9L1574.0 606.4L1573.2 608.9L1572.4 611.4L1571.6 613.9L1570.9 616.4L1570.1 618.9L1569.4 621.4L1568.7 623.9L1568.1 626.4L1567.5 628.9L1566.8 631.4L1565.9 633.9L1565.1 636.4L1564.7 638.9L1564.6 641.4L1564.6 643.9L1564.4 646.4L1563.8 648.9L1563.2 651.4L1563.0 653.9L1563.3 656.4L1563.7 658.9L1563.5 661.4L1562.6 663.9L1561.7 666.4L1561.2 668.9L1561.4 671.4L1561.8 673.9L1561.9 676.4L1561.5 678.9L1560.8 681.4L1560.6 683.9L1561.1 686.4L1561.8 688.9L1562.2 691.4L1561.8 693.9L1561.1 696.4L1560.6 698.9L1560.6 701.4L1561.0 703.9L1561.2 706.4L1561.0 708.9L1560.8 711.4L1560.9 713.9L1561.6 716.4L1562.4 718.9L1562.5 720.6L1562.5 721.9L1562.8 723.2L1563.1 724.6L1563.7 725.9L1564.4 727.2L1565.2 728.6L1566.2 729.9L1567.3 731.2L1568.6 732.6L1570.1 733.9L1572.0 735.2L1576.1 736.6L1586.7 736.6L1590.7 735.2L1592.6 733.9L1594.1 732.6L1595.4 731.2L1596.5 729.9L1597.5 728.6L1598.3 727.2L1599.0 725.9L1599.6 724.6L1600.0 723.2L1600.2 721.9L1600.3 720.6L1600.4 718.9L1601.2 716.4L1601.8 713.9L1601.9 711.4L1601.7 708.9L1601.5 706.4L1601.7 703.9L1602.1 701.4L1602.1 698.9L1601.6 696.4L1600.9 693.9L1600.5 691.4L1600.9 688.9L1601.6 686.4L1602.1 683.9L1601.9 681.4L1601.2 678.9L1600.8 676.4L1600.9 673.9L1601.3 671.4L1601.5 668.9L1601.0 666.4L1600.1 663.9L1599.3 661.4L1599.0 658.9L1599.4 656.4L1599.7 653.9L1599.5 651.4L1598.9 648.9L1598.3 646.4L1598.1 643.9L1598.1 641.4L1598.0 638.9L1597.6 636.4L1596.8 633.9L1595.9 631.4L1595.2 628.9L1594.6 626.4L1594.0 623.9L1593.3 621.4L1592.6 618.9L1591.9 616.4L1591.1 613.9L1590.4 611.4L1589.6 608.9L1588.7 606.4L1587.9 603.9L1587.1 601.4L1586.3 598.9L1585.4 596.4L1584.8 593.9L1584.3 591.4L1583.9 588.9L1583.7 586.4L1583.6 583.9L1583.5 581.4L1583.5 578.9L1583.5 576.4L1583.5 573.9L1583.5 571.4L1583.5 568.9L1583.5 566.4L1583.5 563.9L1583.5 561.4L1583.5 558.9L1583.4 558.4L1583.2 557.9L1582.8 557.4L1582.4 557.1L1581.9 556.9L1581.4 556.8Z"/>
<path d="M1593.0 533.8L1592.4 533.9L1591.9 534.1L1591.4 534.4L1591.1 534.9L1590.9 535.4L1590.8 536.0L1590.8 538.5L1590.8 541.0L1590.8 543.5L1590.8 546.0L1590.8 548.5L1590.7 551.0L1590.7 553.5L1590.4 556.0L1590.0 558.5L1589.5 561.0L1589.0 563.5L1588.4 566.0L1587.7 568.5L1587.0 571.0L1586.3 573.5L1585.7 576.0L1585.1 578.5L1584.4 581.0L1583.8 583.5L1583.1 586.0L1582.3 588.5L1581.4 591.0L1580.3 593.5L1579.0 596.0L1577.6 598.5L1576.0 601.0L1574.8 603.5L1574.2 606.0L1573.8 608.5L1573.4 611.0L1573.2 613.5L1573.4 616.0L1573.7 618.5L1573.9 621.0L1573.9 623.5L1573.6 626.0L1573.4 628.5L1573.3 631.0L1573.2 633.5L1573.2 636.0L1573.0 638.5L1572.7 641.0L1572.7 643.5L1572.9 646.0L1573.3 648.5L1573.7 651.0L1573.9 653.5L1573.9 656.0L1574.0 658.5L1574.2 661.0L1574.5 663.5L1574.5 666.0L1574.3 668.5L1574.0 671.0L1573.8 673.5L1573.8 676.0L1574.0 678.5L1574.2 681.0L1574.2 683.5L1574.3 686.0L1574.4 688.5L1574.8 691.0L1575.3 693.5L1575.6 696.0L1575.6 698.5L1575.5 701.0L1575.4 703.5L1575.4 706.0L1575.4 708.5L1575.3 711.0L1575.0 713.5L1574.8 716.0L1575.2 716.4L1575.3 717.7L1575.5 719.1L1575.9 720.4L1576.4 721.7L1577.1 723.1L1577.9 724.4L1578.9 725.7L1580.1 727.1L1581.4 728.4L1582.8 729.7L1584.8 731.1L1588.8 732.4L1597.2 732.4L1601.2 731.1L1603.2 729.7L1604.6 728.4L1605.9 727.1L1607.1 725.7L1608.0 724.4L1608.9 723.1L1609.6 721.7L1610.1 720.4L1610.5 719.1L1610.7 717.7L1610.8 716.4L1611.2 716.0L1610.9 713.5L1610.7 711.0L1610.6 708.5L1610.6 706.0L1610.6 703.5L1610.5 701.0L1610.4 698.5L1610.4 696.0L1610.7 693.5L1611.2 691.0L1611.5 688.5L1611.7 686.0L1611.8 683.5L1611.8 681.0L1612.0 678.5L1612.1 676.0L1612.1 673.5L1611.9 671.0L1611.6 668.5L1611.5 666.0L1611.5 663.5L1611.8 661.0L1612.0 658.5L1612.1 656.0L1612.1 653.5L1612.3 651.0L1612.7 648.5L1613.1 646.0L1613.3 643.5L1613.2 641.0L1613.0 638.5L1612.8 636.0L1612.7 633.5L1612.7 631.0L1612.6 628.5L1612.4 626.0L1612.1 623.5L1612.1 621.0L1612.3 618.5L1612.6 616.0L1612.8 613.5L1612.6 611.0L1612.2 608.5L1611.8 606.0L1611.2 603.5L1610.0 601.0L1608.4 598.5L1606.9 596.0L1605.7 593.5L1604.6 591.0L1603.7 588.5L1602.9 586.0L1602.2 583.5L1601.6 581.0L1600.9 578.5L1600.3 576.0L1599.7 573.5L1599.0 571.0L1598.3 568.5L1597.6 566.0L1597.0 563.5L1596.5 561.0L1596.0 558.5L1595.6 556.0L1595.3 553.5L1595.3 551.0L1595.2 548.5L1595.2 546.0L1595.2 543.5L1595.2 541.0L1595.2 538.5L1595.2 536.0L1595.1 535.4L1594.9 534.9L1594.5 534.4L1594.1 534.1L1593.6 533.9L1593.0 533.8Z"/>
</g>
<g clip-path="url(#clip1)" fill="none" stroke-width="3.5" stroke-linecap="square" stroke-linejoin="round" stroke-opacity="0.8">
<path d="M425.4 828.99L438.5 828.48L451.6 827.98L464.8 827.49L477.9 827.01L491.0 826.53L504.1 826.06L517.2 825.60L530.4 825.14L543.5 824.69L556.6 824.25L569.7 823.81L582.8 823.38L596.0 822.96L609.1 822.54L622.2 822.14L635.3 821.74L648.4 821.35L661.6 820.96L674.7 820.58L687.8 820.21L700.9 819.85L714.0 819.49L727.2 819.14L740.3 818.80L753.4 818.47L766.5 818.14L779.6 817.82L792.8 817.51L805.9 817.21L819.0 816.91L832.1 816.62L845.2 816.34L858.3 816.07L871.5 815.82L884.6 815.58L897.7 815.37L910.8 815.18L923.9 815.00L937.1 814.83L950.2 814.68L963.3 814.53L976.4 814.39L989.5 814.26L1002.7 814.13L1015.8 814.01L1028.9 813.89L1042.0 813.78L1055.1 813.68L1068.3 813.58L1081.4 813.49L1094.5 813.41L1107.6 813.33L1120.7 813.26L1133.9 813.19L1147.0 813.13L1160.1 813.08L1173.2 813.02L1186.3 812.98L1199.5 812.94L1212.6 812.91L1225.7 812.88L1238.8 812.85L1251.9 812.83L1265.1 812.82L1278.2 812.81L1291.3 812.80L1304.4 812.80L1317.5 812.81L1330.7 812.81L1343.8 812.83L1356.9 812.84L1370.0 812.86L1383.1 812.89L1396.3 812.92L1409.4 812.95L1422.5 812.98L1435.6 813.02L1448.7 813.07L1461.9 813.11L1475.0 813.16L1488.1 813.22L1501.2 813.27L1514.3 813.33L1527.5 813.39L1540.6 813.46L1553.7 813.53L1566.8 813.60L1579.9 813.67L1593.0 813.75" stroke="#0068ea"/>
<path d="M425.4 849.96L438.5 848.33L451.6 846.69L464.8 845.05L477.9 843.41L491.0 841.77L504.1 840.13L517.2 838.50L530.4 836.86L543.5 835.22L556.6 833.58L569.7 831.94L582.8 830.31L596.0 828.67L609.1 827.03L622.2 825.39L635.3 823.76L648.4 822.12L661.6 820.48L674.7 818.85L687.8 817.21L700.9 815.58L714.0 813.94L727.2 812.31L740.3 810.68L753.4 809.06L766.5 807.45L779.6 805.87L792.8 804.34L805.9 802.85L819.0 801.40L832.1 799.98L845.2 798.57L858.3 797.17L871.5 795.76L884.6 794.37L897.7 792.97L910.8 791.58L923.9 790.18L937.1 788.79L950.2 787.40L963.3 786.02L976.4 784.63L989.5 783.25L1002.7 781.88L1015.8 780.50L1028.9 779.13L1042.0 777.77L1055.1 776.41L1068.3 775.05L1081.4 773.70L1094.5 772.36L1107.6 771.02L1120.7 769.69L1133.9 768.37L1147.0 767.05L1160.1 765.75L1173.2 764.45L1186.3 763.17L1199.5 761.89L1212.6 760.63L1225.7 759.38L1238.8 758.15L1251.9 756.92L1265.1 755.72L1278.2 754.53L1291.3 753.35L1304.4 752.19L1317.5 751.05L1330.7 749.93L1343.8 748.82L1356.9 747.73L1370.0 746.66L1383.1 745.61L1396.3 744.57L1409.4 743.56L1422.5 742.56L1435.6 741.58L1448.7 740.61L1461.9 739.67L1475.0 738.74L1488.1 737.82L1501.2 736.92L1514.3 736.03L1527.5 735.16L1540.6 734.29L1553.7 733.44L1566.8 732.61L1579.9 731.78L1593.0 730.96" stroke="#e12d1f"/>
<path d="M425.4 870.22L438.5 867.63L451.6 865.04L464.8 862.45L477.9 859.86L491.0 857.27L504.1 854.69L517.2 852.11L530.4 849.54L543.5 846.96L556.6 844.40L569.7 841.85L582.8 839.30L596.0 836.76L609.1 834.24L622.2 831.74L635.3 829.25L648.4 826.78L661.6 824.33L674.7 821.90L687.8 819.49L700.9 817.11L714.0 814.76L727.2 812.44L740.3 810.15L753.4 807.90L766.5 805.68L779.6 803.49L792.8 801.35L805.9 799.24L819.0 797.18L832.1 795.17L845.2 793.20L858.3 791.27L871.5 789.40L884.6 787.58L897.7 785.82L910.8 784.11L923.9 782.46L937.1 780.86L950.2 779.33L963.3 777.85L976.4 776.44L989.5 775.09L1002.7 773.80L1015.8 772.58L1028.9 771.42L1042.0 770.33L1055.1 769.30L1068.3 768.33L1081.4 767.43L1094.5 766.59L1107.6 765.82L1120.7 765.11L1133.9 764.45L1147.0 763.86L1160.1 763.33L1173.2 762.86L1186.3 762.44L1199.5 762.07L1212.6 761.76L1225.7 761.50L1238.8 761.28L1251.9 761.12L1265.1 761.00L1278.2 760.92L1291.3 760.89L1304.4 760.89L1317.5 760.94L1330.7 761.02L1343.8 761.13L1356.9 761.28L1370.0 761.46L1383.1 761.66L1396.3 761.90L1409.4 762.16L1422.5 762.45L1435.6 762.76L1448.7 763.09L1461.9 763.44L1475.0 763.81L1488.1 764.20L1501.2 764.61L1514.3 765.03L1527.5 765.47L1540.6 765.93L1553.7 766.39L1566.8 766.87L1579.9 767.36L1593.0 767.86" stroke="#009563"/>
<path d="M425.4 861.02L438.5 858.73L451.6 856.44L464.8 854.15L477.9 851.87L491.0 849.60L504.1 847.33L517.2 845.06L530.4 842.80L543.5 840.54L556.6 838.30L569.7 836.06L582.8 833.83L596.0 831.61L609.1 829.40L622.2 827.21L635.3 825.04L648.4 822.92L661.6 820.86L674.7 818.91L687.8 817.10L700.9 815.42L714.0 813.84L727.2 812.33L740.3 810.86L753.4 809.43L766.5 808.03L779.6 806.67L792.8 805.35L805.9 804.07L819.0 802.83L832.1 801.63L845.2 800.48L858.3 799.38L871.5 798.34L884.6 797.35L897.7 796.41L910.8 795.54L923.9 794.72L937.1 793.97L950.2 793.28L963.3 792.65L976.4 792.09L989.5 791.59L1002.7 791.15L1015.8 790.78L1028.9 790.47L1042.0 790.22L1055.1 790.02L1068.3 789.89L1081.4 789.80L1094.5 789.77L1107.6 789.79L1120.7 789.85L1133.9 789.96L1147.0 790.10L1160.1 790.29L1173.2 790.51L1186.3 790.76L1199.5 791.05L1212.6 791.36L1225.7 791.70L1238.8 792.06L1251.9 792.45L1265.1 792.85L1278.2 793.28L1291.3 793.72L1304.4 794.17L1317.5 794.64L1330.7 795.12L1343.8 795.61L1356.9 796.11L1370.0 796.63L1383.1 797.15L1396.3 797.67L1409.4 798.21L1422.5 798.75L1435.6 799.29L1448.7 799.85L1461.9 800.40L1475.0 800.96L1488.1 801.52L1501.2 802.09L1514.3 802.66L1527.5 803.23L1540.6 803.80L1553.7 804.38L1566.8 804.96L1579.9 805.54L1593.0 806.12" stroke="#fe9c00"/>
</g>
<path d="M425.4 912.0L1593.05 887.0" stroke="#333" stroke-width="3.4" stroke-dasharray="12.65 5.42" stroke-dashoffset="0" fill="none"/>
<path d="M982.0 530.5v24M982.0 1038.4v-24M191.6 643.4h24M1772.4 643.4h-24M191.6 756.3h24M1772.4 756.3h-24M191.6 869.2h24M1772.4 869.2h-24M191.6 982.1h24M1772.4 982.1h-24" stroke="#000" stroke-width="2.2" fill="none"/>
<path d="M429.5 530.5v12M429.5 1038.4v-12M568.7 530.5v12M568.7 1038.4v-12M667.5 530.5v12M667.5 1038.4v-12M744.1 530.5v12M744.1 1038.4v-12M806.7 530.5v12M806.7 1038.4v-12M859.6 530.5v12M859.6 1038.4v-12M905.4 530.5v12M905.4 1038.4v-12M945.8 530.5v12M945.8 1038.4v-12M1219.9 530.5v12M1219.9 1038.4v-12M1359.1 530.5v12M1359.1 1038.4v-12M1457.9 530.5v12M1457.9 1038.4v-12M1534.5 530.5v12M1534.5 1038.4v-12M1597.1 530.5v12M1597.1 1038.4v-12M1650.0 530.5v12M1650.0 1038.4v-12M1695.8 530.5v12M1695.8 1038.4v-12M1736.2 530.5v12M1736.2 1038.4v-12M191.6 586.9h12M1772.4 586.9h-12M191.6 699.8h12M1772.4 699.8h-12M191.6 812.7h12M1772.4 812.7h-12M191.6 925.6h12M1772.4 925.6h-12" stroke="#000" stroke-width="2.2" fill="none"/>
<rect x="209.5" y="548.3" width="569.5" height="111.4" rx="6" fill="#fff" fill-opacity="0.8" stroke="#cccccc" stroke-opacity="0.8" stroke-width="4.6"/>
<path d="M222.2 575.5H298.1" stroke="#0068ea" stroke-opacity="0.8" stroke-width="3.5" fill="none"/>
<path d="M222.2 625.8H298.1" stroke="#e12d1f" stroke-opacity="0.8" stroke-width="3.5" fill="none"/>
<path d="M551.0 575.5H627.0" stroke="#009563" stroke-opacity="0.8" stroke-width="3.5" fill="none"/>
<path d="M551.0 625.8H627.0" stroke="#fe9c00" stroke-opacity="0.8" stroke-width="3.5" fill="none"/>
<text transform="matrix(0.3174 0 0 0.2939 324.14 588.00)" font-size="100" letter-spacing="2.08">STABLE-N</text>
<text transform="matrix(0.3174 0 0 0.2939 325.25 638.50)" font-size="100" letter-spacing="2.60">META-LS</text>
<text transform="matrix(0.3174 0 0 0.2939 653.85 588.00)" font-size="100" letter-spacing="1.81">DW-SM</text>
<text transform="matrix(0.3174 0 0 0.2939 653.85 638.50)" font-size="100" letter-spacing="3.90">DW-DR</text>
</g>
<path d="M191.6 22.5H1772.4V1038.4H191.6ZM191.6 530.5H1772.4" fill="none" stroke="#000" stroke-width="2.5" stroke-linejoin="miter"/>
<g id="labels">
<text><tspan x="80.47" y="39.21" font-size="48.74" textLength="48.16" lengthAdjust="spacingAndGlyphs">10</tspan><tspan x="128.32" y="25.28" font-size="36.00" textLength="25.71" lengthAdjust="spacingAndGlyphs">−</tspan><tspan x="154.42" y="22.37" font-size="33.69" textLength="16.88" lengthAdjust="spacingAndGlyphs">4</tspan></text>
<text><tspan x="80.47" y="152.10" font-size="48.74" textLength="48.16" lengthAdjust="spacingAndGlyphs">10</tspan><tspan x="128.32" y="138.17" font-size="36.00" textLength="25.71" lengthAdjust="spacingAndGlyphs">−</tspan><tspan x="153.44" y="134.76" font-size="32.69" textLength="18.47" lengthAdjust="spacingAndGlyphs">6</tspan></text>
<text><tspan x="80.47" y="264.99" font-size="48.74" textLength="48.16" lengthAdjust="spacingAndGlyphs">10</tspan><tspan x="128.32" y="251.06" font-size="36.00" textLength="25.71" lengthAdjust="spacingAndGlyphs">−</tspan><tspan x="153.62" y="247.65" font-size="32.44" textLength="18.66" lengthAdjust="spacingAndGlyphs">8</tspan></text>
<text><tspan x="63.37" y="377.88" font-size="48.74" textLength="48.16" lengthAdjust="spacingAndGlyphs">10</tspan><tspan x="111.22" y="363.95" font-size="36.00" textLength="25.71" lengthAdjust="spacingAndGlyphs">−</tspan><tspan x="136.76" y="360.54" font-size="32.44" textLength="34.94" lengthAdjust="spacingAndGlyphs">10</tspan></text>
<text><tspan x="63.37" y="490.77" font-size="48.74" textLength="48.16" lengthAdjust="spacingAndGlyphs">10</tspan><tspan x="111.22" y="476.84" font-size="36.00" textLength="25.71" lengthAdjust="spacingAndGlyphs">−</tspan><tspan x="136.70" y="473.76" font-size="33.18" textLength="35.56" lengthAdjust="spacingAndGlyphs">12</tspan></text>
<text><tspan x="80.47" y="547.21" font-size="48.74" textLength="48.16" lengthAdjust="spacingAndGlyphs">10</tspan><tspan x="128.32" y="533.28" font-size="36.00" textLength="25.71" lengthAdjust="spacingAndGlyphs">−</tspan><tspan x="154.42" y="530.37" font-size="33.69" textLength="16.88" lengthAdjust="spacingAndGlyphs">4</tspan></text>
<text><tspan x="80.47" y="660.10" font-size="48.74" textLength="48.16" lengthAdjust="spacingAndGlyphs">10</tspan><tspan x="128.32" y="646.17" font-size="36.00" textLength="25.71" lengthAdjust="spacingAndGlyphs">−</tspan><tspan x="153.44" y="642.76" font-size="32.69" textLength="18.47" lengthAdjust="spacingAndGlyphs">6</tspan></text>
<text><tspan x="80.47" y="772.99" font-size="48.74" textLength="48.16" lengthAdjust="spacingAndGlyphs">10</tspan><tspan x="128.32" y="759.06" font-size="36.00" textLength="25.71" lengthAdjust="spacingAndGlyphs">−</tspan><tspan x="153.62" y="755.65" font-size="32.44" textLength="18.66" lengthAdjust="spacingAndGlyphs">8</tspan></text>
<text><tspan x="63.37" y="885.88" font-size="48.74" textLength="48.16" lengthAdjust="spacingAndGlyphs">10</tspan><tspan x="111.22" y="871.95" font-size="36.00" textLength="25.71" lengthAdjust="spacingAndGlyphs">−</tspan><tspan x="136.76" y="868.54" font-size="32.44" textLength="34.94" lengthAdjust="spacingAndGlyphs">10</tspan></text>
<text><tspan x="63.37" y="998.77" font-size="48.74" textLength="48.16" lengthAdjust="spacingAndGlyphs">10</tspan><tspan x="111.22" y="984.84" font-size="36.00" textLength="25.71" lengthAdjust="spacingAndGlyphs">−</tspan><tspan x="136.70" y="981.76" font-size="33.18" textLength="35.56" lengthAdjust="spacingAndGlyphs">12</tspan></text>
<text><tspan x="145.13" y="1092.21" font-size="49.33" textLength="48.51" lengthAdjust="spacingAndGlyphs">10</tspan><tspan x="193.64" y="1077.68" font-size="36.00" textLength="25.47" lengthAdjust="spacingAndGlyphs">−</tspan><tspan x="220.05" y="1075.06" font-size="33.73" textLength="17.44" lengthAdjust="spacingAndGlyphs">9</tspan></text>
<text><tspan x="935.53" y="1092.21" font-size="49.33" textLength="48.51" lengthAdjust="spacingAndGlyphs">10</tspan><tspan x="984.04" y="1077.68" font-size="36.00" textLength="25.47" lengthAdjust="spacingAndGlyphs">−</tspan><tspan x="1010.07" y="1075.07" font-size="33.48" textLength="17.86" lengthAdjust="spacingAndGlyphs">8</tspan></text>
<text><tspan x="1725.93" y="1092.21" font-size="49.33" textLength="48.51" lengthAdjust="spacingAndGlyphs">10</tspan><tspan x="1774.44" y="1077.68" font-size="36.00" textLength="25.47" lengthAdjust="spacingAndGlyphs">−</tspan><tspan x="1799.49" y="1075.57" font-size="34.77" textLength="18.52" lengthAdjust="spacingAndGlyphs">7</tspan></text>
<text xml:space="preserve"><tspan x="922.04" y="1152.86" font-size="48.31" textLength="15.43" lengthAdjust="spacingAndGlyphs" style="font-style:italic">f</tspan> <tspan x="965.92" y="1157.56" font-size="58.79" textLength="10.14" lengthAdjust="spacingAndGlyphs">[</tspan><tspan x="976.08" y="1153.10" font-size="50.38" textLength="55.36" lengthAdjust="spacingAndGlyphs">Hz</tspan><tspan x="1031.97" y="1157.56" font-size="58.79" textLength="9.77" lengthAdjust="spacingAndGlyphs">]</tspan></text>
<text transform="translate(39.1 344.0) rotate(-90)"><tspan x="-1.70" y="0.25" font-size="49.05" textLength="24.24" lengthAdjust="spacingAndGlyphs" style="font-style:italic">h</tspan><tspan x="23.33" y="-17.10" font-size="31.67" textLength="18.21" lengthAdjust="spacingAndGlyphs">2</tspan><tspan x="43.04" y="0.00" font-size="53.03" textLength="33.56" lengthAdjust="spacingAndGlyphs">Ω</tspan><tspan x="77.55" y="7.08" font-size="34.96" textLength="60.49" lengthAdjust="spacingAndGlyphs">GW</tspan></text>
<text transform="translate(39.1 852.0) rotate(-90)"><tspan x="-1.70" y="0.25" font-size="49.05" textLength="24.24" lengthAdjust="spacingAndGlyphs" style="font-style:italic">h</tspan><tspan x="23.33" y="-17.10" font-size="31.67" textLength="18.21" lengthAdjust="spacingAndGlyphs">2</tspan><tspan x="43.04" y="0.00" font-size="53.03" textLength="33.56" lengthAdjust="spacingAndGlyphs">Ω</tspan><tspan x="77.55" y="7.08" font-size="34.96" textLength="60.49" lengthAdjust="spacingAndGlyphs">GW</tspan></text>
</g>
</svg></body></html>
